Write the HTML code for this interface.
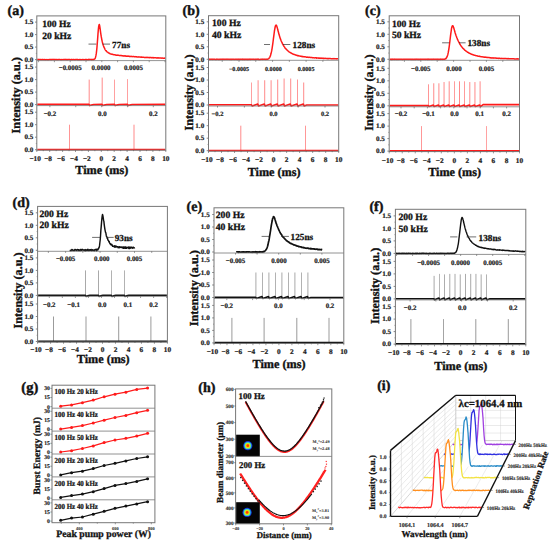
<!DOCTYPE html>
<html><head><meta charset="utf-8"><style>
html,body{margin:0;padding:0;background:#fff;}
svg{display:block;}
text{font-family:"Liberation Serif", serif;text-rendering:geometricPrecision;}
</style></head><body>
<svg width="550" height="546" viewBox="0 0 550 546">
<rect width="550" height="546" fill="#fff"/>
<line x1="35" y1="59.6" x2="36.8" y2="59.6" stroke="#555" stroke-width="0.7" />
<g transform="translate(33.3,61.8) scale(1.03,1)"><text x="0" y="0" font-size="6.9" text-anchor="end" font-weight="bold" fill="#222" stroke="#222" stroke-width="0.21" >0.0</text></g>
<line x1="35.8" y1="53.35" x2="36.8" y2="53.35" stroke="#555" stroke-width="0.5" />
<line x1="35" y1="47.1" x2="36.8" y2="47.1" stroke="#555" stroke-width="0.7" />
<g transform="translate(33.3,49.3) scale(1.03,1)"><text x="0" y="0" font-size="6.9" text-anchor="end" font-weight="bold" fill="#222" stroke="#222" stroke-width="0.21" >0.5</text></g>
<line x1="35.8" y1="40.85" x2="36.8" y2="40.85" stroke="#555" stroke-width="0.5" />
<line x1="35" y1="34.6" x2="36.8" y2="34.6" stroke="#555" stroke-width="0.7" />
<g transform="translate(33.3,36.8) scale(1.03,1)"><text x="0" y="0" font-size="6.9" text-anchor="end" font-weight="bold" fill="#222" stroke="#222" stroke-width="0.21" >1.0</text></g>
<line x1="35.8" y1="28.35" x2="36.8" y2="28.35" stroke="#555" stroke-width="0.5" />
<line x1="35" y1="22.1" x2="36.8" y2="22.1" stroke="#555" stroke-width="0.7" />
<g transform="translate(33.3,24.3) scale(1.03,1)"><text x="0" y="0" font-size="6.9" text-anchor="end" font-weight="bold" fill="#222" stroke="#222" stroke-width="0.21" >1.5</text></g>
<line x1="35" y1="104.6" x2="36.8" y2="104.6" stroke="#555" stroke-width="0.7" />
<g transform="translate(33.3,106.8) scale(1.03,1)"><text x="0" y="0" font-size="6.9" text-anchor="end" font-weight="bold" fill="#222" stroke="#222" stroke-width="0.21" >0.0</text></g>
<line x1="35.8" y1="98.35" x2="36.8" y2="98.35" stroke="#555" stroke-width="0.5" />
<line x1="35" y1="92.1" x2="36.8" y2="92.1" stroke="#555" stroke-width="0.7" />
<g transform="translate(33.3,94.3) scale(1.03,1)"><text x="0" y="0" font-size="6.9" text-anchor="end" font-weight="bold" fill="#222" stroke="#222" stroke-width="0.21" >0.5</text></g>
<line x1="35.8" y1="85.85" x2="36.8" y2="85.85" stroke="#555" stroke-width="0.5" />
<line x1="35" y1="79.6" x2="36.8" y2="79.6" stroke="#555" stroke-width="0.7" />
<g transform="translate(33.3,81.8) scale(1.03,1)"><text x="0" y="0" font-size="6.9" text-anchor="end" font-weight="bold" fill="#222" stroke="#222" stroke-width="0.21" >1.0</text></g>
<line x1="35.8" y1="73.35" x2="36.8" y2="73.35" stroke="#555" stroke-width="0.5" />
<line x1="35" y1="67.1" x2="36.8" y2="67.1" stroke="#555" stroke-width="0.7" />
<g transform="translate(33.3,69.3) scale(1.03,1)"><text x="0" y="0" font-size="6.9" text-anchor="end" font-weight="bold" fill="#222" stroke="#222" stroke-width="0.21" >1.5</text></g>
<line x1="35" y1="149.7" x2="36.8" y2="149.7" stroke="#555" stroke-width="0.7" />
<g transform="translate(33.3,151.9) scale(1.03,1)"><text x="0" y="0" font-size="6.9" text-anchor="end" font-weight="bold" fill="#222" stroke="#222" stroke-width="0.21" >0.0</text></g>
<line x1="35.8" y1="143.45" x2="36.8" y2="143.45" stroke="#555" stroke-width="0.5" />
<line x1="35" y1="137.2" x2="36.8" y2="137.2" stroke="#555" stroke-width="0.7" />
<g transform="translate(33.3,139.4) scale(1.03,1)"><text x="0" y="0" font-size="6.9" text-anchor="end" font-weight="bold" fill="#222" stroke="#222" stroke-width="0.21" >0.5</text></g>
<line x1="35.8" y1="130.95" x2="36.8" y2="130.95" stroke="#555" stroke-width="0.5" />
<line x1="35" y1="124.7" x2="36.8" y2="124.7" stroke="#555" stroke-width="0.7" />
<g transform="translate(33.3,126.9) scale(1.03,1)"><text x="0" y="0" font-size="6.9" text-anchor="end" font-weight="bold" fill="#222" stroke="#222" stroke-width="0.21" >1.0</text></g>
<line x1="35.8" y1="118.45" x2="36.8" y2="118.45" stroke="#555" stroke-width="0.5" />
<line x1="35" y1="112.2" x2="36.8" y2="112.2" stroke="#555" stroke-width="0.7" />
<g transform="translate(33.3,114.4) scale(1.03,1)"><text x="0" y="0" font-size="6.9" text-anchor="end" font-weight="bold" fill="#222" stroke="#222" stroke-width="0.21" >1.5</text></g>
<polyline points="37.3,59.71 37.63,59.5 37.97,59.52 38.3,59.67 38.63,59.6 38.97,59.62 39.3,59.55 39.63,59.51 39.97,59.72 40.3,59.74 40.63,59.5 40.97,59.62 41.3,59.52 41.63,59.75 41.97,59.62 42.3,59.53 42.63,59.68 42.97,59.47 43.3,59.48 43.63,59.74 43.97,59.74 44.3,59.59 44.63,59.47 44.97,59.64 45.3,59.69 45.63,59.62 45.97,59.74 46.3,59.68 46.63,59.62 46.97,59.6 47.3,59.68 47.63,59.68 47.97,59.68 48.3,59.61 48.63,59.66 48.97,59.74 49.3,59.5 49.63,59.58 49.97,59.56 50.3,59.69 50.63,59.45 50.97,59.49 51.3,59.71 51.63,59.65 51.97,59.53 52.3,59.54 52.63,59.47 52.97,59.62 53.3,59.5 53.63,59.55 53.97,59.66 54.3,59.57 54.63,59.49 54.97,59.5 55.3,59.6 55.63,59.57 55.97,59.74 56.3,59.68 56.63,59.51 56.97,59.63 57.3,59.7 57.63,59.59 57.97,59.54 58.3,59.55 58.63,59.64 58.97,59.62 59.3,59.6 59.63,59.52 59.97,59.59 60.3,59.63 60.63,59.6 60.97,59.74 61.3,59.74 61.63,59.54 61.97,59.46 62.3,59.57 62.63,59.63 62.97,59.7 63.3,59.6 63.63,59.46 63.97,59.52 64.3,59.59 64.63,59.49 64.97,59.68 65.3,59.6 65.63,59.46 65.97,59.58 66.3,59.61 66.63,59.67 66.97,59.59 67.3,59.46 67.63,59.75 67.97,59.51 68.3,59.5 68.63,59.48 68.97,59.53 69.3,59.51 69.63,59.59 69.97,59.58 70.3,59.62 70.63,59.73 70.97,59.49 71.3,59.58 71.63,59.69 71.97,59.6 72.3,59.6 72.63,59.64 72.97,59.65 73.3,59.59 73.63,59.56 73.97,59.57 74.3,59.61 74.63,59.74 74.97,59.68 75.3,59.7 75.63,59.57 75.97,59.49 76.3,59.51 76.63,59.51 76.97,59.51 77.3,59.67 77.63,59.5 77.97,59.55 78.3,59.73 78.63,59.74 78.97,59.75 79.3,59.52 79.63,59.68 79.97,59.72 80.3,59.56 80.63,59.65 80.97,59.73 81.3,59.7 81.63,59.59 81.97,59.7 82.3,59.67 82.63,59.54 82.97,59.61 83.3,59.65 83.63,59.61 83.97,59.74 84.3,59.63 84.63,59.62 84.97,59.69 85.3,59.72 85.63,59.48 85.97,59.6 86.3,59.69 86.63,59.57 86.97,59.5 87.3,59.74 87.63,59.74 87.97,59.71 88.3,59.53 88.63,59.7 88.97,59.54 89.3,59.55 89.63,59.59 89.97,59.68 90.3,59.46 90.63,59.51 90.97,59.59 91.3,59.68 91.63,59.56 91.97,59.63 92.3,59.57 92.63,59.65 92.97,59.55 93.3,59.7 93.63,59.59 93.97,59.32 94.3,59.21 94.63,59.14 94.97,58.57 95.3,58.07 95.63,56.86 95.97,55.41 96.3,53.42 96.63,50.7 96.97,47.33 97.3,43.03 97.63,38.85 97.97,34.13 98.3,29.98 98.63,26.86 98.97,25.06 99.3,24.49 99.63,25.51 99.97,27.6 100.3,30.08 100.63,32.56 100.97,34.84 101.3,36.94 101.63,38.63 101.97,40.35 102.3,41.89 102.63,43.23 102.97,44.24 103.3,45.4 103.63,46.28 103.97,47.18 104.3,47.78 104.63,48.45 104.97,49.32 105.3,49.82 105.63,50.28 105.97,50.52 106.3,50.99 106.63,51.48 106.97,51.85 107.3,52 107.63,52.22 107.97,52.44 108.3,52.83 108.63,52.87 108.97,53.12 109.3,53.34 109.63,53.35 109.97,53.71 110.3,53.7 110.63,54.01 110.97,54.09 111.3,53.97 111.63,54.28 111.97,54.2 112.3,54.33 112.63,54.34 112.97,54.55 113.3,54.63 113.63,54.71 113.97,54.6 114.3,54.74 114.63,54.69 114.97,54.76 115.3,55.04 115.63,54.97 115.97,55.15 116.3,55.21 116.63,55.25 116.97,55.05 117.3,55.12 117.63,55.15 117.97,55.33 118.3,55.29 118.63,55.28 118.97,55.43 119.3,55.41 119.63,55.55 119.97,55.63 120.3,55.61 120.63,55.45 120.97,55.59 121.3,55.51 121.63,55.68 121.97,55.77 122.3,55.65 122.63,55.67 122.97,55.94 123.3,55.77 123.63,55.98 123.97,56 124.3,55.8 124.63,56.08 124.97,56.05 125.3,55.85 125.63,56.05 125.97,56.17 126.3,56.18 126.63,56.19 126.97,56.07 127.3,56.28 127.63,56.07 127.97,56.26 128.3,56.1 128.63,56.15 128.97,56.36 129.3,56.4 129.63,56.36 129.97,56.49 130.3,56.35 130.63,56.56 130.97,56.59 131.3,56.33 131.63,56.56 131.97,56.49 132.3,56.56 132.63,56.62 132.97,56.72 133.3,56.49 133.63,56.5 133.97,56.52 134.3,56.8 134.63,56.79 134.97,56.69 135.3,56.61 135.63,56.76 135.97,56.74 136.3,56.77 136.63,56.91 136.97,56.85 137.3,56.94 137.63,56.98 137.97,57.05 138.3,57.01 138.63,56.82 138.97,57 139.3,56.96 139.63,56.98 139.97,56.91 140.3,57.1 140.63,57.14 140.97,57.15 141.3,57.18 141.63,57.04 141.97,57.04 142.3,57.24 142.63,57.25 142.97,57.2 143.3,57.21 143.63,57.22 143.97,57.35 144.3,57.43 144.63,57.38 144.97,57.45 145.3,57.33 145.63,57.49 145.97,57.5 146.3,57.35 146.63,57.47 146.97,57.34 147.3,57.45 147.63,57.35 147.97,57.58 148.3,57.49 148.63,57.42 148.97,57.65 149.3,57.41 149.63,57.66 149.97,57.49 150.3,57.44 150.63,57.51 150.97,57.67 151.3,57.75 151.63,57.65 151.97,57.54 152.3,57.74 152.63,57.58 152.97,57.82 153.3,57.6 153.63,57.88 153.97,57.81 154.3,57.65 154.63,57.69 154.97,57.67 155.3,57.71 155.63,57.75 155.97,57.78 156.3,57.95 156.63,57.89 156.97,57.98 157.3,57.83 157.63,57.85 157.97,57.99 158.3,58.06 158.63,57.8 158.97,57.86 159.3,57.95 159.63,57.97 159.97,57.89 160.3,58.02 160.63,58.05 160.97,58.08 161.3,58.12 161.63,58.2 161.97,58.02 162.3,58.1 162.63,58.07 162.97,58.23 163.3,58.16 163.63,58.23 163.97,58.25 164.3,58.22 164.63,58.06 164.97,58.19 165.3,58.2" fill="none" stroke="#ff1a1a" stroke-width="1.5" stroke-linejoin="round" />
<polyline points="37.3,104.4 89,104.4 89.7,105.6 91.2,105.1 93.7,104.5 102,104.4 102.7,105.6 104.2,105.1 106.7,104.5 114.5,104.4 115.2,105.6 116.7,105.1 119.2,104.5 127.5,104.4 128.2,105.6 129.7,105.1 132.2,104.5 165.3,104.4" fill="none" stroke="#ff1a1a" stroke-width="1.6" stroke-linejoin="round" />
<line x1="89.2" y1="104.6" x2="89.2" y2="79.6" stroke="#ff1a1a" stroke-width="0.6" opacity="0.85"/>
<line x1="102.2" y1="104.6" x2="102.2" y2="77.6" stroke="#ff1a1a" stroke-width="0.6" opacity="0.85"/>
<line x1="114.7" y1="104.6" x2="114.7" y2="79.6" stroke="#ff1a1a" stroke-width="0.6" opacity="0.85"/>
<line x1="127.7" y1="104.6" x2="127.7" y2="79.1" stroke="#ff1a1a" stroke-width="0.6" opacity="0.85"/>
<line x1="37.3" y1="149.5" x2="165.3" y2="149.5" stroke="#ff1a1a" stroke-width="1.7" />
<line x1="69.6" y1="149.7" x2="69.6" y2="124.7" stroke="#ff1a1a" stroke-width="0.6" opacity="0.85"/>
<line x1="134" y1="149.7" x2="134" y2="124.7" stroke="#ff1a1a" stroke-width="0.6" opacity="0.85"/>
<line x1="36.8" y1="60.6" x2="165.8" y2="60.6" stroke="#777" stroke-width="0.8" />
<line x1="36.8" y1="105.6" x2="165.8" y2="105.6" stroke="#777" stroke-width="0.8" />
<rect x="36.8" y="15.9" width="129" height="134.3" fill="none" stroke="#777" stroke-width="1"/>
<text x="70.2" y="70.2" font-size="6.9" text-anchor="middle" font-weight="bold" fill="#222" stroke="#222" stroke-width="0.21" >−0.0005</text>
<text x="101.1" y="70.2" font-size="6.9" text-anchor="middle" font-weight="bold" fill="#222" stroke="#222" stroke-width="0.21" >0.0000</text>
<text x="133.4" y="70.2" font-size="6.9" text-anchor="middle" font-weight="bold" fill="#222" stroke="#222" stroke-width="0.21" >0.0005</text>
<line x1="38.6" y1="60.6" x2="38.6" y2="62.2" stroke="#555" stroke-width="0.6" />
<line x1="54.4" y1="60.6" x2="54.4" y2="62.2" stroke="#555" stroke-width="0.6" />
<line x1="70.2" y1="60.6" x2="70.2" y2="62.2" stroke="#555" stroke-width="0.6" />
<line x1="86" y1="60.6" x2="86" y2="62.2" stroke="#555" stroke-width="0.6" />
<line x1="101.8" y1="60.6" x2="101.8" y2="62.2" stroke="#555" stroke-width="0.6" />
<line x1="117.6" y1="60.6" x2="117.6" y2="62.2" stroke="#555" stroke-width="0.6" />
<line x1="133.4" y1="60.6" x2="133.4" y2="62.2" stroke="#555" stroke-width="0.6" />
<line x1="149.2" y1="60.6" x2="149.2" y2="62.2" stroke="#555" stroke-width="0.6" />
<line x1="165" y1="60.6" x2="165" y2="62.2" stroke="#555" stroke-width="0.6" />
<text x="49.9" y="116.2" font-size="6.9" text-anchor="middle" font-weight="bold" fill="#222" stroke="#222" stroke-width="0.21" >−0.2</text>
<text x="102.4" y="116.2" font-size="6.9" text-anchor="middle" font-weight="bold" fill="#222" stroke="#222" stroke-width="0.21" >0.0</text>
<text x="153.3" y="116.2" font-size="6.9" text-anchor="middle" font-weight="bold" fill="#222" stroke="#222" stroke-width="0.21" >0.2</text>
<line x1="49.9" y1="105.6" x2="49.9" y2="107.2" stroke="#555" stroke-width="0.6" />
<line x1="75.75" y1="105.6" x2="75.75" y2="107.2" stroke="#555" stroke-width="0.6" />
<line x1="101.6" y1="105.6" x2="101.6" y2="107.2" stroke="#555" stroke-width="0.6" />
<line x1="127.45" y1="105.6" x2="127.45" y2="107.2" stroke="#555" stroke-width="0.6" />
<line x1="153.3" y1="105.6" x2="153.3" y2="107.2" stroke="#555" stroke-width="0.6" />
<line x1="36.8" y1="150.2" x2="36.8" y2="152" stroke="#555" stroke-width="0.6" />
<line x1="43.25" y1="150.2" x2="43.25" y2="151.2" stroke="#555" stroke-width="0.6" />
<line x1="49.7" y1="150.2" x2="49.7" y2="152" stroke="#555" stroke-width="0.6" />
<line x1="56.15" y1="150.2" x2="56.15" y2="151.2" stroke="#555" stroke-width="0.6" />
<line x1="62.6" y1="150.2" x2="62.6" y2="152" stroke="#555" stroke-width="0.6" />
<line x1="69.05" y1="150.2" x2="69.05" y2="151.2" stroke="#555" stroke-width="0.6" />
<line x1="75.5" y1="150.2" x2="75.5" y2="152" stroke="#555" stroke-width="0.6" />
<line x1="81.95" y1="150.2" x2="81.95" y2="151.2" stroke="#555" stroke-width="0.6" />
<line x1="88.4" y1="150.2" x2="88.4" y2="152" stroke="#555" stroke-width="0.6" />
<line x1="94.85" y1="150.2" x2="94.85" y2="151.2" stroke="#555" stroke-width="0.6" />
<line x1="101.3" y1="150.2" x2="101.3" y2="152" stroke="#555" stroke-width="0.6" />
<line x1="107.75" y1="150.2" x2="107.75" y2="151.2" stroke="#555" stroke-width="0.6" />
<line x1="114.2" y1="150.2" x2="114.2" y2="152" stroke="#555" stroke-width="0.6" />
<line x1="120.65" y1="150.2" x2="120.65" y2="151.2" stroke="#555" stroke-width="0.6" />
<line x1="127.1" y1="150.2" x2="127.1" y2="152" stroke="#555" stroke-width="0.6" />
<line x1="133.55" y1="150.2" x2="133.55" y2="151.2" stroke="#555" stroke-width="0.6" />
<line x1="140" y1="150.2" x2="140" y2="152" stroke="#555" stroke-width="0.6" />
<line x1="146.45" y1="150.2" x2="146.45" y2="151.2" stroke="#555" stroke-width="0.6" />
<line x1="152.9" y1="150.2" x2="152.9" y2="152" stroke="#555" stroke-width="0.6" />
<line x1="159.35" y1="150.2" x2="159.35" y2="151.2" stroke="#555" stroke-width="0.6" />
<line x1="165.8" y1="150.2" x2="165.8" y2="152" stroke="#555" stroke-width="0.6" />
<text x="35.2" y="161" font-size="7.3" text-anchor="middle" font-weight="bold" fill="#222" stroke="#222" stroke-width="0.22" >−10</text>
<text x="48.1" y="161" font-size="7.3" text-anchor="middle" font-weight="bold" fill="#222" stroke="#222" stroke-width="0.22" >−8</text>
<text x="61" y="161" font-size="7.3" text-anchor="middle" font-weight="bold" fill="#222" stroke="#222" stroke-width="0.22" >−6</text>
<text x="73.9" y="161" font-size="7.3" text-anchor="middle" font-weight="bold" fill="#222" stroke="#222" stroke-width="0.22" >−4</text>
<text x="86.8" y="161" font-size="7.3" text-anchor="middle" font-weight="bold" fill="#222" stroke="#222" stroke-width="0.22" >−2</text>
<text x="101.3" y="161" font-size="7.3" text-anchor="middle" font-weight="bold" fill="#222" stroke="#222" stroke-width="0.22" >0</text>
<text x="114.2" y="161" font-size="7.3" text-anchor="middle" font-weight="bold" fill="#222" stroke="#222" stroke-width="0.22" >2</text>
<text x="127.1" y="161" font-size="7.3" text-anchor="middle" font-weight="bold" fill="#222" stroke="#222" stroke-width="0.22" >4</text>
<text x="140" y="161" font-size="7.3" text-anchor="middle" font-weight="bold" fill="#222" stroke="#222" stroke-width="0.22" >6</text>
<text x="152.9" y="161" font-size="7.3" text-anchor="middle" font-weight="bold" fill="#222" stroke="#222" stroke-width="0.22" >8</text>
<text x="165.8" y="161" font-size="7.3" text-anchor="middle" font-weight="bold" fill="#222" stroke="#222" stroke-width="0.22" >10</text>
<line x1="88.5" y1="44.1" x2="96.3" y2="44.1" stroke="#222" stroke-width="0.65" />
<line x1="102.7" y1="44.1" x2="110" y2="44.1" stroke="#222" stroke-width="0.65" />
<text x="112.1" y="47.7" font-size="9.2" text-anchor="start" font-weight="bold" fill="#111" stroke="#111" stroke-width="0.28" >77ns</text>
<text x="42.2" y="27.4" font-size="9.6" text-anchor="start" font-weight="bold" fill="#111" stroke="#111" stroke-width="0.29" >100 Hz</text>
<text x="42.2" y="39.3" font-size="9.6" text-anchor="start" font-weight="bold" fill="#111" stroke="#111" stroke-width="0.29" >20 kHz</text>
<text x="7.6" y="14.7" font-size="14" text-anchor="start" font-weight="bold" fill="#111" stroke="#111" stroke-width="0.42" >(a)</text>
<text x="101.8" y="174.3" font-size="12.2" text-anchor="middle" font-weight="bold" fill="#111" stroke="#111" stroke-width="0.37" >Time (ms)</text>
<text x="0" y="0" font-size="12.2" text-anchor="middle" font-weight="bold" fill="#111" stroke="#111" stroke-width="0.37" transform="translate(20.3,95.3) rotate(-90)">Intensity (a.u.)</text>
<line x1="206.7" y1="59.3" x2="208.5" y2="59.3" stroke="#555" stroke-width="0.7" />
<g transform="translate(204.2,61.5) scale(1.03,1)"><text x="0" y="0" font-size="6.9" text-anchor="end" font-weight="bold" fill="#222" stroke="#222" stroke-width="0.21" >0.0</text></g>
<line x1="207.5" y1="53.05" x2="208.5" y2="53.05" stroke="#555" stroke-width="0.5" />
<line x1="206.7" y1="46.8" x2="208.5" y2="46.8" stroke="#555" stroke-width="0.7" />
<g transform="translate(204.2,49) scale(1.03,1)"><text x="0" y="0" font-size="6.9" text-anchor="end" font-weight="bold" fill="#222" stroke="#222" stroke-width="0.21" >0.5</text></g>
<line x1="207.5" y1="40.55" x2="208.5" y2="40.55" stroke="#555" stroke-width="0.5" />
<line x1="206.7" y1="34.3" x2="208.5" y2="34.3" stroke="#555" stroke-width="0.7" />
<g transform="translate(204.2,36.5) scale(1.03,1)"><text x="0" y="0" font-size="6.9" text-anchor="end" font-weight="bold" fill="#222" stroke="#222" stroke-width="0.21" >1.0</text></g>
<line x1="207.5" y1="28.05" x2="208.5" y2="28.05" stroke="#555" stroke-width="0.5" />
<line x1="206.7" y1="21.8" x2="208.5" y2="21.8" stroke="#555" stroke-width="0.7" />
<g transform="translate(204.2,24) scale(1.03,1)"><text x="0" y="0" font-size="6.9" text-anchor="end" font-weight="bold" fill="#222" stroke="#222" stroke-width="0.21" >1.5</text></g>
<line x1="206.7" y1="105" x2="208.5" y2="105" stroke="#555" stroke-width="0.7" />
<g transform="translate(204.2,107.2) scale(1.03,1)"><text x="0" y="0" font-size="6.9" text-anchor="end" font-weight="bold" fill="#222" stroke="#222" stroke-width="0.21" >0.0</text></g>
<line x1="207.5" y1="98.75" x2="208.5" y2="98.75" stroke="#555" stroke-width="0.5" />
<line x1="206.7" y1="92.5" x2="208.5" y2="92.5" stroke="#555" stroke-width="0.7" />
<g transform="translate(204.2,94.7) scale(1.03,1)"><text x="0" y="0" font-size="6.9" text-anchor="end" font-weight="bold" fill="#222" stroke="#222" stroke-width="0.21" >0.5</text></g>
<line x1="207.5" y1="86.25" x2="208.5" y2="86.25" stroke="#555" stroke-width="0.5" />
<line x1="206.7" y1="80" x2="208.5" y2="80" stroke="#555" stroke-width="0.7" />
<g transform="translate(204.2,82.2) scale(1.03,1)"><text x="0" y="0" font-size="6.9" text-anchor="end" font-weight="bold" fill="#222" stroke="#222" stroke-width="0.21" >1.0</text></g>
<line x1="207.5" y1="73.75" x2="208.5" y2="73.75" stroke="#555" stroke-width="0.5" />
<line x1="206.7" y1="67.5" x2="208.5" y2="67.5" stroke="#555" stroke-width="0.7" />
<g transform="translate(204.2,69.7) scale(1.03,1)"><text x="0" y="0" font-size="6.9" text-anchor="end" font-weight="bold" fill="#222" stroke="#222" stroke-width="0.21" >1.5</text></g>
<line x1="206.7" y1="150.7" x2="208.5" y2="150.7" stroke="#555" stroke-width="0.7" />
<g transform="translate(204.2,152.9) scale(1.03,1)"><text x="0" y="0" font-size="6.9" text-anchor="end" font-weight="bold" fill="#222" stroke="#222" stroke-width="0.21" >0.0</text></g>
<line x1="207.5" y1="144.45" x2="208.5" y2="144.45" stroke="#555" stroke-width="0.5" />
<line x1="206.7" y1="138.2" x2="208.5" y2="138.2" stroke="#555" stroke-width="0.7" />
<g transform="translate(204.2,140.4) scale(1.03,1)"><text x="0" y="0" font-size="6.9" text-anchor="end" font-weight="bold" fill="#222" stroke="#222" stroke-width="0.21" >0.5</text></g>
<line x1="207.5" y1="131.95" x2="208.5" y2="131.95" stroke="#555" stroke-width="0.5" />
<line x1="206.7" y1="125.7" x2="208.5" y2="125.7" stroke="#555" stroke-width="0.7" />
<g transform="translate(204.2,127.9) scale(1.03,1)"><text x="0" y="0" font-size="6.9" text-anchor="end" font-weight="bold" fill="#222" stroke="#222" stroke-width="0.21" >1.0</text></g>
<line x1="207.5" y1="119.45" x2="208.5" y2="119.45" stroke="#555" stroke-width="0.5" />
<line x1="206.7" y1="113.2" x2="208.5" y2="113.2" stroke="#555" stroke-width="0.7" />
<g transform="translate(204.2,115.4) scale(1.03,1)"><text x="0" y="0" font-size="6.9" text-anchor="end" font-weight="bold" fill="#222" stroke="#222" stroke-width="0.21" >1.5</text></g>
<polyline points="209,59.16 209.33,59.17 209.67,59.43 210,59.42 210.34,59.2 210.67,59.23 211,59.25 211.34,59.36 211.67,59.27 212,59.27 212.34,59.28 212.67,59.4 213.01,59.32 213.34,59.33 213.67,59.23 214.01,59.15 214.34,59.17 214.68,59.29 215.01,59.32 215.34,59.37 215.68,59.44 216.01,59.44 216.34,59.31 216.68,59.35 217.01,59.34 217.35,59.18 217.68,59.29 218.01,59.28 218.35,59.38 218.68,59.44 219.02,59.35 219.35,59.41 219.68,59.3 220.02,59.15 220.35,59.25 220.68,59.4 221.02,59.18 221.35,59.21 221.69,59.23 222.02,59.18 222.35,59.22 222.69,59.21 223.02,59.34 223.36,59.16 223.69,59.16 224.02,59.4 224.36,59.22 224.69,59.24 225.02,59.31 225.36,59.29 225.69,59.3 226.03,59.17 226.36,59.3 226.69,59.2 227.03,59.34 227.36,59.19 227.7,59.18 228.03,59.31 228.36,59.28 228.7,59.17 229.03,59.23 229.36,59.3 229.7,59.38 230.03,59.35 230.37,59.24 230.7,59.4 231.03,59.18 231.37,59.37 231.7,59.18 232.04,59.36 232.37,59.16 232.7,59.24 233.04,59.3 233.37,59.29 233.7,59.25 234.04,59.27 234.37,59.36 234.71,59.39 235.04,59.3 235.37,59.17 235.71,59.26 236.04,59.43 236.38,59.2 236.71,59.23 237.04,59.18 237.38,59.39 237.71,59.23 238.04,59.43 238.38,59.25 238.71,59.37 239.05,59.38 239.38,59.19 239.71,59.42 240.05,59.29 240.38,59.19 240.72,59.38 241.05,59.39 241.38,59.19 241.72,59.32 242.05,59.23 242.39,59.44 242.72,59.34 243.05,59.4 243.39,59.25 243.72,59.43 244.05,59.16 244.39,59.44 244.72,59.23 245.06,59.44 245.39,59.37 245.72,59.21 246.06,59.4 246.39,59.39 246.73,59.24 247.06,59.33 247.39,59.44 247.73,59.15 248.06,59.4 248.39,59.44 248.73,59.35 249.06,59.27 249.4,59.23 249.73,59.42 250.06,59.35 250.4,59.44 250.73,59.32 251.07,59.22 251.4,59.23 251.73,59.18 252.07,59.22 252.4,59.19 252.73,59.24 253.07,59.31 253.4,59.38 253.74,59.25 254.07,59.36 254.4,59.42 254.74,59.32 255.07,59.19 255.41,59.41 255.74,59.27 256.07,59.33 256.41,59.3 256.74,59.41 257.07,59.16 257.41,59.37 257.74,59.27 258.08,59.32 258.41,59.44 258.74,59.28 259.08,59.41 259.41,59.43 259.75,59.44 260.08,59.4 260.41,59.42 260.75,59.26 261.08,59.3 261.41,59.15 261.75,59.17 262.08,59.15 262.42,59.38 262.75,59.32 263.08,59.37 263.42,59.27 263.75,59.26 264.09,59.21 264.42,59.23 264.75,59.37 265.09,59.32 265.42,59.28 265.75,59.43 266.09,59.41 266.42,59.28 266.76,59.34 267.09,59.12 267.42,59.2 267.76,59.16 268.09,59.01 268.43,58.83 268.76,58.6 269.09,58.2 269.43,57.81 269.76,57.32 270.09,56.55 270.43,55.83 270.76,54.58 271.1,53.3 271.43,51.89 271.76,50.25 272.1,48.27 272.43,46.07 272.77,43.87 273.1,41.24 273.43,38.61 273.77,36.1 274.1,33.59 274.43,31 274.77,29.03 275.1,27.25 275.44,25.86 275.77,25.22 276.1,25.11 276.44,25.22 276.77,26.14 277.11,27.28 277.44,28.31 277.77,29.8 278.11,31.06 278.44,32.2 278.77,33.48 279.11,34.86 279.44,35.84 279.78,36.91 280.11,37.89 280.44,38.92 280.78,39.7 281.11,40.71 281.45,41.45 281.78,42.18 282.11,42.73 282.45,43.68 282.78,44.12 283.11,44.9 283.45,45.37 283.78,45.98 284.12,46.48 284.45,46.9 284.78,47.48 285.12,48.01 285.45,48.44 285.79,48.85 286.12,49.01 286.45,49.44 286.79,49.69 287.12,50.1 287.45,50.62 287.79,50.73 288.12,50.98 288.46,51.27 288.79,51.6 289.12,51.89 289.46,52.1 289.79,52.22 290.13,52.6 290.46,52.72 290.79,52.94 291.13,52.98 291.46,53.21 291.79,53.34 292.13,53.54 292.46,53.86 292.8,54.03 293.13,54.1 293.46,54.3 293.8,54.39 294.13,54.44 294.47,54.49 294.8,54.71 295.13,54.75 295.47,55.08 295.8,55.11 296.13,55.02 296.47,55.37 296.8,55.38 297.14,55.58 297.47,55.66 297.8,55.5 298.14,55.56 298.47,55.74 298.81,55.97 299.14,56 299.47,56.09 299.81,56.02 300.14,56.09 300.47,56.23 300.81,56.26 301.14,56.45 301.48,56.38 301.81,56.31 302.14,56.43 302.48,56.68 302.81,56.61 303.15,56.6 303.48,56.79 303.81,56.64 304.15,56.82 304.48,56.79 304.81,56.93 305.15,56.79 305.48,56.9 305.82,57.01 306.15,57.17 306.48,57.12 306.82,57.29 307.15,57.16 307.49,57.11 307.82,57.35 308.15,57.29 308.49,57.33 308.82,57.39 309.16,57.33 309.49,57.29 309.82,57.39 310.16,57.5 310.49,57.38 310.82,57.6 311.16,57.5 311.49,57.56 311.83,57.55 312.16,57.55 312.49,57.77 312.83,57.68 313.16,57.77 313.5,57.71 313.83,57.65 314.16,57.77 314.5,57.98 314.83,57.87 315.16,57.82 315.5,57.79 315.83,57.88 316.17,57.85 316.5,58.12 316.83,57.86 317.17,57.94 317.5,58 317.84,57.93 318.17,57.96 318.5,58.21 318.84,58.02 319.17,58.05 319.5,58.24 319.84,58.09 320.17,58.16 320.51,58.29 320.84,58.13 321.17,58.34 321.51,58.22 321.84,58.29 322.18,58.36 322.51,58.28 322.84,58.32 323.18,58.42 323.51,58.2 323.84,58.49 324.18,58.52 324.51,58.39 324.85,58.3 325.18,58.37 325.51,58.35 325.85,58.45 326.18,58.4 326.52,58.52 326.85,58.55 327.18,58.49 327.52,58.65 327.85,58.64 328.18,58.45 328.52,58.64 328.85,58.48 329.19,58.48 329.52,58.6 329.85,58.53 330.19,58.51 330.52,58.5 330.86,58.73 331.19,58.73 331.52,58.67 331.86,58.66 332.19,58.72 332.52,58.81 332.86,58.66 333.19,58.55 333.53,58.74 333.86,58.69 334.19,58.75 334.53,58.74 334.86,58.62 335.2,58.8 335.53,58.7 335.86,58.76 336.2,58.75 336.53,58.65 336.86,58.91 337.2,58.69 337.53,58.85 337.87,58.75 338.2,58.71" fill="none" stroke="#ff1a1a" stroke-width="1.5" stroke-linejoin="round" />
<polyline points="209,104.8 251.4,104.8 252.1,105.9 257.7,104.1 258.5,105.9 264.3,104.1 265.1,105.9 270.7,104.1 271.5,105.9 277.3,104.1 278.1,105.9 283.7,104.1 284.5,105.9 290.3,104.1 291.1,105.9 297,104.1 297.8,105.9 303.3,104.1 304.1,105.9 306.7,105 338.2,105" fill="none" stroke="#ff1a1a" stroke-width="1.6" stroke-linejoin="round" />
<line x1="251.7" y1="105" x2="251.7" y2="82.5" stroke="#ff1a1a" stroke-width="0.6" opacity="0.85"/>
<line x1="258.1" y1="105" x2="258.1" y2="80.25" stroke="#ff1a1a" stroke-width="0.6" opacity="0.85"/>
<line x1="264.7" y1="105" x2="264.7" y2="80.25" stroke="#ff1a1a" stroke-width="0.6" opacity="0.85"/>
<line x1="271.1" y1="105" x2="271.1" y2="80.25" stroke="#ff1a1a" stroke-width="0.6" opacity="0.85"/>
<line x1="277.7" y1="105" x2="277.7" y2="79.5" stroke="#ff1a1a" stroke-width="0.6" opacity="0.85"/>
<line x1="284.1" y1="105" x2="284.1" y2="78.5" stroke="#ff1a1a" stroke-width="0.6" opacity="0.85"/>
<line x1="290.7" y1="105" x2="290.7" y2="78.5" stroke="#ff1a1a" stroke-width="0.6" opacity="0.85"/>
<line x1="297.4" y1="105" x2="297.4" y2="79.5" stroke="#ff1a1a" stroke-width="0.6" opacity="0.85"/>
<line x1="303.7" y1="105" x2="303.7" y2="82.5" stroke="#ff1a1a" stroke-width="0.6" opacity="0.85"/>
<line x1="209" y1="150.5" x2="338.2" y2="150.5" stroke="#ff1a1a" stroke-width="1.7" />
<line x1="240.8" y1="150.7" x2="240.8" y2="125.7" stroke="#ff1a1a" stroke-width="0.6" opacity="0.85"/>
<line x1="305.4" y1="150.7" x2="305.4" y2="125.7" stroke="#ff1a1a" stroke-width="0.6" opacity="0.85"/>
<line x1="208.5" y1="60.3" x2="338.7" y2="60.3" stroke="#777" stroke-width="0.8" />
<line x1="208.5" y1="106" x2="338.7" y2="106" stroke="#777" stroke-width="0.8" />
<rect x="208.5" y="15.7" width="130.2" height="135.5" fill="none" stroke="#777" stroke-width="1"/>
<text x="239" y="70.5" font-size="6.1" text-anchor="middle" font-weight="bold" fill="#222" stroke="#222" stroke-width="0.18" >−0.0005</text>
<text x="273.4" y="70.5" font-size="6.1" text-anchor="middle" font-weight="bold" fill="#222" stroke="#222" stroke-width="0.18" >0.0000</text>
<text x="306.1" y="70.5" font-size="6.1" text-anchor="middle" font-weight="bold" fill="#222" stroke="#222" stroke-width="0.18" >0.0005</text>
<line x1="222.22" y1="60.3" x2="222.22" y2="61.9" stroke="#555" stroke-width="0.6" />
<line x1="239" y1="60.3" x2="239" y2="61.9" stroke="#555" stroke-width="0.6" />
<line x1="255.78" y1="60.3" x2="255.78" y2="61.9" stroke="#555" stroke-width="0.6" />
<line x1="272.55" y1="60.3" x2="272.55" y2="61.9" stroke="#555" stroke-width="0.6" />
<line x1="289.33" y1="60.3" x2="289.33" y2="61.9" stroke="#555" stroke-width="0.6" />
<line x1="306.1" y1="60.3" x2="306.1" y2="61.9" stroke="#555" stroke-width="0.6" />
<line x1="322.88" y1="60.3" x2="322.88" y2="61.9" stroke="#555" stroke-width="0.6" />
<text x="217.5" y="115.7" font-size="6.5" text-anchor="middle" font-weight="bold" fill="#222" stroke="#222" stroke-width="0.20" >−0.2</text>
<text x="273.5" y="115.7" font-size="6.5" text-anchor="middle" font-weight="bold" fill="#222" stroke="#222" stroke-width="0.20" >0.0</text>
<text x="325" y="115.7" font-size="6.5" text-anchor="middle" font-weight="bold" fill="#222" stroke="#222" stroke-width="0.20" >0.2</text>
<line x1="217.5" y1="106" x2="217.5" y2="107.6" stroke="#555" stroke-width="0.6" />
<line x1="244.38" y1="106" x2="244.38" y2="107.6" stroke="#555" stroke-width="0.6" />
<line x1="271.25" y1="106" x2="271.25" y2="107.6" stroke="#555" stroke-width="0.6" />
<line x1="298.12" y1="106" x2="298.12" y2="107.6" stroke="#555" stroke-width="0.6" />
<line x1="325" y1="106" x2="325" y2="107.6" stroke="#555" stroke-width="0.6" />
<line x1="208.5" y1="151.2" x2="208.5" y2="153" stroke="#555" stroke-width="0.6" />
<line x1="215.01" y1="151.2" x2="215.01" y2="152.2" stroke="#555" stroke-width="0.6" />
<line x1="221.52" y1="151.2" x2="221.52" y2="153" stroke="#555" stroke-width="0.6" />
<line x1="228.03" y1="151.2" x2="228.03" y2="152.2" stroke="#555" stroke-width="0.6" />
<line x1="234.54" y1="151.2" x2="234.54" y2="153" stroke="#555" stroke-width="0.6" />
<line x1="241.05" y1="151.2" x2="241.05" y2="152.2" stroke="#555" stroke-width="0.6" />
<line x1="247.56" y1="151.2" x2="247.56" y2="153" stroke="#555" stroke-width="0.6" />
<line x1="254.07" y1="151.2" x2="254.07" y2="152.2" stroke="#555" stroke-width="0.6" />
<line x1="260.58" y1="151.2" x2="260.58" y2="153" stroke="#555" stroke-width="0.6" />
<line x1="267.09" y1="151.2" x2="267.09" y2="152.2" stroke="#555" stroke-width="0.6" />
<line x1="273.6" y1="151.2" x2="273.6" y2="153" stroke="#555" stroke-width="0.6" />
<line x1="280.11" y1="151.2" x2="280.11" y2="152.2" stroke="#555" stroke-width="0.6" />
<line x1="286.62" y1="151.2" x2="286.62" y2="153" stroke="#555" stroke-width="0.6" />
<line x1="293.13" y1="151.2" x2="293.13" y2="152.2" stroke="#555" stroke-width="0.6" />
<line x1="299.64" y1="151.2" x2="299.64" y2="153" stroke="#555" stroke-width="0.6" />
<line x1="306.15" y1="151.2" x2="306.15" y2="152.2" stroke="#555" stroke-width="0.6" />
<line x1="312.66" y1="151.2" x2="312.66" y2="153" stroke="#555" stroke-width="0.6" />
<line x1="319.17" y1="151.2" x2="319.17" y2="152.2" stroke="#555" stroke-width="0.6" />
<line x1="325.68" y1="151.2" x2="325.68" y2="153" stroke="#555" stroke-width="0.6" />
<line x1="332.19" y1="151.2" x2="332.19" y2="152.2" stroke="#555" stroke-width="0.6" />
<line x1="338.7" y1="151.2" x2="338.7" y2="153" stroke="#555" stroke-width="0.6" />
<text x="206.9" y="161.8" font-size="7.3" text-anchor="middle" font-weight="bold" fill="#222" stroke="#222" stroke-width="0.22" >−10</text>
<text x="219.92" y="161.8" font-size="7.3" text-anchor="middle" font-weight="bold" fill="#222" stroke="#222" stroke-width="0.22" >−8</text>
<text x="232.94" y="161.8" font-size="7.3" text-anchor="middle" font-weight="bold" fill="#222" stroke="#222" stroke-width="0.22" >−6</text>
<text x="245.96" y="161.8" font-size="7.3" text-anchor="middle" font-weight="bold" fill="#222" stroke="#222" stroke-width="0.22" >−4</text>
<text x="258.98" y="161.8" font-size="7.3" text-anchor="middle" font-weight="bold" fill="#222" stroke="#222" stroke-width="0.22" >−2</text>
<text x="273.6" y="161.8" font-size="7.3" text-anchor="middle" font-weight="bold" fill="#222" stroke="#222" stroke-width="0.22" >0</text>
<text x="286.62" y="161.8" font-size="7.3" text-anchor="middle" font-weight="bold" fill="#222" stroke="#222" stroke-width="0.22" >2</text>
<text x="299.64" y="161.8" font-size="7.3" text-anchor="middle" font-weight="bold" fill="#222" stroke="#222" stroke-width="0.22" >4</text>
<text x="312.66" y="161.8" font-size="7.3" text-anchor="middle" font-weight="bold" fill="#222" stroke="#222" stroke-width="0.22" >6</text>
<text x="325.68" y="161.8" font-size="7.3" text-anchor="middle" font-weight="bold" fill="#222" stroke="#222" stroke-width="0.22" >8</text>
<text x="338.7" y="161.8" font-size="7.3" text-anchor="middle" font-weight="bold" fill="#222" stroke="#222" stroke-width="0.22" >10</text>
<line x1="264" y1="44.5" x2="270" y2="44.5" stroke="#222" stroke-width="0.65" />
<line x1="283" y1="44.5" x2="290.3" y2="44.5" stroke="#222" stroke-width="0.65" />
<text x="292.6" y="48.1" font-size="9.2" text-anchor="start" font-weight="bold" fill="#111" stroke="#111" stroke-width="0.28" >128ns</text>
<text x="212" y="26" font-size="9.7" text-anchor="start" font-weight="bold" fill="#111" stroke="#111" stroke-width="0.29" >100 Hz</text>
<text x="212" y="37.5" font-size="9.7" text-anchor="start" font-weight="bold" fill="#111" stroke="#111" stroke-width="0.29" >40 kHz</text>
<text x="182.6" y="14.9" font-size="14" text-anchor="start" font-weight="bold" fill="#111" stroke="#111" stroke-width="0.42" >(b)</text>
<text x="274.1" y="175.5" font-size="12.2" text-anchor="middle" font-weight="bold" fill="#111" stroke="#111" stroke-width="0.37" >Time (ms)</text>
<text x="0" y="0" font-size="12.2" text-anchor="middle" font-weight="bold" fill="#111" stroke="#111" stroke-width="0.37" transform="translate(193.4,92.5) rotate(-90)">Intensity (a.u.)</text>
<line x1="387.4" y1="59.3" x2="389.2" y2="59.3" stroke="#555" stroke-width="0.7" />
<g transform="translate(384.9,61.5) scale(1.03,1)"><text x="0" y="0" font-size="6.9" text-anchor="end" font-weight="bold" fill="#222" stroke="#222" stroke-width="0.21" >0.0</text></g>
<line x1="388.2" y1="53.05" x2="389.2" y2="53.05" stroke="#555" stroke-width="0.5" />
<line x1="387.4" y1="46.8" x2="389.2" y2="46.8" stroke="#555" stroke-width="0.7" />
<g transform="translate(384.9,49) scale(1.03,1)"><text x="0" y="0" font-size="6.9" text-anchor="end" font-weight="bold" fill="#222" stroke="#222" stroke-width="0.21" >0.5</text></g>
<line x1="388.2" y1="40.55" x2="389.2" y2="40.55" stroke="#555" stroke-width="0.5" />
<line x1="387.4" y1="34.3" x2="389.2" y2="34.3" stroke="#555" stroke-width="0.7" />
<g transform="translate(384.9,36.5) scale(1.03,1)"><text x="0" y="0" font-size="6.9" text-anchor="end" font-weight="bold" fill="#222" stroke="#222" stroke-width="0.21" >1.0</text></g>
<line x1="388.2" y1="28.05" x2="389.2" y2="28.05" stroke="#555" stroke-width="0.5" />
<line x1="387.4" y1="21.8" x2="389.2" y2="21.8" stroke="#555" stroke-width="0.7" />
<g transform="translate(384.9,24) scale(1.03,1)"><text x="0" y="0" font-size="6.9" text-anchor="end" font-weight="bold" fill="#222" stroke="#222" stroke-width="0.21" >1.5</text></g>
<line x1="387.4" y1="105.8" x2="389.2" y2="105.8" stroke="#555" stroke-width="0.7" />
<g transform="translate(384.9,108) scale(1.03,1)"><text x="0" y="0" font-size="6.9" text-anchor="end" font-weight="bold" fill="#222" stroke="#222" stroke-width="0.21" >0.0</text></g>
<line x1="388.2" y1="99.55" x2="389.2" y2="99.55" stroke="#555" stroke-width="0.5" />
<line x1="387.4" y1="93.3" x2="389.2" y2="93.3" stroke="#555" stroke-width="0.7" />
<g transform="translate(384.9,95.5) scale(1.03,1)"><text x="0" y="0" font-size="6.9" text-anchor="end" font-weight="bold" fill="#222" stroke="#222" stroke-width="0.21" >0.5</text></g>
<line x1="388.2" y1="87.05" x2="389.2" y2="87.05" stroke="#555" stroke-width="0.5" />
<line x1="387.4" y1="80.8" x2="389.2" y2="80.8" stroke="#555" stroke-width="0.7" />
<g transform="translate(384.9,83) scale(1.03,1)"><text x="0" y="0" font-size="6.9" text-anchor="end" font-weight="bold" fill="#222" stroke="#222" stroke-width="0.21" >1.0</text></g>
<line x1="388.2" y1="74.55" x2="389.2" y2="74.55" stroke="#555" stroke-width="0.5" />
<line x1="387.4" y1="68.3" x2="389.2" y2="68.3" stroke="#555" stroke-width="0.7" />
<g transform="translate(384.9,70.5) scale(1.03,1)"><text x="0" y="0" font-size="6.9" text-anchor="end" font-weight="bold" fill="#222" stroke="#222" stroke-width="0.21" >1.5</text></g>
<line x1="387.4" y1="151.1" x2="389.2" y2="151.1" stroke="#555" stroke-width="0.7" />
<g transform="translate(384.9,153.3) scale(1.03,1)"><text x="0" y="0" font-size="6.9" text-anchor="end" font-weight="bold" fill="#222" stroke="#222" stroke-width="0.21" >0.0</text></g>
<line x1="388.2" y1="144.85" x2="389.2" y2="144.85" stroke="#555" stroke-width="0.5" />
<line x1="387.4" y1="138.6" x2="389.2" y2="138.6" stroke="#555" stroke-width="0.7" />
<g transform="translate(384.9,140.8) scale(1.03,1)"><text x="0" y="0" font-size="6.9" text-anchor="end" font-weight="bold" fill="#222" stroke="#222" stroke-width="0.21" >0.5</text></g>
<line x1="388.2" y1="132.35" x2="389.2" y2="132.35" stroke="#555" stroke-width="0.5" />
<line x1="387.4" y1="126.1" x2="389.2" y2="126.1" stroke="#555" stroke-width="0.7" />
<g transform="translate(384.9,128.3) scale(1.03,1)"><text x="0" y="0" font-size="6.9" text-anchor="end" font-weight="bold" fill="#222" stroke="#222" stroke-width="0.21" >1.0</text></g>
<line x1="388.2" y1="119.85" x2="389.2" y2="119.85" stroke="#555" stroke-width="0.5" />
<line x1="387.4" y1="113.6" x2="389.2" y2="113.6" stroke="#555" stroke-width="0.7" />
<g transform="translate(384.9,115.8) scale(1.03,1)"><text x="0" y="0" font-size="6.9" text-anchor="end" font-weight="bold" fill="#222" stroke="#222" stroke-width="0.21" >1.5</text></g>
<polyline points="389.7,59.38 390.03,59.29 390.37,59.34 390.7,59.27 391.04,59.26 391.37,59.43 391.7,59.45 392.04,59.2 392.37,59.37 392.71,59.38 393.04,59.15 393.38,59.31 393.71,59.2 394.04,59.31 394.38,59.26 394.71,59.4 395.05,59.26 395.38,59.19 395.71,59.29 396.05,59.23 396.38,59.25 396.72,59.43 397.05,59.22 397.38,59.27 397.72,59.36 398.05,59.44 398.39,59.19 398.72,59.31 399.06,59.23 399.39,59.19 399.72,59.24 400.06,59.17 400.39,59.33 400.73,59.21 401.06,59.32 401.39,59.17 401.73,59.19 402.06,59.42 402.4,59.41 402.73,59.38 403.06,59.16 403.4,59.32 403.73,59.26 404.07,59.36 404.4,59.3 404.73,59.33 405.07,59.34 405.4,59.27 405.74,59.27 406.07,59.18 406.41,59.25 406.74,59.17 407.07,59.19 407.41,59.15 407.74,59.25 408.08,59.4 408.41,59.19 408.74,59.16 409.08,59.18 409.41,59.28 409.75,59.24 410.08,59.39 410.41,59.2 410.75,59.28 411.08,59.36 411.42,59.43 411.75,59.19 412.09,59.15 412.42,59.42 412.75,59.21 413.09,59.33 413.42,59.4 413.76,59.36 414.09,59.22 414.42,59.19 414.76,59.44 415.09,59.27 415.43,59.44 415.76,59.23 416.09,59.35 416.43,59.19 416.76,59.16 417.1,59.3 417.43,59.15 417.77,59.36 418.1,59.43 418.43,59.27 418.77,59.44 419.1,59.39 419.44,59.33 419.77,59.27 420.1,59.4 420.44,59.44 420.77,59.19 421.11,59.36 421.44,59.16 421.77,59.18 422.11,59.34 422.44,59.31 422.78,59.29 423.11,59.26 423.44,59.27 423.78,59.28 424.11,59.26 424.45,59.17 424.78,59.3 425.12,59.32 425.45,59.23 425.78,59.38 426.12,59.36 426.45,59.16 426.79,59.29 427.12,59.29 427.45,59.45 427.79,59.33 428.12,59.28 428.46,59.44 428.79,59.27 429.12,59.26 429.46,59.43 429.79,59.26 430.13,59.31 430.46,59.25 430.8,59.34 431.13,59.24 431.46,59.23 431.8,59.44 432.13,59.43 432.47,59.25 432.8,59.16 433.13,59.37 433.47,59.31 433.8,59.27 434.14,59.35 434.47,59.34 434.8,59.36 435.14,59.34 435.47,59.27 435.81,59.36 436.14,59.34 436.48,59.22 436.81,59.44 437.14,59.28 437.48,59.23 437.81,59.36 438.15,59.38 438.48,59.21 438.81,59.38 439.15,59.39 439.48,59.32 439.82,59.24 440.15,59.42 440.48,59.35 440.82,59.35 441.15,59.2 441.49,59.32 441.82,59.19 442.16,59.4 442.49,59.34 442.82,59.24 443.16,59.17 443.49,59.28 443.83,59.33 444.16,59.33 444.49,59.16 444.83,59.19 445.16,58.89 445.5,58.72 445.83,58.69 446.16,58.34 446.5,57.74 446.83,57.21 447.17,56.4 447.5,55.57 447.83,54.43 448.17,52.91 448.5,51 448.84,49.12 449.17,46.8 449.51,44.25 449.84,41.54 450.17,38.75 450.51,35.81 450.84,33.38 451.18,31.01 451.51,28.68 451.84,27.14 452.18,26.1 452.51,25.82 452.85,25.75 453.18,26.29 453.51,27.35 453.85,28.24 454.18,29.35 454.52,30.56 454.85,31.75 455.19,32.93 455.52,33.97 455.85,35.02 456.19,36.03 456.52,36.8 456.86,37.77 457.19,38.44 457.52,39.47 457.86,39.98 458.19,40.77 458.53,41.39 458.86,42.06 459.19,42.69 459.53,43.39 459.86,44.14 460.2,44.47 460.53,45.17 460.87,45.63 461.2,46 461.53,46.51 461.87,46.98 462.2,47.24 462.54,47.74 462.87,48.21 463.2,48.6 463.54,48.77 463.87,49.23 464.21,49.46 464.54,49.9 464.87,50.25 465.21,50.43 465.54,50.62 465.88,51.08 466.21,51.14 466.54,51.35 466.88,51.61 467.21,51.83 467.55,52.29 467.88,52.31 468.22,52.44 468.55,52.87 468.88,52.99 469.22,53.17 469.55,53.26 469.89,53.46 470.22,53.6 470.55,53.66 470.89,54.04 471.22,54.16 471.56,54.28 471.89,54.41 472.22,54.55 472.56,54.4 472.89,54.56 473.23,54.9 473.56,54.89 473.9,55.05 474.23,55.16 474.56,55.24 474.9,55.25 475.23,55.36 475.57,55.52 475.9,55.66 476.23,55.71 476.57,55.85 476.9,55.8 477.24,55.83 477.57,56.01 477.9,56.17 478.24,56.21 478.57,56.22 478.91,56.22 479.24,56.23 479.58,56.41 479.91,56.35 480.24,56.46 480.58,56.58 480.91,56.65 481.25,56.67 481.58,56.66 481.91,56.8 482.25,56.77 482.58,56.89 482.92,57 483.25,56.96 483.58,56.96 483.92,57.19 484.25,57.13 484.59,57.17 484.92,57.07 485.26,57.1 485.59,57.31 485.92,57.19 486.26,57.26 486.59,57.45 486.93,57.43 487.26,57.57 487.59,57.39 487.93,57.47 488.26,57.44 488.6,57.5 488.93,57.57 489.26,57.58 489.6,57.66 489.93,57.83 490.27,57.71 490.6,57.91 490.93,57.9 491.27,57.74 491.6,57.98 491.94,57.99 492.27,58.02 492.61,57.81 492.94,58.04 493.27,58.11 493.61,57.89 493.94,58.13 494.28,57.94 494.61,58.01 494.94,57.98 495.28,57.97 495.61,58.1 495.95,58.06 496.28,58.31 496.61,58.11 496.95,58.2 497.28,58.16 497.62,58.36 497.95,58.19 498.29,58.15 498.62,58.43 498.95,58.37 499.29,58.31 499.62,58.25 499.96,58.44 500.29,58.48 500.62,58.47 500.96,58.38 501.29,58.35 501.63,58.47 501.96,58.5 502.29,58.5 502.63,58.53 502.96,58.52 503.3,58.64 503.63,58.53 503.97,58.4 504.3,58.58 504.63,58.49 504.97,58.68 505.3,58.53 505.64,58.52 505.97,58.56 506.3,58.62 506.64,58.64 506.97,58.6 507.31,58.54 507.64,58.77 507.97,58.8 508.31,58.62 508.64,58.57 508.98,58.7 509.31,58.74 509.64,58.66 509.98,58.83 510.31,58.82 510.65,58.85 510.98,58.74 511.32,58.83 511.65,58.86 511.98,58.74 512.32,58.67 512.65,58.87 512.99,58.76 513.32,58.85 513.65,58.73 513.99,58.82 514.32,58.92 514.66,58.94 514.99,59.01 515.32,58.88 515.66,58.91 515.99,58.98 516.33,58.93 516.66,58.95 517,58.82 517.33,59.02 517.66,58.77 518,58.93 518.33,58.9 518.67,58.94 519,58.83" fill="none" stroke="#ff1a1a" stroke-width="1.5" stroke-linejoin="round" />
<polyline points="389.7,105.6 428.3,105.6 429,106.52 433.35,105.08 434.15,106.52 438.5,105.08 439.3,106.52 443.65,105.08 444.45,106.52 448.8,105.08 449.6,106.52 453.95,105.08 454.75,106.52 459.1,105.08 459.9,106.52 464.25,105.08 465.05,106.52 469.4,105.08 470.2,106.52 474.55,105.08 475.35,106.52 479.7,105.08 480.5,106.52 483.1,104.6 519,104.6" fill="none" stroke="#ff1a1a" stroke-width="1.6" stroke-linejoin="round" />
<line x1="428.6" y1="105.8" x2="428.6" y2="84.3" stroke="#ff1a1a" stroke-width="0.6" opacity="0.85"/>
<line x1="433.75" y1="105.8" x2="433.75" y2="83.3" stroke="#ff1a1a" stroke-width="0.6" opacity="0.85"/>
<line x1="438.9" y1="105.8" x2="438.9" y2="83.3" stroke="#ff1a1a" stroke-width="0.6" opacity="0.85"/>
<line x1="444.05" y1="105.8" x2="444.05" y2="82.05" stroke="#ff1a1a" stroke-width="0.6" opacity="0.85"/>
<line x1="449.2" y1="105.8" x2="449.2" y2="81.3" stroke="#ff1a1a" stroke-width="0.6" opacity="0.85"/>
<line x1="454.35" y1="105.8" x2="454.35" y2="81.3" stroke="#ff1a1a" stroke-width="0.6" opacity="0.85"/>
<line x1="459.5" y1="105.8" x2="459.5" y2="81.3" stroke="#ff1a1a" stroke-width="0.6" opacity="0.85"/>
<line x1="464.65" y1="105.8" x2="464.65" y2="81.3" stroke="#ff1a1a" stroke-width="0.6" opacity="0.85"/>
<line x1="469.8" y1="105.8" x2="469.8" y2="82.05" stroke="#ff1a1a" stroke-width="0.6" opacity="0.85"/>
<line x1="474.95" y1="105.8" x2="474.95" y2="82.05" stroke="#ff1a1a" stroke-width="0.6" opacity="0.85"/>
<line x1="480.1" y1="105.8" x2="480.1" y2="81.3" stroke="#ff1a1a" stroke-width="0.6" opacity="0.85"/>
<line x1="389.7" y1="150.9" x2="519" y2="150.9" stroke="#ff1a1a" stroke-width="1.7" />
<line x1="421.4" y1="151.1" x2="421.4" y2="126.1" stroke="#ff1a1a" stroke-width="0.6" opacity="0.85"/>
<line x1="486.3" y1="151.1" x2="486.3" y2="126.1" stroke="#ff1a1a" stroke-width="0.6" opacity="0.85"/>
<line x1="389.2" y1="60.3" x2="519.5" y2="60.3" stroke="#777" stroke-width="0.8" />
<line x1="389.2" y1="106.8" x2="519.5" y2="106.8" stroke="#777" stroke-width="0.8" />
<rect x="389.2" y="15.8" width="130.3" height="135.8" fill="none" stroke="#777" stroke-width="1"/>
<text x="420.8" y="70.7" font-size="6.9" text-anchor="middle" font-weight="bold" fill="#222" stroke="#222" stroke-width="0.21" >−0.005</text>
<text x="454" y="70.7" font-size="6.9" text-anchor="middle" font-weight="bold" fill="#222" stroke="#222" stroke-width="0.21" >0.000</text>
<text x="486.4" y="70.7" font-size="6.9" text-anchor="middle" font-weight="bold" fill="#222" stroke="#222" stroke-width="0.21" >0.005</text>
<line x1="404.4" y1="60.3" x2="404.4" y2="61.9" stroke="#555" stroke-width="0.6" />
<line x1="420.8" y1="60.3" x2="420.8" y2="61.9" stroke="#555" stroke-width="0.6" />
<line x1="437.2" y1="60.3" x2="437.2" y2="61.9" stroke="#555" stroke-width="0.6" />
<line x1="453.6" y1="60.3" x2="453.6" y2="61.9" stroke="#555" stroke-width="0.6" />
<line x1="470" y1="60.3" x2="470" y2="61.9" stroke="#555" stroke-width="0.6" />
<line x1="486.4" y1="60.3" x2="486.4" y2="61.9" stroke="#555" stroke-width="0.6" />
<line x1="502.8" y1="60.3" x2="502.8" y2="61.9" stroke="#555" stroke-width="0.6" />
<text x="401" y="115.7" font-size="6.9" text-anchor="middle" font-weight="bold" fill="#222" stroke="#222" stroke-width="0.21" >−0.2</text>
<text x="428.4" y="115.7" font-size="6.9" text-anchor="middle" font-weight="bold" fill="#222" stroke="#222" stroke-width="0.21" >−0.1</text>
<text x="454.5" y="115.7" font-size="6.9" text-anchor="middle" font-weight="bold" fill="#222" stroke="#222" stroke-width="0.21" >0.0</text>
<text x="479.6" y="115.7" font-size="6.9" text-anchor="middle" font-weight="bold" fill="#222" stroke="#222" stroke-width="0.21" >0.1</text>
<text x="506.6" y="115.7" font-size="6.9" text-anchor="middle" font-weight="bold" fill="#222" stroke="#222" stroke-width="0.21" >0.2</text>
<line x1="401" y1="106.8" x2="401" y2="108.4" stroke="#555" stroke-width="0.6" />
<line x1="414.2" y1="106.8" x2="414.2" y2="108.4" stroke="#555" stroke-width="0.6" />
<line x1="427.4" y1="106.8" x2="427.4" y2="108.4" stroke="#555" stroke-width="0.6" />
<line x1="440.6" y1="106.8" x2="440.6" y2="108.4" stroke="#555" stroke-width="0.6" />
<line x1="453.8" y1="106.8" x2="453.8" y2="108.4" stroke="#555" stroke-width="0.6" />
<line x1="467" y1="106.8" x2="467" y2="108.4" stroke="#555" stroke-width="0.6" />
<line x1="480.2" y1="106.8" x2="480.2" y2="108.4" stroke="#555" stroke-width="0.6" />
<line x1="493.4" y1="106.8" x2="493.4" y2="108.4" stroke="#555" stroke-width="0.6" />
<line x1="506.6" y1="106.8" x2="506.6" y2="108.4" stroke="#555" stroke-width="0.6" />
<line x1="389.2" y1="151.6" x2="389.2" y2="153.4" stroke="#555" stroke-width="0.6" />
<line x1="395.71" y1="151.6" x2="395.71" y2="152.6" stroke="#555" stroke-width="0.6" />
<line x1="402.23" y1="151.6" x2="402.23" y2="153.4" stroke="#555" stroke-width="0.6" />
<line x1="408.75" y1="151.6" x2="408.75" y2="152.6" stroke="#555" stroke-width="0.6" />
<line x1="415.26" y1="151.6" x2="415.26" y2="153.4" stroke="#555" stroke-width="0.6" />
<line x1="421.77" y1="151.6" x2="421.77" y2="152.6" stroke="#555" stroke-width="0.6" />
<line x1="428.29" y1="151.6" x2="428.29" y2="153.4" stroke="#555" stroke-width="0.6" />
<line x1="434.81" y1="151.6" x2="434.81" y2="152.6" stroke="#555" stroke-width="0.6" />
<line x1="441.32" y1="151.6" x2="441.32" y2="153.4" stroke="#555" stroke-width="0.6" />
<line x1="447.83" y1="151.6" x2="447.83" y2="152.6" stroke="#555" stroke-width="0.6" />
<line x1="454.35" y1="151.6" x2="454.35" y2="153.4" stroke="#555" stroke-width="0.6" />
<line x1="460.87" y1="151.6" x2="460.87" y2="152.6" stroke="#555" stroke-width="0.6" />
<line x1="467.38" y1="151.6" x2="467.38" y2="153.4" stroke="#555" stroke-width="0.6" />
<line x1="473.89" y1="151.6" x2="473.89" y2="152.6" stroke="#555" stroke-width="0.6" />
<line x1="480.41" y1="151.6" x2="480.41" y2="153.4" stroke="#555" stroke-width="0.6" />
<line x1="486.93" y1="151.6" x2="486.93" y2="152.6" stroke="#555" stroke-width="0.6" />
<line x1="493.44" y1="151.6" x2="493.44" y2="153.4" stroke="#555" stroke-width="0.6" />
<line x1="499.96" y1="151.6" x2="499.96" y2="152.6" stroke="#555" stroke-width="0.6" />
<line x1="506.47" y1="151.6" x2="506.47" y2="153.4" stroke="#555" stroke-width="0.6" />
<line x1="512.99" y1="151.6" x2="512.99" y2="152.6" stroke="#555" stroke-width="0.6" />
<line x1="519.5" y1="151.6" x2="519.5" y2="153.4" stroke="#555" stroke-width="0.6" />
<text x="387.6" y="162.7" font-size="7.3" text-anchor="middle" font-weight="bold" fill="#222" stroke="#222" stroke-width="0.22" >−10</text>
<text x="400.63" y="162.7" font-size="7.3" text-anchor="middle" font-weight="bold" fill="#222" stroke="#222" stroke-width="0.22" >−8</text>
<text x="413.66" y="162.7" font-size="7.3" text-anchor="middle" font-weight="bold" fill="#222" stroke="#222" stroke-width="0.22" >−6</text>
<text x="426.69" y="162.7" font-size="7.3" text-anchor="middle" font-weight="bold" fill="#222" stroke="#222" stroke-width="0.22" >−4</text>
<text x="439.72" y="162.7" font-size="7.3" text-anchor="middle" font-weight="bold" fill="#222" stroke="#222" stroke-width="0.22" >−2</text>
<text x="454.35" y="162.7" font-size="7.3" text-anchor="middle" font-weight="bold" fill="#222" stroke="#222" stroke-width="0.22" >0</text>
<text x="467.38" y="162.7" font-size="7.3" text-anchor="middle" font-weight="bold" fill="#222" stroke="#222" stroke-width="0.22" >2</text>
<text x="480.41" y="162.7" font-size="7.3" text-anchor="middle" font-weight="bold" fill="#222" stroke="#222" stroke-width="0.22" >4</text>
<text x="493.44" y="162.7" font-size="7.3" text-anchor="middle" font-weight="bold" fill="#222" stroke="#222" stroke-width="0.22" >6</text>
<text x="506.47" y="162.7" font-size="7.3" text-anchor="middle" font-weight="bold" fill="#222" stroke="#222" stroke-width="0.22" >8</text>
<text x="519.5" y="162.7" font-size="7.3" text-anchor="middle" font-weight="bold" fill="#222" stroke="#222" stroke-width="0.22" >10</text>
<line x1="442.1" y1="42.8" x2="449.4" y2="42.8" stroke="#222" stroke-width="0.65" />
<line x1="459" y1="42.8" x2="465.6" y2="42.8" stroke="#222" stroke-width="0.65" />
<text x="467.5" y="46.4" font-size="9.2" text-anchor="start" font-weight="bold" fill="#111" stroke="#111" stroke-width="0.28" >138ns</text>
<text x="392" y="26.7" font-size="9.6" text-anchor="start" font-weight="bold" fill="#111" stroke="#111" stroke-width="0.29" >100 Hz</text>
<text x="392" y="38.3" font-size="9.6" text-anchor="start" font-weight="bold" fill="#111" stroke="#111" stroke-width="0.29" >50 kHz</text>
<text x="365" y="14.8" font-size="14" text-anchor="start" font-weight="bold" fill="#111" stroke="#111" stroke-width="0.42" >(c)</text>
<text x="454.6" y="176" font-size="12.2" text-anchor="middle" font-weight="bold" fill="#111" stroke="#111" stroke-width="0.37" >Time (ms)</text>
<text x="0" y="0" font-size="12.2" text-anchor="middle" font-weight="bold" fill="#111" stroke="#111" stroke-width="0.37" transform="translate(372.5,92.6) rotate(-90)">Intensity (a.u.)</text>
<line x1="35.8" y1="250.3" x2="37.6" y2="250.3" stroke="#555" stroke-width="0.7" />
<g transform="translate(33.3,252.5) scale(1.03,1)"><text x="0" y="0" font-size="6.9" text-anchor="end" font-weight="bold" fill="#222" stroke="#222" stroke-width="0.21" >0.0</text></g>
<line x1="36.6" y1="244.05" x2="37.6" y2="244.05" stroke="#555" stroke-width="0.5" />
<line x1="35.8" y1="237.8" x2="37.6" y2="237.8" stroke="#555" stroke-width="0.7" />
<g transform="translate(33.3,240) scale(1.03,1)"><text x="0" y="0" font-size="6.9" text-anchor="end" font-weight="bold" fill="#222" stroke="#222" stroke-width="0.21" >0.5</text></g>
<line x1="36.6" y1="231.55" x2="37.6" y2="231.55" stroke="#555" stroke-width="0.5" />
<line x1="35.8" y1="225.3" x2="37.6" y2="225.3" stroke="#555" stroke-width="0.7" />
<g transform="translate(33.3,227.5) scale(1.03,1)"><text x="0" y="0" font-size="6.9" text-anchor="end" font-weight="bold" fill="#222" stroke="#222" stroke-width="0.21" >1.0</text></g>
<line x1="36.6" y1="219.05" x2="37.6" y2="219.05" stroke="#555" stroke-width="0.5" />
<line x1="35.8" y1="212.8" x2="37.6" y2="212.8" stroke="#555" stroke-width="0.7" />
<g transform="translate(33.3,215) scale(1.03,1)"><text x="0" y="0" font-size="6.9" text-anchor="end" font-weight="bold" fill="#222" stroke="#222" stroke-width="0.21" >1.5</text></g>
<line x1="35.8" y1="295.4" x2="37.6" y2="295.4" stroke="#555" stroke-width="0.7" />
<g transform="translate(33.3,297.6) scale(1.03,1)"><text x="0" y="0" font-size="6.9" text-anchor="end" font-weight="bold" fill="#222" stroke="#222" stroke-width="0.21" >0.0</text></g>
<line x1="36.6" y1="289.15" x2="37.6" y2="289.15" stroke="#555" stroke-width="0.5" />
<line x1="35.8" y1="282.9" x2="37.6" y2="282.9" stroke="#555" stroke-width="0.7" />
<g transform="translate(33.3,285.1) scale(1.03,1)"><text x="0" y="0" font-size="6.9" text-anchor="end" font-weight="bold" fill="#222" stroke="#222" stroke-width="0.21" >0.5</text></g>
<line x1="36.6" y1="276.65" x2="37.6" y2="276.65" stroke="#555" stroke-width="0.5" />
<line x1="35.8" y1="270.4" x2="37.6" y2="270.4" stroke="#555" stroke-width="0.7" />
<g transform="translate(33.3,272.6) scale(1.03,1)"><text x="0" y="0" font-size="6.9" text-anchor="end" font-weight="bold" fill="#222" stroke="#222" stroke-width="0.21" >1.0</text></g>
<line x1="36.6" y1="264.15" x2="37.6" y2="264.15" stroke="#555" stroke-width="0.5" />
<line x1="35.8" y1="257.9" x2="37.6" y2="257.9" stroke="#555" stroke-width="0.7" />
<g transform="translate(33.3,260.1) scale(1.03,1)"><text x="0" y="0" font-size="6.9" text-anchor="end" font-weight="bold" fill="#222" stroke="#222" stroke-width="0.21" >1.5</text></g>
<line x1="35.8" y1="341.5" x2="37.6" y2="341.5" stroke="#555" stroke-width="0.7" />
<g transform="translate(33.3,343.7) scale(1.03,1)"><text x="0" y="0" font-size="6.9" text-anchor="end" font-weight="bold" fill="#222" stroke="#222" stroke-width="0.21" >0.0</text></g>
<line x1="36.6" y1="335.25" x2="37.6" y2="335.25" stroke="#555" stroke-width="0.5" />
<line x1="35.8" y1="329" x2="37.6" y2="329" stroke="#555" stroke-width="0.7" />
<g transform="translate(33.3,331.2) scale(1.03,1)"><text x="0" y="0" font-size="6.9" text-anchor="end" font-weight="bold" fill="#222" stroke="#222" stroke-width="0.21" >0.5</text></g>
<line x1="36.6" y1="322.75" x2="37.6" y2="322.75" stroke="#555" stroke-width="0.5" />
<line x1="35.8" y1="316.5" x2="37.6" y2="316.5" stroke="#555" stroke-width="0.7" />
<g transform="translate(33.3,318.7) scale(1.03,1)"><text x="0" y="0" font-size="6.9" text-anchor="end" font-weight="bold" fill="#222" stroke="#222" stroke-width="0.21" >1.0</text></g>
<line x1="36.6" y1="310.25" x2="37.6" y2="310.25" stroke="#555" stroke-width="0.5" />
<line x1="35.8" y1="304" x2="37.6" y2="304" stroke="#555" stroke-width="0.7" />
<g transform="translate(33.3,306.2) scale(1.03,1)"><text x="0" y="0" font-size="6.9" text-anchor="end" font-weight="bold" fill="#222" stroke="#222" stroke-width="0.21" >1.5</text></g>
<polyline points="69.8,250.45 70.13,250.65 70.47,250.21 70.8,250.57 71.14,250.7 71.47,250.2 71.8,249.42 72.14,249.6 72.47,249.65 72.81,250.47 73.14,249.99 73.47,250.38 73.81,250.54 74.14,250.64 74.48,250.48 74.81,249.41 75.14,249.56 75.48,249.59 75.81,249.6 76.15,250.51 76.48,250.34 76.81,249.86 77.15,249.7 77.48,249.52 77.82,249.48 78.15,250.67 78.48,249.89 78.82,249.79 79.15,250.04 79.49,250.53 79.82,250.09 80.15,250.67 80.49,249.4 80.82,249.5 81.16,249.98 81.49,250.35 81.82,249.44 82.16,249.94 82.49,249.48 82.83,249.53 83.16,250.04 83.49,250.18 83.83,249.9 84.16,250.15 84.5,250.56 84.83,250.34 85.16,249.58 85.5,250.74 85.83,250.73 86.17,249.86 86.5,250.38 86.84,250 87.17,250.09 87.5,250.29 87.84,249.3 88.17,250.51 88.51,250.18 88.84,250.5 89.17,249.85 89.51,250.39 89.84,250.27 90.18,249.68 90.51,250.32 90.84,249.96 91.18,249.44 91.51,250.65 91.85,250.71 92.18,250.46 92.51,249.65 92.85,249.88 93.18,250.44 93.52,250.3 93.85,250.53 94.18,250.11 94.52,250.74 94.85,249.75 95.19,249.46 95.52,249.37 95.85,249.7 96.19,249.35 96.52,250.76 96.86,250.33 97.19,249.28 97.52,249.48 97.86,249.88 98.19,248.8 98.53,248.8 98.86,247.72 99.19,247.28 99.53,245.64 99.86,242.78 100.2,240.02 100.53,235.71 100.86,230.36 101.2,226.59 101.53,222.58 101.87,218.8 102.2,216.16 102.53,214.37 102.87,215.66 103.2,217.53 103.54,220.14 103.87,221.26 104.2,224.43 104.54,226.91 104.87,229.09 105.21,230.87 105.54,232.32 105.87,233.01 106.21,235.13 106.54,236.49 106.88,236.91 107.21,238.26 107.54,238.03 107.88,240.16 108.21,240.28 108.55,240.59 108.88,241.74 109.21,241.42 109.55,242.69 109.88,243.5 110.22,243.65 110.55,244.59 110.88,244.35 111.22,244.92 111.55,244.24 111.89,244.58 112.22,245.31 112.55,246.22 112.89,246.07 113.22,246.26 113.56,246.47 113.89,246.58 114.22,245.75 114.56,246.97 114.89,247.21 115.23,245.99 115.56,246.63 115.89,246.07 116.23,247.03 116.56,246.35 116.9,246.78 117.23,246.63 117.56,246.75 117.9,247.18 118.23,247.82 118.57,247.69 118.9,246.73 119.24,246.72 119.57,246.72 119.9,247.63 120.24,247.18 120.57,246.99 120.91,247.25 121.24,247.01 121.57,247.46 121.91,247.29 122.24,247.26 122.58,247.9 122.91,246.93 123.24,246.9 123.58,248.23 123.91,246.9 124.25,246.93 124.58,247.38 124.91,248.32 125.25,247.05 125.58,248.22 125.92,246.97 126.25,247.43 126.58,248.35 126.92,248.19 127.25,247.5 127.59,247.61 127.92,247.35 128.25,247.08 128.59,248.15 128.92,248.48 129.26,247.11 129.59,248.48 129.92,247.19 130.26,248.34 130.59,247.31 130.93,247.35 131.26,247.21 131.59,247.71 131.93,247.23 132.26,248.25 132.6,247.55 132.93,248.06 133.26,247.23 133.6,247.41 133.93,247.87 134.27,247.79 134.6,248.54" fill="none" stroke="#111" stroke-width="1.45" stroke-linejoin="round" />
<polyline points="38.1,295.2 85.3,295.2 86,296.4 87.5,295.9 90,295.3 98.3,295.2 99,296.4 100.5,295.9 103,295.3 111.2,295.2 111.9,296.4 113.4,295.9 115.9,295.3 124.2,295.2 124.9,296.4 126.4,295.9 128.9,295.3 166.9,295.2" fill="none" stroke="#111" stroke-width="1.6" stroke-linejoin="round" />
<line x1="85.5" y1="295.4" x2="85.5" y2="270.4" stroke="#111" stroke-width="0.6" opacity="0.6"/>
<line x1="98.5" y1="295.4" x2="98.5" y2="270.4" stroke="#111" stroke-width="0.6" opacity="0.6"/>
<line x1="111.4" y1="295.4" x2="111.4" y2="270.4" stroke="#111" stroke-width="0.6" opacity="0.6"/>
<line x1="124.4" y1="295.4" x2="124.4" y2="270.4" stroke="#111" stroke-width="0.6" opacity="0.6"/>
<line x1="38.1" y1="341.3" x2="166.9" y2="341.3" stroke="#111" stroke-width="1.7" />
<line x1="53.5" y1="341.5" x2="53.5" y2="316.5" stroke="#111" stroke-width="0.7" opacity="0.6"/>
<line x1="86" y1="341.5" x2="86" y2="316.5" stroke="#111" stroke-width="0.7" opacity="0.6"/>
<line x1="118.7" y1="341.5" x2="118.7" y2="316.5" stroke="#111" stroke-width="0.7" opacity="0.6"/>
<line x1="150.9" y1="341.5" x2="150.9" y2="316.5" stroke="#111" stroke-width="0.7" opacity="0.6"/>
<line x1="37.6" y1="251.3" x2="167.4" y2="251.3" stroke="#777" stroke-width="0.8" />
<line x1="37.6" y1="296.4" x2="167.4" y2="296.4" stroke="#777" stroke-width="0.8" />
<rect x="37.6" y="206.4" width="129.8" height="135.6" fill="none" stroke="#777" stroke-width="1"/>
<text x="65.6" y="260.7" font-size="6.9" text-anchor="middle" font-weight="bold" fill="#222" stroke="#222" stroke-width="0.21" >−0.005</text>
<text x="101.8" y="260.7" font-size="6.9" text-anchor="middle" font-weight="bold" fill="#222" stroke="#222" stroke-width="0.21" >0.000</text>
<text x="134.5" y="260.7" font-size="6.9" text-anchor="middle" font-weight="bold" fill="#222" stroke="#222" stroke-width="0.21" >0.005</text>
<line x1="48.37" y1="251.3" x2="48.37" y2="252.9" stroke="#555" stroke-width="0.6" />
<line x1="65.6" y1="251.3" x2="65.6" y2="252.9" stroke="#555" stroke-width="0.6" />
<line x1="82.82" y1="251.3" x2="82.82" y2="252.9" stroke="#555" stroke-width="0.6" />
<line x1="100.05" y1="251.3" x2="100.05" y2="252.9" stroke="#555" stroke-width="0.6" />
<line x1="117.27" y1="251.3" x2="117.27" y2="252.9" stroke="#555" stroke-width="0.6" />
<line x1="134.5" y1="251.3" x2="134.5" y2="252.9" stroke="#555" stroke-width="0.6" />
<line x1="151.72" y1="251.3" x2="151.72" y2="252.9" stroke="#555" stroke-width="0.6" />
<text x="49.3" y="307" font-size="6.9" text-anchor="middle" font-weight="bold" fill="#222" stroke="#222" stroke-width="0.21" >−0.2</text>
<text x="73.6" y="307" font-size="6.9" text-anchor="middle" font-weight="bold" fill="#222" stroke="#222" stroke-width="0.21" >−0.1</text>
<text x="102.2" y="307" font-size="6.9" text-anchor="middle" font-weight="bold" fill="#222" stroke="#222" stroke-width="0.21" >0.0</text>
<text x="127.8" y="307" font-size="6.9" text-anchor="middle" font-weight="bold" fill="#222" stroke="#222" stroke-width="0.21" >0.1</text>
<text x="153.6" y="307" font-size="6.9" text-anchor="middle" font-weight="bold" fill="#222" stroke="#222" stroke-width="0.21" >0.2</text>
<line x1="49.3" y1="296.4" x2="49.3" y2="298" stroke="#555" stroke-width="0.6" />
<line x1="62.34" y1="296.4" x2="62.34" y2="298" stroke="#555" stroke-width="0.6" />
<line x1="75.38" y1="296.4" x2="75.38" y2="298" stroke="#555" stroke-width="0.6" />
<line x1="88.41" y1="296.4" x2="88.41" y2="298" stroke="#555" stroke-width="0.6" />
<line x1="101.45" y1="296.4" x2="101.45" y2="298" stroke="#555" stroke-width="0.6" />
<line x1="114.49" y1="296.4" x2="114.49" y2="298" stroke="#555" stroke-width="0.6" />
<line x1="127.52" y1="296.4" x2="127.52" y2="298" stroke="#555" stroke-width="0.6" />
<line x1="140.56" y1="296.4" x2="140.56" y2="298" stroke="#555" stroke-width="0.6" />
<line x1="153.6" y1="296.4" x2="153.6" y2="298" stroke="#555" stroke-width="0.6" />
<line x1="166.64" y1="296.4" x2="166.64" y2="298" stroke="#555" stroke-width="0.6" />
<line x1="37.6" y1="342" x2="37.6" y2="343.8" stroke="#555" stroke-width="0.6" />
<line x1="44.09" y1="342" x2="44.09" y2="343" stroke="#555" stroke-width="0.6" />
<line x1="50.58" y1="342" x2="50.58" y2="343.8" stroke="#555" stroke-width="0.6" />
<line x1="57.07" y1="342" x2="57.07" y2="343" stroke="#555" stroke-width="0.6" />
<line x1="63.56" y1="342" x2="63.56" y2="343.8" stroke="#555" stroke-width="0.6" />
<line x1="70.05" y1="342" x2="70.05" y2="343" stroke="#555" stroke-width="0.6" />
<line x1="76.54" y1="342" x2="76.54" y2="343.8" stroke="#555" stroke-width="0.6" />
<line x1="83.03" y1="342" x2="83.03" y2="343" stroke="#555" stroke-width="0.6" />
<line x1="89.52" y1="342" x2="89.52" y2="343.8" stroke="#555" stroke-width="0.6" />
<line x1="96.01" y1="342" x2="96.01" y2="343" stroke="#555" stroke-width="0.6" />
<line x1="102.5" y1="342" x2="102.5" y2="343.8" stroke="#555" stroke-width="0.6" />
<line x1="108.99" y1="342" x2="108.99" y2="343" stroke="#555" stroke-width="0.6" />
<line x1="115.48" y1="342" x2="115.48" y2="343.8" stroke="#555" stroke-width="0.6" />
<line x1="121.97" y1="342" x2="121.97" y2="343" stroke="#555" stroke-width="0.6" />
<line x1="128.46" y1="342" x2="128.46" y2="343.8" stroke="#555" stroke-width="0.6" />
<line x1="134.95" y1="342" x2="134.95" y2="343" stroke="#555" stroke-width="0.6" />
<line x1="141.44" y1="342" x2="141.44" y2="343.8" stroke="#555" stroke-width="0.6" />
<line x1="147.93" y1="342" x2="147.93" y2="343" stroke="#555" stroke-width="0.6" />
<line x1="154.42" y1="342" x2="154.42" y2="343.8" stroke="#555" stroke-width="0.6" />
<line x1="160.91" y1="342" x2="160.91" y2="343" stroke="#555" stroke-width="0.6" />
<line x1="167.4" y1="342" x2="167.4" y2="343.8" stroke="#555" stroke-width="0.6" />
<text x="36" y="352.2" font-size="7.3" text-anchor="middle" font-weight="bold" fill="#222" stroke="#222" stroke-width="0.22" >−10</text>
<text x="48.98" y="352.2" font-size="7.3" text-anchor="middle" font-weight="bold" fill="#222" stroke="#222" stroke-width="0.22" >−8</text>
<text x="61.96" y="352.2" font-size="7.3" text-anchor="middle" font-weight="bold" fill="#222" stroke="#222" stroke-width="0.22" >−6</text>
<text x="74.94" y="352.2" font-size="7.3" text-anchor="middle" font-weight="bold" fill="#222" stroke="#222" stroke-width="0.22" >−4</text>
<text x="87.92" y="352.2" font-size="7.3" text-anchor="middle" font-weight="bold" fill="#222" stroke="#222" stroke-width="0.22" >−2</text>
<text x="102.5" y="352.2" font-size="7.3" text-anchor="middle" font-weight="bold" fill="#222" stroke="#222" stroke-width="0.22" >0</text>
<text x="115.48" y="352.2" font-size="7.3" text-anchor="middle" font-weight="bold" fill="#222" stroke="#222" stroke-width="0.22" >2</text>
<text x="128.46" y="352.2" font-size="7.3" text-anchor="middle" font-weight="bold" fill="#222" stroke="#222" stroke-width="0.22" >4</text>
<text x="141.44" y="352.2" font-size="7.3" text-anchor="middle" font-weight="bold" fill="#222" stroke="#222" stroke-width="0.22" >6</text>
<text x="154.42" y="352.2" font-size="7.3" text-anchor="middle" font-weight="bold" fill="#222" stroke="#222" stroke-width="0.22" >8</text>
<text x="167.4" y="352.2" font-size="7.3" text-anchor="middle" font-weight="bold" fill="#222" stroke="#222" stroke-width="0.22" >10</text>
<line x1="92.1" y1="237.4" x2="100.3" y2="237.4" stroke="#222" stroke-width="0.65" />
<line x1="107" y1="237.4" x2="113.7" y2="237.4" stroke="#222" stroke-width="0.65" />
<text x="114.7" y="241" font-size="9.2" text-anchor="start" font-weight="bold" fill="#111" stroke="#111" stroke-width="0.28" >93ns</text>
<text x="39.4" y="216.8" font-size="9.7" text-anchor="start" font-weight="bold" fill="#111" stroke="#111" stroke-width="0.29" >200 Hz</text>
<text x="39.4" y="228.4" font-size="9.7" text-anchor="start" font-weight="bold" fill="#111" stroke="#111" stroke-width="0.29" >20 kHz</text>
<text x="12.6" y="206.6" font-size="14" text-anchor="start" font-weight="bold" fill="#111" stroke="#111" stroke-width="0.42" >(d)</text>
<text x="103.2" y="362.5" font-size="12.2" text-anchor="middle" font-weight="bold" fill="#111" stroke="#111" stroke-width="0.37" >Time (ms)</text>
<text x="0" y="0" font-size="12.2" text-anchor="middle" font-weight="bold" fill="#111" stroke="#111" stroke-width="0.37" transform="translate(21.8,290.5) rotate(-90)">Intensity (a.u.)</text>
<line x1="212.2" y1="252" x2="214" y2="252" stroke="#555" stroke-width="0.7" />
<g transform="translate(209.7,254.2) scale(1.03,1)"><text x="0" y="0" font-size="6.9" text-anchor="end" font-weight="bold" fill="#222" stroke="#222" stroke-width="0.21" >0.0</text></g>
<line x1="213" y1="245.75" x2="214" y2="245.75" stroke="#555" stroke-width="0.5" />
<line x1="212.2" y1="239.5" x2="214" y2="239.5" stroke="#555" stroke-width="0.7" />
<g transform="translate(209.7,241.7) scale(1.03,1)"><text x="0" y="0" font-size="6.9" text-anchor="end" font-weight="bold" fill="#222" stroke="#222" stroke-width="0.21" >0.5</text></g>
<line x1="213" y1="233.25" x2="214" y2="233.25" stroke="#555" stroke-width="0.5" />
<line x1="212.2" y1="227" x2="214" y2="227" stroke="#555" stroke-width="0.7" />
<g transform="translate(209.7,229.2) scale(1.03,1)"><text x="0" y="0" font-size="6.9" text-anchor="end" font-weight="bold" fill="#222" stroke="#222" stroke-width="0.21" >1.0</text></g>
<line x1="213" y1="220.75" x2="214" y2="220.75" stroke="#555" stroke-width="0.5" />
<line x1="212.2" y1="214.5" x2="214" y2="214.5" stroke="#555" stroke-width="0.7" />
<g transform="translate(209.7,216.7) scale(1.03,1)"><text x="0" y="0" font-size="6.9" text-anchor="end" font-weight="bold" fill="#222" stroke="#222" stroke-width="0.21" >1.5</text></g>
<line x1="212.2" y1="297.5" x2="214" y2="297.5" stroke="#555" stroke-width="0.7" />
<g transform="translate(209.7,299.7) scale(1.03,1)"><text x="0" y="0" font-size="6.9" text-anchor="end" font-weight="bold" fill="#222" stroke="#222" stroke-width="0.21" >0.0</text></g>
<line x1="213" y1="291.25" x2="214" y2="291.25" stroke="#555" stroke-width="0.5" />
<line x1="212.2" y1="285" x2="214" y2="285" stroke="#555" stroke-width="0.7" />
<g transform="translate(209.7,287.2) scale(1.03,1)"><text x="0" y="0" font-size="6.9" text-anchor="end" font-weight="bold" fill="#222" stroke="#222" stroke-width="0.21" >0.5</text></g>
<line x1="213" y1="278.75" x2="214" y2="278.75" stroke="#555" stroke-width="0.5" />
<line x1="212.2" y1="272.5" x2="214" y2="272.5" stroke="#555" stroke-width="0.7" />
<g transform="translate(209.7,274.7) scale(1.03,1)"><text x="0" y="0" font-size="6.9" text-anchor="end" font-weight="bold" fill="#222" stroke="#222" stroke-width="0.21" >1.0</text></g>
<line x1="213" y1="266.25" x2="214" y2="266.25" stroke="#555" stroke-width="0.5" />
<line x1="212.2" y1="260" x2="214" y2="260" stroke="#555" stroke-width="0.7" />
<g transform="translate(209.7,262.2) scale(1.03,1)"><text x="0" y="0" font-size="6.9" text-anchor="end" font-weight="bold" fill="#222" stroke="#222" stroke-width="0.21" >1.5</text></g>
<line x1="212.2" y1="342.9" x2="214" y2="342.9" stroke="#555" stroke-width="0.7" />
<g transform="translate(209.7,345.1) scale(1.03,1)"><text x="0" y="0" font-size="6.9" text-anchor="end" font-weight="bold" fill="#222" stroke="#222" stroke-width="0.21" >0.0</text></g>
<line x1="213" y1="336.65" x2="214" y2="336.65" stroke="#555" stroke-width="0.5" />
<line x1="212.2" y1="330.4" x2="214" y2="330.4" stroke="#555" stroke-width="0.7" />
<g transform="translate(209.7,332.6) scale(1.03,1)"><text x="0" y="0" font-size="6.9" text-anchor="end" font-weight="bold" fill="#222" stroke="#222" stroke-width="0.21" >0.5</text></g>
<line x1="213" y1="324.15" x2="214" y2="324.15" stroke="#555" stroke-width="0.5" />
<line x1="212.2" y1="317.9" x2="214" y2="317.9" stroke="#555" stroke-width="0.7" />
<g transform="translate(209.7,320.1) scale(1.03,1)"><text x="0" y="0" font-size="6.9" text-anchor="end" font-weight="bold" fill="#222" stroke="#222" stroke-width="0.21" >1.0</text></g>
<line x1="213" y1="311.65" x2="214" y2="311.65" stroke="#555" stroke-width="0.5" />
<line x1="212.2" y1="305.4" x2="214" y2="305.4" stroke="#555" stroke-width="0.7" />
<g transform="translate(209.7,307.6) scale(1.03,1)"><text x="0" y="0" font-size="6.9" text-anchor="end" font-weight="bold" fill="#222" stroke="#222" stroke-width="0.21" >1.5</text></g>
<polyline points="236.2,251.94 236.53,251.88 236.87,251.85 237.2,251.78 237.54,251.88 237.87,251.79 238.2,252.24 238.54,252.02 238.87,251.78 239.2,251.93 239.54,251.8 239.87,252.19 240.21,252.02 240.54,252.13 240.87,251.98 241.21,251.96 241.54,252.24 241.88,252.14 242.21,252.11 242.54,251.79 242.88,251.87 243.21,252.17 243.54,251.85 243.88,252.18 244.21,251.94 244.55,252.19 244.88,252.25 245.21,251.81 245.55,252.15 245.88,252.14 246.22,251.76 246.55,251.81 246.88,252.11 247.22,251.77 247.55,251.98 247.88,251.91 248.22,252.15 248.55,251.78 248.89,251.9 249.22,251.77 249.55,251.8 249.89,252.1 250.22,252.07 250.56,252.17 250.89,252.18 251.22,252.22 251.56,252.1 251.89,251.95 252.22,252.25 252.56,251.91 252.89,252.08 253.23,252.1 253.56,251.84 253.89,252.01 254.23,252.09 254.56,252.01 254.9,251.9 255.23,252.22 255.56,251.76 255.9,252.24 256.23,251.88 256.56,251.83 256.9,252.24 257.23,251.86 257.57,252.07 257.9,251.96 258.23,252.24 258.57,252.23 258.9,252.16 259.24,251.77 259.57,252.15 259.9,251.87 260.24,251.78 260.57,251.77 260.91,252.06 261.24,252.05 261.57,251.95 261.91,251.81 262.24,252.12 262.57,251.77 262.91,251.7 263.24,251.61 263.58,251.94 263.91,251.38 264.24,251.67 264.58,251.37 264.91,251.01 265.25,250.58 265.58,250.51 265.91,249.78 266.25,249.44 266.58,248.91 266.91,248.14 267.25,247.31 267.58,246.31 267.92,245.08 268.25,243.44 268.58,241.77 268.92,240.51 269.25,238.74 269.59,236.32 269.92,234.49 270.25,232.42 270.59,230.34 270.92,227.99 271.25,225.75 271.59,223.91 271.92,222.05 272.26,220.56 272.59,218.7 272.92,218.03 273.26,217.06 273.59,216.58 273.93,217.07 274.26,217.3 274.59,218.03 274.93,219.19 275.26,220.19 275.59,221.61 275.93,222.5 276.26,223.65 276.6,224.27 276.93,225.47 277.26,226.28 277.6,226.86 277.93,227.75 278.27,228.46 278.6,229.47 278.93,230.17 279.27,230.74 279.6,231.52 279.93,232.25 280.27,232.8 280.6,233.51 280.94,233.95 281.27,234.18 281.6,234.71 281.94,235.37 282.27,235.9 282.61,236.44 282.94,237 283.27,237.33 283.61,237.48 283.94,237.82 284.27,238.45 284.61,238.59 284.94,238.94 285.28,239.32 285.61,239.65 285.94,239.91 286.28,240.4 286.61,240.52 286.95,241.01 287.28,241.17 287.61,241.28 287.95,241.57 288.28,242 288.61,241.91 288.95,242.27 289.28,242.52 289.62,243.01 289.95,242.94 290.28,243.28 290.62,243.26 290.95,243.54 291.29,243.54 291.62,243.79 291.95,243.88 292.29,244.26 292.62,244.27 292.95,244.37 293.29,244.47 293.62,244.85 293.96,244.73 294.29,244.85 294.62,245.07 294.96,245.05 295.29,245.18 295.63,245.51 295.96,245.62 296.29,245.91 296.63,245.68 296.96,245.73 297.29,246.07 297.63,246.06 297.96,246.14 298.3,246.23 298.63,246.6 298.96,246.38 299.3,246.57 299.63,246.61 299.97,246.81 300.3,246.79 300.63,246.79 300.97,246.94 301.3,246.97 301.64,247.39 301.97,247.39 302.3,247.32 302.64,247.29 302.97,247.57 303.3,247.4 303.64,247.49 303.97,247.85 304.31,247.69 304.64,247.88 304.97,248.02 305.31,248.04 305.64,248 305.98,248.13 306.31,248.17 306.64,248.31 306.98,248.14 307.31,248.24 307.64,248.17 307.98,248.23 308.31,248.45 308.65,248.17 308.98,248.67 309.31,248.51 309.65,248.62 309.98,248.6 310.32,248.79 310.65,248.47 310.98,248.74 311.32,248.95 311.65,248.71 311.98,249 312.32,248.82 312.65,248.96 312.99,248.88 313.32,248.73 313.65,248.83 313.99,249.07 314.32,248.91 314.66,249.03 314.99,249.2 315.32,249.35 315.66,249.16 315.99,249.2 316.32,249.04 316.66,249.07 316.99,249.28 317.33,249.44 317.66,249.2 317.99,249.68 318.33,249.65 318.66,249.45 319,249.46 319.33,249.72 319.66,249.51 320,249.41 320.33,249.69 320.66,249.69 321,249.82 321.33,249.8 321.67,249.48 322,249.79" fill="none" stroke="#111" stroke-width="1.7" stroke-linejoin="round" />
<polyline points="214.5,297.3 255.6,297.3 256.3,298.4 262,296.6 262.8,298.4 268.5,296.6 269.3,298.4 275,296.6 275.8,298.4 281.5,296.6 282.3,298.4 288,296.6 288.8,298.4 294.5,296.6 295.3,298.4 301,296.6 301.8,298.4 307.5,296.6 308.3,298.4 310.9,297.5 343.3,297.5" fill="none" stroke="#111" stroke-width="1.6" stroke-linejoin="round" />
<line x1="255.9" y1="297.5" x2="255.9" y2="272.5" stroke="#111" stroke-width="0.6" opacity="0.6"/>
<line x1="262.4" y1="297.5" x2="262.4" y2="272.5" stroke="#111" stroke-width="0.6" opacity="0.6"/>
<line x1="268.9" y1="297.5" x2="268.9" y2="272.5" stroke="#111" stroke-width="0.6" opacity="0.6"/>
<line x1="275.4" y1="297.5" x2="275.4" y2="272.5" stroke="#111" stroke-width="0.6" opacity="0.6"/>
<line x1="281.9" y1="297.5" x2="281.9" y2="272.5" stroke="#111" stroke-width="0.6" opacity="0.6"/>
<line x1="288.4" y1="297.5" x2="288.4" y2="272.5" stroke="#111" stroke-width="0.6" opacity="0.6"/>
<line x1="294.9" y1="297.5" x2="294.9" y2="272.5" stroke="#111" stroke-width="0.6" opacity="0.6"/>
<line x1="301.4" y1="297.5" x2="301.4" y2="272.5" stroke="#111" stroke-width="0.6" opacity="0.6"/>
<line x1="307.9" y1="297.5" x2="307.9" y2="272.5" stroke="#111" stroke-width="0.6" opacity="0.6"/>
<line x1="214.5" y1="342.7" x2="343.3" y2="342.7" stroke="#111" stroke-width="1.7" />
<line x1="231.9" y1="342.9" x2="231.9" y2="317.9" stroke="#111" stroke-width="0.7" opacity="0.6"/>
<line x1="264.1" y1="342.9" x2="264.1" y2="317.9" stroke="#111" stroke-width="0.7" opacity="0.6"/>
<line x1="296.8" y1="342.9" x2="296.8" y2="317.9" stroke="#111" stroke-width="0.7" opacity="0.6"/>
<line x1="329" y1="342.9" x2="329" y2="317.9" stroke="#111" stroke-width="0.7" opacity="0.6"/>
<line x1="214" y1="253" x2="343.8" y2="253" stroke="#777" stroke-width="0.8" />
<line x1="214" y1="298.5" x2="343.8" y2="298.5" stroke="#777" stroke-width="0.8" />
<rect x="214" y="207.8" width="129.8" height="135.6" fill="none" stroke="#777" stroke-width="1"/>
<text x="235.5" y="263.1" font-size="6.9" text-anchor="middle" font-weight="bold" fill="#222" stroke="#222" stroke-width="0.21" >−0.005</text>
<text x="278.9" y="263.1" font-size="6.9" text-anchor="middle" font-weight="bold" fill="#222" stroke="#222" stroke-width="0.21" >0.000</text>
<text x="321.9" y="263.1" font-size="6.9" text-anchor="middle" font-weight="bold" fill="#222" stroke="#222" stroke-width="0.21" >0.005</text>
<line x1="235.5" y1="253" x2="235.5" y2="254.6" stroke="#555" stroke-width="0.6" />
<line x1="257.1" y1="253" x2="257.1" y2="254.6" stroke="#555" stroke-width="0.6" />
<line x1="278.7" y1="253" x2="278.7" y2="254.6" stroke="#555" stroke-width="0.6" />
<line x1="300.3" y1="253" x2="300.3" y2="254.6" stroke="#555" stroke-width="0.6" />
<line x1="321.9" y1="253" x2="321.9" y2="254.6" stroke="#555" stroke-width="0.6" />
<text x="226.8" y="307.8" font-size="6.9" text-anchor="middle" font-weight="bold" fill="#222" stroke="#222" stroke-width="0.21" >−0.2</text>
<text x="278.4" y="307.8" font-size="6.9" text-anchor="middle" font-weight="bold" fill="#222" stroke="#222" stroke-width="0.21" >0.0</text>
<text x="330" y="307.8" font-size="6.9" text-anchor="middle" font-weight="bold" fill="#222" stroke="#222" stroke-width="0.21" >0.2</text>
<line x1="226.8" y1="298.5" x2="226.8" y2="300.1" stroke="#555" stroke-width="0.6" />
<line x1="252.6" y1="298.5" x2="252.6" y2="300.1" stroke="#555" stroke-width="0.6" />
<line x1="278.4" y1="298.5" x2="278.4" y2="300.1" stroke="#555" stroke-width="0.6" />
<line x1="304.2" y1="298.5" x2="304.2" y2="300.1" stroke="#555" stroke-width="0.6" />
<line x1="330" y1="298.5" x2="330" y2="300.1" stroke="#555" stroke-width="0.6" />
<line x1="214" y1="343.4" x2="214" y2="345.2" stroke="#555" stroke-width="0.6" />
<line x1="220.49" y1="343.4" x2="220.49" y2="344.4" stroke="#555" stroke-width="0.6" />
<line x1="226.98" y1="343.4" x2="226.98" y2="345.2" stroke="#555" stroke-width="0.6" />
<line x1="233.47" y1="343.4" x2="233.47" y2="344.4" stroke="#555" stroke-width="0.6" />
<line x1="239.96" y1="343.4" x2="239.96" y2="345.2" stroke="#555" stroke-width="0.6" />
<line x1="246.45" y1="343.4" x2="246.45" y2="344.4" stroke="#555" stroke-width="0.6" />
<line x1="252.94" y1="343.4" x2="252.94" y2="345.2" stroke="#555" stroke-width="0.6" />
<line x1="259.43" y1="343.4" x2="259.43" y2="344.4" stroke="#555" stroke-width="0.6" />
<line x1="265.92" y1="343.4" x2="265.92" y2="345.2" stroke="#555" stroke-width="0.6" />
<line x1="272.41" y1="343.4" x2="272.41" y2="344.4" stroke="#555" stroke-width="0.6" />
<line x1="278.9" y1="343.4" x2="278.9" y2="345.2" stroke="#555" stroke-width="0.6" />
<line x1="285.39" y1="343.4" x2="285.39" y2="344.4" stroke="#555" stroke-width="0.6" />
<line x1="291.88" y1="343.4" x2="291.88" y2="345.2" stroke="#555" stroke-width="0.6" />
<line x1="298.37" y1="343.4" x2="298.37" y2="344.4" stroke="#555" stroke-width="0.6" />
<line x1="304.86" y1="343.4" x2="304.86" y2="345.2" stroke="#555" stroke-width="0.6" />
<line x1="311.35" y1="343.4" x2="311.35" y2="344.4" stroke="#555" stroke-width="0.6" />
<line x1="317.84" y1="343.4" x2="317.84" y2="345.2" stroke="#555" stroke-width="0.6" />
<line x1="324.33" y1="343.4" x2="324.33" y2="344.4" stroke="#555" stroke-width="0.6" />
<line x1="330.82" y1="343.4" x2="330.82" y2="345.2" stroke="#555" stroke-width="0.6" />
<line x1="337.31" y1="343.4" x2="337.31" y2="344.4" stroke="#555" stroke-width="0.6" />
<line x1="343.8" y1="343.4" x2="343.8" y2="345.2" stroke="#555" stroke-width="0.6" />
<text x="212.4" y="353.5" font-size="7.3" text-anchor="middle" font-weight="bold" fill="#222" stroke="#222" stroke-width="0.22" >−10</text>
<text x="225.38" y="353.5" font-size="7.3" text-anchor="middle" font-weight="bold" fill="#222" stroke="#222" stroke-width="0.22" >−8</text>
<text x="238.36" y="353.5" font-size="7.3" text-anchor="middle" font-weight="bold" fill="#222" stroke="#222" stroke-width="0.22" >−6</text>
<text x="251.34" y="353.5" font-size="7.3" text-anchor="middle" font-weight="bold" fill="#222" stroke="#222" stroke-width="0.22" >−4</text>
<text x="264.32" y="353.5" font-size="7.3" text-anchor="middle" font-weight="bold" fill="#222" stroke="#222" stroke-width="0.22" >−2</text>
<text x="278.9" y="353.5" font-size="7.3" text-anchor="middle" font-weight="bold" fill="#222" stroke="#222" stroke-width="0.22" >0</text>
<text x="291.88" y="353.5" font-size="7.3" text-anchor="middle" font-weight="bold" fill="#222" stroke="#222" stroke-width="0.22" >2</text>
<text x="304.86" y="353.5" font-size="7.3" text-anchor="middle" font-weight="bold" fill="#222" stroke="#222" stroke-width="0.22" >4</text>
<text x="317.84" y="353.5" font-size="7.3" text-anchor="middle" font-weight="bold" fill="#222" stroke="#222" stroke-width="0.22" >6</text>
<text x="330.82" y="353.5" font-size="7.3" text-anchor="middle" font-weight="bold" fill="#222" stroke="#222" stroke-width="0.22" >8</text>
<text x="343.8" y="353.5" font-size="7.3" text-anchor="middle" font-weight="bold" fill="#222" stroke="#222" stroke-width="0.22" >10</text>
<line x1="261.6" y1="236.4" x2="269.6" y2="236.4" stroke="#222" stroke-width="0.65" />
<line x1="281" y1="236.4" x2="288.9" y2="236.4" stroke="#222" stroke-width="0.65" />
<text x="290.6" y="240" font-size="9.2" text-anchor="start" font-weight="bold" fill="#111" stroke="#111" stroke-width="0.28" >125ns</text>
<text x="215.7" y="218.3" font-size="9.7" text-anchor="start" font-weight="bold" fill="#111" stroke="#111" stroke-width="0.29" >200 Hz</text>
<text x="215.7" y="230.1" font-size="9.7" text-anchor="start" font-weight="bold" fill="#111" stroke="#111" stroke-width="0.29" >40 kHz</text>
<text x="186.6" y="211.3" font-size="14" text-anchor="start" font-weight="bold" fill="#111" stroke="#111" stroke-width="0.42" >(e)</text>
<text x="279" y="367.5" font-size="12.2" text-anchor="middle" font-weight="bold" fill="#111" stroke="#111" stroke-width="0.37" >Time (ms)</text>
<text x="0" y="0" font-size="12.2" text-anchor="middle" font-weight="bold" fill="#111" stroke="#111" stroke-width="0.37" transform="translate(198.4,288.2) rotate(-90)">Intensity (a.u.)</text>
<line x1="393.6" y1="253.4" x2="395.4" y2="253.4" stroke="#555" stroke-width="0.7" />
<g transform="translate(391.1,255.6) scale(1.03,1)"><text x="0" y="0" font-size="6.9" text-anchor="end" font-weight="bold" fill="#222" stroke="#222" stroke-width="0.21" >0.0</text></g>
<line x1="394.4" y1="247.15" x2="395.4" y2="247.15" stroke="#555" stroke-width="0.5" />
<line x1="393.6" y1="240.9" x2="395.4" y2="240.9" stroke="#555" stroke-width="0.7" />
<g transform="translate(391.1,243.1) scale(1.03,1)"><text x="0" y="0" font-size="6.9" text-anchor="end" font-weight="bold" fill="#222" stroke="#222" stroke-width="0.21" >0.5</text></g>
<line x1="394.4" y1="234.65" x2="395.4" y2="234.65" stroke="#555" stroke-width="0.5" />
<line x1="393.6" y1="228.4" x2="395.4" y2="228.4" stroke="#555" stroke-width="0.7" />
<g transform="translate(391.1,230.6) scale(1.03,1)"><text x="0" y="0" font-size="6.9" text-anchor="end" font-weight="bold" fill="#222" stroke="#222" stroke-width="0.21" >1.0</text></g>
<line x1="394.4" y1="222.15" x2="395.4" y2="222.15" stroke="#555" stroke-width="0.5" />
<line x1="393.6" y1="215.9" x2="395.4" y2="215.9" stroke="#555" stroke-width="0.7" />
<g transform="translate(391.1,218.1) scale(1.03,1)"><text x="0" y="0" font-size="6.9" text-anchor="end" font-weight="bold" fill="#222" stroke="#222" stroke-width="0.21" >1.5</text></g>
<line x1="393.6" y1="298.9" x2="395.4" y2="298.9" stroke="#555" stroke-width="0.7" />
<g transform="translate(391.1,301.1) scale(1.03,1)"><text x="0" y="0" font-size="6.9" text-anchor="end" font-weight="bold" fill="#222" stroke="#222" stroke-width="0.21" >0.0</text></g>
<line x1="394.4" y1="292.65" x2="395.4" y2="292.65" stroke="#555" stroke-width="0.5" />
<line x1="393.6" y1="286.4" x2="395.4" y2="286.4" stroke="#555" stroke-width="0.7" />
<g transform="translate(391.1,288.6) scale(1.03,1)"><text x="0" y="0" font-size="6.9" text-anchor="end" font-weight="bold" fill="#222" stroke="#222" stroke-width="0.21" >0.5</text></g>
<line x1="394.4" y1="280.15" x2="395.4" y2="280.15" stroke="#555" stroke-width="0.5" />
<line x1="393.6" y1="273.9" x2="395.4" y2="273.9" stroke="#555" stroke-width="0.7" />
<g transform="translate(391.1,276.1) scale(1.03,1)"><text x="0" y="0" font-size="6.9" text-anchor="end" font-weight="bold" fill="#222" stroke="#222" stroke-width="0.21" >1.0</text></g>
<line x1="394.4" y1="267.65" x2="395.4" y2="267.65" stroke="#555" stroke-width="0.5" />
<line x1="393.6" y1="261.4" x2="395.4" y2="261.4" stroke="#555" stroke-width="0.7" />
<g transform="translate(391.1,263.6) scale(1.03,1)"><text x="0" y="0" font-size="6.9" text-anchor="end" font-weight="bold" fill="#222" stroke="#222" stroke-width="0.21" >1.5</text></g>
<line x1="393.6" y1="344.1" x2="395.4" y2="344.1" stroke="#555" stroke-width="0.7" />
<g transform="translate(391.1,346.3) scale(1.03,1)"><text x="0" y="0" font-size="6.9" text-anchor="end" font-weight="bold" fill="#222" stroke="#222" stroke-width="0.21" >0.0</text></g>
<line x1="394.4" y1="337.85" x2="395.4" y2="337.85" stroke="#555" stroke-width="0.5" />
<line x1="393.6" y1="331.6" x2="395.4" y2="331.6" stroke="#555" stroke-width="0.7" />
<g transform="translate(391.1,333.8) scale(1.03,1)"><text x="0" y="0" font-size="6.9" text-anchor="end" font-weight="bold" fill="#222" stroke="#222" stroke-width="0.21" >0.5</text></g>
<line x1="394.4" y1="325.35" x2="395.4" y2="325.35" stroke="#555" stroke-width="0.5" />
<line x1="393.6" y1="319.1" x2="395.4" y2="319.1" stroke="#555" stroke-width="0.7" />
<g transform="translate(391.1,321.3) scale(1.03,1)"><text x="0" y="0" font-size="6.9" text-anchor="end" font-weight="bold" fill="#222" stroke="#222" stroke-width="0.21" >1.0</text></g>
<line x1="394.4" y1="312.85" x2="395.4" y2="312.85" stroke="#555" stroke-width="0.5" />
<line x1="393.6" y1="306.6" x2="395.4" y2="306.6" stroke="#555" stroke-width="0.7" />
<g transform="translate(391.1,308.8) scale(1.03,1)"><text x="0" y="0" font-size="6.9" text-anchor="end" font-weight="bold" fill="#222" stroke="#222" stroke-width="0.21" >1.5</text></g>
<polyline points="395.9,253.25 396.23,253.24 396.57,253.41 396.9,253.52 397.23,253.65 397.57,253.32 397.9,253.41 398.23,253.27 398.57,253.46 398.9,253.26 399.24,253.51 399.57,253.25 399.9,253.29 400.24,253.44 400.57,253.38 400.9,253.31 401.24,253.55 401.57,253.37 401.9,253.25 402.24,253.52 402.57,253.25 402.9,253.31 403.24,253.23 403.57,253.48 403.9,253.6 404.24,253.25 404.57,253.25 404.9,253.43 405.24,253.6 405.57,253.55 405.91,253.33 406.24,253.5 406.57,253.17 406.91,253.36 407.24,253.55 407.57,253.32 407.91,253.47 408.24,253.18 408.57,253.2 408.91,253.39 409.24,253.33 409.57,253.3 409.91,253.25 410.24,253.16 410.57,253.64 410.91,253.47 411.24,253.35 411.57,253.5 411.91,253.36 412.24,253.61 412.58,253.21 412.91,253.39 413.24,253.59 413.58,253.32 413.91,253.49 414.24,253.55 414.58,253.41 414.91,253.58 415.24,253.55 415.58,253.22 415.91,253.3 416.24,253.64 416.58,253.26 416.91,253.64 417.24,253.48 417.58,253.2 417.91,253.34 418.24,253.5 418.58,253.46 418.91,253.46 419.25,253.59 419.58,253.15 419.91,253.62 420.25,253.44 420.58,253.28 420.91,253.45 421.25,253.16 421.58,253.53 421.91,253.16 422.25,253.2 422.58,253.31 422.91,253.21 423.25,253.43 423.58,253.23 423.91,253.25 424.25,253.39 424.58,253.41 424.91,253.3 425.25,253.45 425.58,253.61 425.92,253.28 426.25,253.52 426.58,253.41 426.92,253.26 427.25,253.56 427.58,253.64 427.92,253.59 428.25,253.36 428.58,253.47 428.92,253.52 429.25,253.42 429.58,253.19 429.92,253.52 430.25,253.44 430.58,253.21 430.92,253.34 431.25,253.52 431.59,253.41 431.92,253.41 432.25,253.58 432.59,253.46 432.92,253.5 433.25,253.25 433.59,253.49 433.92,253.32 434.25,253.16 434.59,253.19 434.92,253.46 435.25,253.35 435.59,253.49 435.92,253.45 436.25,253.41 436.59,253.25 436.92,253.18 437.25,253.5 437.59,253.65 437.92,253.43 438.26,253.62 438.59,253.63 438.92,253.26 439.26,253.59 439.59,253.29 439.92,253.47 440.26,253.18 440.59,253.22 440.92,253.62 441.26,253.55 441.59,253.18 441.92,253.34 442.26,253.44 442.59,253.26 442.92,253.24 443.26,253.4 443.59,253.42 443.92,253.6 444.26,253.47 444.59,253.58 444.93,253.34 445.26,253.35 445.59,253.58 445.93,253.34 446.26,253.6 446.59,253.6 446.93,253.33 447.26,253.42 447.59,253.2 447.93,253.34 448.26,253.3 448.59,253.59 448.93,253.23 449.26,253.61 449.59,253.34 449.93,253.19 450.26,253.2 450.59,253.2 450.93,253.42 451.26,253.3 451.6,253.25 451.93,253.58 452.26,253.17 452.6,253.18 452.93,253.4 453.26,253.22 453.6,253.35 453.93,253.4 454.26,253.11 454.6,253.34 454.93,252.83 455.26,252.54 455.6,252.6 455.93,251.88 456.26,251.78 456.6,250.7 456.93,250.1 457.26,248.63 457.6,247.5 457.93,245.59 458.27,244.06 458.6,241.77 458.93,238.88 459.27,236.21 459.6,233.35 459.93,230.61 460.27,227.6 460.6,224.71 460.93,222.38 461.27,219.86 461.6,218.49 461.93,217.57 462.27,217.55 462.6,218.21 462.93,219.32 463.27,220.28 463.6,222.04 463.94,223.31 464.27,224.8 464.6,226.17 464.94,227.69 465.27,228.91 465.6,229.84 465.94,231.16 466.27,231.93 466.6,233.07 466.94,233.9 467.27,234.81 467.6,235.39 467.94,236.22 468.27,237 468.6,237.66 468.94,238.1 469.27,238.51 469.6,239.3 469.94,239.95 470.27,240.35 470.61,240.85 470.94,241.11 471.27,241.41 471.61,241.9 471.94,242.46 472.27,242.73 472.61,243.02 472.94,243.3 473.27,243.61 473.61,243.58 473.94,244.06 474.27,244.25 474.61,244.45 474.94,244.71 475.27,244.84 475.61,245.25 475.94,245.29 476.27,245.32 476.61,245.89 476.94,245.82 477.28,246.1 477.61,246.41 477.94,246.56 478.28,246.33 478.61,246.78 478.94,246.61 479.28,247.03 479.61,247.01 479.94,247.28 480.28,247.13 480.61,247.11 480.94,247.48 481.28,247.4 481.61,247.31 481.94,247.71 482.28,247.7 482.61,247.66 482.94,247.66 483.28,248.08 483.61,247.91 483.95,248.25 484.28,248.32 484.61,247.95 484.95,248.48 485.28,248.11 485.61,248.25 485.95,248.34 486.28,248.37 486.61,248.47 486.95,248.7 487.28,248.68 487.61,248.85 487.95,248.57 488.28,248.66 488.61,248.7 488.95,249.04 489.28,248.89 489.61,249.11 489.95,248.88 490.28,248.95 490.62,248.87 490.95,249.05 491.28,249.1 491.62,249.1 491.95,249.48 492.28,249.27 492.62,249.59 492.95,249.46 493.28,249.62 493.62,249.24 493.95,249.74 494.28,249.32 494.62,249.35 494.95,249.64 495.28,249.47 495.62,249.9 495.95,249.89 496.29,249.98 496.62,249.99 496.95,250.05 497.29,249.67 497.62,250.07 497.95,249.85 498.29,250.04 498.62,250.14 498.95,250.03 499.29,250.17 499.62,249.81 499.95,250.13 500.29,250.06 500.62,250.1 500.95,250.09 501.29,250.2 501.62,250.33 501.95,250.42 502.29,250.07 502.62,250.45 502.96,250.35 503.29,250.19 503.62,250.33 503.96,250.17 504.29,250.27 504.62,250.44 504.96,250.66 505.29,250.45 505.62,250.54 505.96,250.37 506.29,250.55 506.62,250.5 506.96,250.46 507.29,250.66 507.62,250.49 507.96,250.49 508.29,250.88 508.62,250.52 508.96,250.57 509.29,250.6 509.63,250.88 509.96,250.94 510.29,251.03 510.63,250.93 510.96,250.71 511.29,250.97 511.63,251.17 511.96,251.04 512.29,251.18 512.63,250.93 512.96,250.87 513.29,250.81 513.63,251.25 513.96,251.13 514.29,251.27 514.63,250.9 514.96,250.96 515.29,251.13 515.63,250.94 515.96,251.17 516.3,251.06 516.63,251.22 516.96,251.3 517.3,251.01 517.63,251.1 517.96,251.24 518.3,251.12 518.63,251.25 518.96,251.19 519.3,251.58 519.63,251.56 519.96,251.59 520.3,251.36 520.63,251.32 520.96,251.61 521.3,251.46 521.63,251.67 521.96,251.4 522.3,251.37 522.63,251.73 522.97,251.3 523.3,251.47 523.63,251.76 523.97,251.66 524.3,251.76 524.63,251.49 524.97,251.4 525.3,251.78" fill="none" stroke="#111" stroke-width="1.4" stroke-linejoin="round" />
<polyline points="395.9,298.7 433.8,298.7 434.5,299.8 438.93,298 439.73,299.8 444.16,298 444.96,299.8 449.39,298 450.19,299.8 454.62,298 455.42,299.8 459.85,298 460.65,299.8 465.08,298 465.88,299.8 470.31,298 471.11,299.8 475.54,298 476.34,299.8 480.77,298 481.57,299.8 486,298 486.8,299.8 489.4,298.9 525.3,298.9" fill="none" stroke="#111" stroke-width="1.6" stroke-linejoin="round" />
<line x1="434.1" y1="298.9" x2="434.1" y2="275.9" stroke="#111" stroke-width="0.6" opacity="0.6"/>
<line x1="439.33" y1="298.9" x2="439.33" y2="273.9" stroke="#111" stroke-width="0.6" opacity="0.6"/>
<line x1="444.56" y1="298.9" x2="444.56" y2="274.4" stroke="#111" stroke-width="0.6" opacity="0.6"/>
<line x1="449.79" y1="298.9" x2="449.79" y2="273.9" stroke="#111" stroke-width="0.6" opacity="0.6"/>
<line x1="455.02" y1="298.9" x2="455.02" y2="273.9" stroke="#111" stroke-width="0.6" opacity="0.6"/>
<line x1="460.25" y1="298.9" x2="460.25" y2="274.4" stroke="#111" stroke-width="0.6" opacity="0.6"/>
<line x1="465.48" y1="298.9" x2="465.48" y2="273.9" stroke="#111" stroke-width="0.6" opacity="0.6"/>
<line x1="470.71" y1="298.9" x2="470.71" y2="273.9" stroke="#111" stroke-width="0.6" opacity="0.6"/>
<line x1="475.94" y1="298.9" x2="475.94" y2="273.9" stroke="#111" stroke-width="0.6" opacity="0.6"/>
<line x1="481.17" y1="298.9" x2="481.17" y2="274.4" stroke="#111" stroke-width="0.6" opacity="0.6"/>
<line x1="486.4" y1="298.9" x2="486.4" y2="274.4" stroke="#111" stroke-width="0.6" opacity="0.6"/>
<line x1="395.9" y1="343.9" x2="525.3" y2="343.9" stroke="#111" stroke-width="1.7" />
<line x1="410.9" y1="344.1" x2="410.9" y2="319.1" stroke="#111" stroke-width="0.7" opacity="0.6"/>
<line x1="443.6" y1="344.1" x2="443.6" y2="319.1" stroke="#111" stroke-width="0.7" opacity="0.6"/>
<line x1="475.8" y1="344.1" x2="475.8" y2="319.1" stroke="#111" stroke-width="0.7" opacity="0.6"/>
<line x1="508.3" y1="344.1" x2="508.3" y2="319.1" stroke="#111" stroke-width="0.7" opacity="0.6"/>
<line x1="395.4" y1="254.4" x2="525.8" y2="254.4" stroke="#777" stroke-width="0.8" />
<line x1="395.4" y1="299.9" x2="525.8" y2="299.9" stroke="#777" stroke-width="0.8" />
<rect x="395.4" y="209.3" width="130.4" height="135.3" fill="none" stroke="#777" stroke-width="1"/>
<text x="428.6" y="264.9" font-size="6.9" text-anchor="middle" font-weight="bold" fill="#222" stroke="#222" stroke-width="0.21" >−0.0005</text>
<text x="460.5" y="264.9" font-size="6.9" text-anchor="middle" font-weight="bold" fill="#222" stroke="#222" stroke-width="0.21" >0.0000</text>
<text x="492.7" y="264.9" font-size="6.9" text-anchor="middle" font-weight="bold" fill="#222" stroke="#222" stroke-width="0.21" >0.0005</text>
<line x1="396.55" y1="254.4" x2="396.55" y2="256" stroke="#555" stroke-width="0.6" />
<line x1="412.58" y1="254.4" x2="412.58" y2="256" stroke="#555" stroke-width="0.6" />
<line x1="428.6" y1="254.4" x2="428.6" y2="256" stroke="#555" stroke-width="0.6" />
<line x1="444.62" y1="254.4" x2="444.62" y2="256" stroke="#555" stroke-width="0.6" />
<line x1="460.65" y1="254.4" x2="460.65" y2="256" stroke="#555" stroke-width="0.6" />
<line x1="476.67" y1="254.4" x2="476.67" y2="256" stroke="#555" stroke-width="0.6" />
<line x1="492.7" y1="254.4" x2="492.7" y2="256" stroke="#555" stroke-width="0.6" />
<line x1="508.72" y1="254.4" x2="508.72" y2="256" stroke="#555" stroke-width="0.6" />
<line x1="524.75" y1="254.4" x2="524.75" y2="256" stroke="#555" stroke-width="0.6" />
<text x="410.1" y="310" font-size="6.9" text-anchor="middle" font-weight="bold" fill="#222" stroke="#222" stroke-width="0.21" >−0.2</text>
<text x="462.2" y="310" font-size="6.9" text-anchor="middle" font-weight="bold" fill="#222" stroke="#222" stroke-width="0.21" >0.0</text>
<text x="513.2" y="310" font-size="6.9" text-anchor="middle" font-weight="bold" fill="#222" stroke="#222" stroke-width="0.21" >0.2</text>
<line x1="410.1" y1="299.9" x2="410.1" y2="301.5" stroke="#555" stroke-width="0.6" />
<line x1="435.88" y1="299.9" x2="435.88" y2="301.5" stroke="#555" stroke-width="0.6" />
<line x1="461.65" y1="299.9" x2="461.65" y2="301.5" stroke="#555" stroke-width="0.6" />
<line x1="487.42" y1="299.9" x2="487.42" y2="301.5" stroke="#555" stroke-width="0.6" />
<line x1="513.2" y1="299.9" x2="513.2" y2="301.5" stroke="#555" stroke-width="0.6" />
<line x1="395.4" y1="344.6" x2="395.4" y2="346.4" stroke="#555" stroke-width="0.6" />
<line x1="401.92" y1="344.6" x2="401.92" y2="345.6" stroke="#555" stroke-width="0.6" />
<line x1="408.44" y1="344.6" x2="408.44" y2="346.4" stroke="#555" stroke-width="0.6" />
<line x1="414.96" y1="344.6" x2="414.96" y2="345.6" stroke="#555" stroke-width="0.6" />
<line x1="421.48" y1="344.6" x2="421.48" y2="346.4" stroke="#555" stroke-width="0.6" />
<line x1="428" y1="344.6" x2="428" y2="345.6" stroke="#555" stroke-width="0.6" />
<line x1="434.52" y1="344.6" x2="434.52" y2="346.4" stroke="#555" stroke-width="0.6" />
<line x1="441.04" y1="344.6" x2="441.04" y2="345.6" stroke="#555" stroke-width="0.6" />
<line x1="447.56" y1="344.6" x2="447.56" y2="346.4" stroke="#555" stroke-width="0.6" />
<line x1="454.08" y1="344.6" x2="454.08" y2="345.6" stroke="#555" stroke-width="0.6" />
<line x1="460.6" y1="344.6" x2="460.6" y2="346.4" stroke="#555" stroke-width="0.6" />
<line x1="467.12" y1="344.6" x2="467.12" y2="345.6" stroke="#555" stroke-width="0.6" />
<line x1="473.64" y1="344.6" x2="473.64" y2="346.4" stroke="#555" stroke-width="0.6" />
<line x1="480.16" y1="344.6" x2="480.16" y2="345.6" stroke="#555" stroke-width="0.6" />
<line x1="486.68" y1="344.6" x2="486.68" y2="346.4" stroke="#555" stroke-width="0.6" />
<line x1="493.2" y1="344.6" x2="493.2" y2="345.6" stroke="#555" stroke-width="0.6" />
<line x1="499.72" y1="344.6" x2="499.72" y2="346.4" stroke="#555" stroke-width="0.6" />
<line x1="506.24" y1="344.6" x2="506.24" y2="345.6" stroke="#555" stroke-width="0.6" />
<line x1="512.76" y1="344.6" x2="512.76" y2="346.4" stroke="#555" stroke-width="0.6" />
<line x1="519.28" y1="344.6" x2="519.28" y2="345.6" stroke="#555" stroke-width="0.6" />
<line x1="525.8" y1="344.6" x2="525.8" y2="346.4" stroke="#555" stroke-width="0.6" />
<text x="393.8" y="354.9" font-size="7.3" text-anchor="middle" font-weight="bold" fill="#222" stroke="#222" stroke-width="0.22" >−10</text>
<text x="406.84" y="354.9" font-size="7.3" text-anchor="middle" font-weight="bold" fill="#222" stroke="#222" stroke-width="0.22" >−8</text>
<text x="419.88" y="354.9" font-size="7.3" text-anchor="middle" font-weight="bold" fill="#222" stroke="#222" stroke-width="0.22" >−6</text>
<text x="432.92" y="354.9" font-size="7.3" text-anchor="middle" font-weight="bold" fill="#222" stroke="#222" stroke-width="0.22" >−4</text>
<text x="445.96" y="354.9" font-size="7.3" text-anchor="middle" font-weight="bold" fill="#222" stroke="#222" stroke-width="0.22" >−2</text>
<text x="460.6" y="354.9" font-size="7.3" text-anchor="middle" font-weight="bold" fill="#222" stroke="#222" stroke-width="0.22" >0</text>
<text x="473.64" y="354.9" font-size="7.3" text-anchor="middle" font-weight="bold" fill="#222" stroke="#222" stroke-width="0.22" >2</text>
<text x="486.68" y="354.9" font-size="7.3" text-anchor="middle" font-weight="bold" fill="#222" stroke="#222" stroke-width="0.22" >4</text>
<text x="499.72" y="354.9" font-size="7.3" text-anchor="middle" font-weight="bold" fill="#222" stroke="#222" stroke-width="0.22" >6</text>
<text x="512.76" y="354.9" font-size="7.3" text-anchor="middle" font-weight="bold" fill="#222" stroke="#222" stroke-width="0.22" >8</text>
<text x="525.8" y="354.9" font-size="7.3" text-anchor="middle" font-weight="bold" fill="#222" stroke="#222" stroke-width="0.22" >10</text>
<line x1="450.1" y1="236.9" x2="457.4" y2="236.9" stroke="#222" stroke-width="0.65" />
<line x1="466.6" y1="236.9" x2="476.2" y2="236.9" stroke="#222" stroke-width="0.65" />
<text x="478.6" y="240.5" font-size="9.2" text-anchor="start" font-weight="bold" fill="#111" stroke="#111" stroke-width="0.28" >138ns</text>
<text x="398.4" y="219.6" font-size="9.7" text-anchor="start" font-weight="bold" fill="#111" stroke="#111" stroke-width="0.29" >200 Hz</text>
<text x="398.4" y="231.5" font-size="9.7" text-anchor="start" font-weight="bold" fill="#111" stroke="#111" stroke-width="0.29" >50 kHz</text>
<text x="369.4" y="211.2" font-size="14" text-anchor="start" font-weight="bold" fill="#111" stroke="#111" stroke-width="0.42" >(f)</text>
<text x="460.8" y="369.5" font-size="12.2" text-anchor="middle" font-weight="bold" fill="#111" stroke="#111" stroke-width="0.37" >Time (ms)</text>
<text x="0" y="0" font-size="12.2" text-anchor="middle" font-weight="bold" fill="#111" stroke="#111" stroke-width="0.37" transform="translate(379.2,285.9) rotate(-90)">Intensity (a.u.)</text>
<line x1="50.4" y1="406.6" x2="52" y2="406.6" stroke="#555" stroke-width="0.6" />
<text x="49.8" y="408.5" font-size="5.6" text-anchor="end" font-weight="bold" fill="#222" stroke="#222" stroke-width="0.17" >0</text>
<line x1="50.4" y1="397.5" x2="52" y2="397.5" stroke="#555" stroke-width="0.6" />
<text x="49.8" y="399.4" font-size="5.6" text-anchor="end" font-weight="bold" fill="#222" stroke="#222" stroke-width="0.17" >15</text>
<line x1="50.4" y1="388.4" x2="52" y2="388.4" stroke="#555" stroke-width="0.6" />
<text x="49.8" y="390.3" font-size="5.6" text-anchor="end" font-weight="bold" fill="#222" stroke="#222" stroke-width="0.17" >30</text>
<polyline points="60.7,406.2 71.56,404.9 82.42,402.7 93.28,400.1 104.14,396.8 115,394.2 125.86,392.2 136.72,389.4 147.58,388.1" fill="none" stroke="#ff1a1a" stroke-width="1.2" stroke-linejoin="round" />
<circle cx="60.7" cy="406.2" r="1.5" fill="#ff1a1a"/>
<circle cx="71.56" cy="404.9" r="1.5" fill="#ff1a1a"/>
<circle cx="82.42" cy="402.7" r="1.5" fill="#ff1a1a"/>
<circle cx="93.28" cy="400.1" r="1.5" fill="#ff1a1a"/>
<circle cx="104.14" cy="396.8" r="1.5" fill="#ff1a1a"/>
<circle cx="115" cy="394.2" r="1.5" fill="#ff1a1a"/>
<circle cx="125.86" cy="392.2" r="1.5" fill="#ff1a1a"/>
<circle cx="136.72" cy="389.4" r="1.5" fill="#ff1a1a"/>
<circle cx="147.58" cy="388.1" r="1.5" fill="#ff1a1a"/>
<g transform="translate(54.6,394) scale(0.9,1)"><text x="0" y="0" font-size="7.7" text-anchor="start" font-weight="bold" fill="#111" stroke="#111" stroke-width="0.23" >100 Hz 20 kHz</text></g>
<line x1="50.4" y1="429.5" x2="52" y2="429.5" stroke="#555" stroke-width="0.6" />
<text x="49.8" y="431.4" font-size="5.6" text-anchor="end" font-weight="bold" fill="#222" stroke="#222" stroke-width="0.17" >0</text>
<line x1="50.4" y1="420.4" x2="52" y2="420.4" stroke="#555" stroke-width="0.6" />
<text x="49.8" y="422.3" font-size="5.6" text-anchor="end" font-weight="bold" fill="#222" stroke="#222" stroke-width="0.17" >15</text>
<line x1="50.4" y1="411.3" x2="52" y2="411.3" stroke="#555" stroke-width="0.6" />
<text x="49.8" y="413.2" font-size="5.6" text-anchor="end" font-weight="bold" fill="#222" stroke="#222" stroke-width="0.17" >30</text>
<polyline points="60.7,429.1 71.56,427.4 82.42,425.6 93.28,423 104.14,420.2 115,417.5 125.86,415.4 136.72,412.7 147.58,410.3" fill="none" stroke="#ff1a1a" stroke-width="1.2" stroke-linejoin="round" />
<circle cx="60.7" cy="429.1" r="1.5" fill="#ff1a1a"/>
<circle cx="71.56" cy="427.4" r="1.5" fill="#ff1a1a"/>
<circle cx="82.42" cy="425.6" r="1.5" fill="#ff1a1a"/>
<circle cx="93.28" cy="423" r="1.5" fill="#ff1a1a"/>
<circle cx="104.14" cy="420.2" r="1.5" fill="#ff1a1a"/>
<circle cx="115" cy="417.5" r="1.5" fill="#ff1a1a"/>
<circle cx="125.86" cy="415.4" r="1.5" fill="#ff1a1a"/>
<circle cx="136.72" cy="412.7" r="1.5" fill="#ff1a1a"/>
<circle cx="147.58" cy="410.3" r="1.5" fill="#ff1a1a"/>
<g transform="translate(54.6,417) scale(0.9,1)"><text x="0" y="0" font-size="7.7" text-anchor="start" font-weight="bold" fill="#111" stroke="#111" stroke-width="0.23" >100 Hz 40 kHz</text></g>
<line x1="50.4" y1="452.4" x2="52" y2="452.4" stroke="#555" stroke-width="0.6" />
<text x="49.8" y="454.3" font-size="5.6" text-anchor="end" font-weight="bold" fill="#222" stroke="#222" stroke-width="0.17" >0</text>
<line x1="50.4" y1="443.3" x2="52" y2="443.3" stroke="#555" stroke-width="0.6" />
<text x="49.8" y="445.2" font-size="5.6" text-anchor="end" font-weight="bold" fill="#222" stroke="#222" stroke-width="0.17" >15</text>
<line x1="50.4" y1="434.2" x2="52" y2="434.2" stroke="#555" stroke-width="0.6" />
<text x="49.8" y="436.1" font-size="5.6" text-anchor="end" font-weight="bold" fill="#222" stroke="#222" stroke-width="0.17" >30</text>
<polyline points="60.7,452 71.56,450.7 82.42,448.5 93.28,445.9 104.14,442.6 115,440 125.86,438.3 136.72,436.1 147.58,433.3" fill="none" stroke="#ff1a1a" stroke-width="1.2" stroke-linejoin="round" />
<circle cx="60.7" cy="452" r="1.5" fill="#ff1a1a"/>
<circle cx="71.56" cy="450.7" r="1.5" fill="#ff1a1a"/>
<circle cx="82.42" cy="448.5" r="1.5" fill="#ff1a1a"/>
<circle cx="93.28" cy="445.9" r="1.5" fill="#ff1a1a"/>
<circle cx="104.14" cy="442.6" r="1.5" fill="#ff1a1a"/>
<circle cx="115" cy="440" r="1.5" fill="#ff1a1a"/>
<circle cx="125.86" cy="438.3" r="1.5" fill="#ff1a1a"/>
<circle cx="136.72" cy="436.1" r="1.5" fill="#ff1a1a"/>
<circle cx="147.58" cy="433.3" r="1.5" fill="#ff1a1a"/>
<g transform="translate(54.6,439.9) scale(0.9,1)"><text x="0" y="0" font-size="7.7" text-anchor="start" font-weight="bold" fill="#111" stroke="#111" stroke-width="0.23" >100 Hz 50 kHz</text></g>
<line x1="50.4" y1="475.3" x2="52" y2="475.3" stroke="#555" stroke-width="0.6" />
<text x="49.8" y="477.2" font-size="5.6" text-anchor="end" font-weight="bold" fill="#222" stroke="#222" stroke-width="0.17" >0</text>
<line x1="50.4" y1="466.2" x2="52" y2="466.2" stroke="#555" stroke-width="0.6" />
<text x="49.8" y="468.1" font-size="5.6" text-anchor="end" font-weight="bold" fill="#222" stroke="#222" stroke-width="0.17" >15</text>
<line x1="50.4" y1="457.1" x2="52" y2="457.1" stroke="#555" stroke-width="0.6" />
<text x="49.8" y="459" font-size="5.6" text-anchor="end" font-weight="bold" fill="#222" stroke="#222" stroke-width="0.17" >30</text>
<polyline points="60.7,474.9 71.56,472.7 82.42,471.2 93.28,468.6 104.14,465.5 115,463.3 125.86,460.9 136.72,458.5 147.58,456.8" fill="none" stroke="#111" stroke-width="1.2" stroke-linejoin="round" />
<circle cx="60.7" cy="474.9" r="1.5" fill="#111"/>
<circle cx="71.56" cy="472.7" r="1.5" fill="#111"/>
<circle cx="82.42" cy="471.2" r="1.5" fill="#111"/>
<circle cx="93.28" cy="468.6" r="1.5" fill="#111"/>
<circle cx="104.14" cy="465.5" r="1.5" fill="#111"/>
<circle cx="115" cy="463.3" r="1.5" fill="#111"/>
<circle cx="125.86" cy="460.9" r="1.5" fill="#111"/>
<circle cx="136.72" cy="458.5" r="1.5" fill="#111"/>
<circle cx="147.58" cy="456.8" r="1.5" fill="#111"/>
<g transform="translate(54.6,462.8) scale(0.9,1)"><text x="0" y="0" font-size="7.7" text-anchor="start" font-weight="bold" fill="#111" stroke="#111" stroke-width="0.23" >200 Hz 20 kHz</text></g>
<line x1="50.4" y1="498.2" x2="52" y2="498.2" stroke="#555" stroke-width="0.6" />
<text x="49.8" y="500.1" font-size="5.6" text-anchor="end" font-weight="bold" fill="#222" stroke="#222" stroke-width="0.17" >0</text>
<line x1="50.4" y1="489.1" x2="52" y2="489.1" stroke="#555" stroke-width="0.6" />
<text x="49.8" y="491" font-size="5.6" text-anchor="end" font-weight="bold" fill="#222" stroke="#222" stroke-width="0.17" >15</text>
<line x1="50.4" y1="480" x2="52" y2="480" stroke="#555" stroke-width="0.6" />
<text x="49.8" y="481.9" font-size="5.6" text-anchor="end" font-weight="bold" fill="#222" stroke="#222" stroke-width="0.17" >30</text>
<polyline points="60.7,497.4 71.56,495.6 82.42,494.1 93.28,491.7 104.14,488.6 115,485.4 125.86,483.6 136.72,481.4 147.58,478.8" fill="none" stroke="#111" stroke-width="1.2" stroke-linejoin="round" />
<circle cx="60.7" cy="497.4" r="1.5" fill="#111"/>
<circle cx="71.56" cy="495.6" r="1.5" fill="#111"/>
<circle cx="82.42" cy="494.1" r="1.5" fill="#111"/>
<circle cx="93.28" cy="491.7" r="1.5" fill="#111"/>
<circle cx="104.14" cy="488.6" r="1.5" fill="#111"/>
<circle cx="115" cy="485.4" r="1.5" fill="#111"/>
<circle cx="125.86" cy="483.6" r="1.5" fill="#111"/>
<circle cx="136.72" cy="481.4" r="1.5" fill="#111"/>
<circle cx="147.58" cy="478.8" r="1.5" fill="#111"/>
<g transform="translate(54.6,485.7) scale(0.9,1)"><text x="0" y="0" font-size="7.7" text-anchor="start" font-weight="bold" fill="#111" stroke="#111" stroke-width="0.23" >200 Hz 40 kHz</text></g>
<line x1="50.4" y1="521.1" x2="52" y2="521.1" stroke="#555" stroke-width="0.6" />
<text x="49.8" y="523" font-size="5.6" text-anchor="end" font-weight="bold" fill="#222" stroke="#222" stroke-width="0.17" >0</text>
<line x1="50.4" y1="512" x2="52" y2="512" stroke="#555" stroke-width="0.6" />
<text x="49.8" y="513.9" font-size="5.6" text-anchor="end" font-weight="bold" fill="#222" stroke="#222" stroke-width="0.17" >15</text>
<line x1="50.4" y1="502.9" x2="52" y2="502.9" stroke="#555" stroke-width="0.6" />
<text x="49.8" y="504.8" font-size="5.6" text-anchor="end" font-weight="bold" fill="#222" stroke="#222" stroke-width="0.17" >30</text>
<polyline points="60.7,520.3 71.56,518.1 82.42,517 93.28,514.2 104.14,511.3 115,508.3 125.86,506.1 136.72,503.9 147.58,501.7" fill="none" stroke="#111" stroke-width="1.2" stroke-linejoin="round" />
<circle cx="60.7" cy="520.3" r="1.5" fill="#111"/>
<circle cx="71.56" cy="518.1" r="1.5" fill="#111"/>
<circle cx="82.42" cy="517" r="1.5" fill="#111"/>
<circle cx="93.28" cy="514.2" r="1.5" fill="#111"/>
<circle cx="104.14" cy="511.3" r="1.5" fill="#111"/>
<circle cx="115" cy="508.3" r="1.5" fill="#111"/>
<circle cx="125.86" cy="506.1" r="1.5" fill="#111"/>
<circle cx="136.72" cy="503.9" r="1.5" fill="#111"/>
<circle cx="147.58" cy="501.7" r="1.5" fill="#111"/>
<g transform="translate(54.6,508.6) scale(0.9,1)"><text x="0" y="0" font-size="7.7" text-anchor="start" font-weight="bold" fill="#111" stroke="#111" stroke-width="0.23" >200 Hz 40 kHz</text></g>
<line x1="52" y1="408.2" x2="154.9" y2="408.2" stroke="#777" stroke-width="0.8" />
<line x1="52" y1="431.1" x2="154.9" y2="431.1" stroke="#777" stroke-width="0.8" />
<line x1="52" y1="454" x2="154.9" y2="454" stroke="#777" stroke-width="0.8" />
<line x1="52" y1="476.9" x2="154.9" y2="476.9" stroke="#777" stroke-width="0.8" />
<line x1="52" y1="499.8" x2="154.9" y2="499.8" stroke="#777" stroke-width="0.8" />
<rect x="52" y="385.2" width="102.9" height="137.5" fill="none" stroke="#777" stroke-width="1"/>
<line x1="61.3" y1="522.7" x2="61.3" y2="523.7" stroke="#555" stroke-width="0.6" />
<line x1="79.3" y1="522.7" x2="79.3" y2="524.3" stroke="#555" stroke-width="0.6" />
<line x1="97.3" y1="522.7" x2="97.3" y2="523.7" stroke="#555" stroke-width="0.6" />
<line x1="115.3" y1="522.7" x2="115.3" y2="524.3" stroke="#555" stroke-width="0.6" />
<line x1="133.3" y1="522.7" x2="133.3" y2="523.7" stroke="#555" stroke-width="0.6" />
<line x1="151.3" y1="522.7" x2="151.3" y2="524.3" stroke="#555" stroke-width="0.6" />
<text x="79.3" y="529.5" font-size="4.4" text-anchor="middle" font-weight="bold" fill="#444" stroke="#444" stroke-width="0.13" >400</text>
<text x="115.3" y="529.5" font-size="4.4" text-anchor="middle" font-weight="bold" fill="#444" stroke="#444" stroke-width="0.13" >600</text>
<text x="151.3" y="529.5" font-size="4.4" text-anchor="middle" font-weight="bold" fill="#444" stroke="#444" stroke-width="0.13" >800</text>
<text x="103.6" y="537.2" font-size="9.8" text-anchor="middle" font-weight="bold" fill="#111" stroke="#111" stroke-width="0.29" >Peak pump power (W)</text>
<text x="0" y="0" font-size="9.7" text-anchor="middle" font-weight="bold" fill="#111" stroke="#111" stroke-width="0.29" transform="translate(40.2,455.7) rotate(-90)">Burst Energy (mJ)</text>
<text x="21.3" y="392" font-size="14.5" text-anchor="start" font-weight="bold" fill="#111" stroke="#111" stroke-width="0.43" >(g)</text>
<polyline points="245.53,401.94 246.13,403.04 246.72,404.13 247.32,405.22 247.92,406.31 248.52,407.39 249.11,408.47 249.71,409.55 250.31,410.62 250.9,411.68 251.5,412.74 252.1,413.8 252.69,414.85 253.29,415.9 253.89,416.95 254.49,417.98 255.08,419.01 255.68,420.04 256.28,421.06 256.87,422.07 257.47,423.08 258.07,424.08 258.66,425.07 259.26,426.05 259.86,427.03 260.46,427.99 261.05,428.95 261.65,429.9 262.25,430.84 262.84,431.77 263.44,432.69 264.04,433.59 264.63,434.49 265.23,435.37 265.83,436.24 266.43,437.09 267.02,437.93 267.62,438.76 268.22,439.57 268.81,440.36 269.41,441.14 270.01,441.9 270.6,442.63 271.2,443.35 271.8,444.05 272.4,444.72 272.99,445.38 273.59,446 274.19,446.61 274.78,447.18 275.38,447.73 275.98,448.25 276.57,448.74 277.17,449.2 277.77,449.63 278.37,450.03 278.96,450.39 279.56,450.72 280.16,451.01 280.75,451.27 281.35,451.49 281.95,451.67 282.54,451.82 283.14,451.92 283.74,451.99 284.34,452.02 284.93,452.01 285.53,451.95 286.13,451.86 286.72,451.74 287.32,451.57 287.92,451.36 288.51,451.12 289.11,450.84 289.71,450.53 290.31,450.18 290.9,449.8 291.5,449.38 292.1,448.93 292.69,448.45 293.29,447.94 293.89,447.41 294.48,446.84 295.08,446.25 295.68,445.63 296.28,444.99 296.87,444.32 297.47,443.63 298.07,442.92 298.66,442.19 299.26,441.44 299.86,440.67 300.45,439.89 301.05,439.09 301.65,438.27 302.25,437.43 302.84,436.58 303.44,435.72 304.04,434.84 304.63,433.95 305.23,433.05 305.83,432.14 306.42,431.21 307.02,430.28 307.62,429.33 308.22,428.38 308.81,427.41 309.41,426.44 310.01,425.46 310.6,424.47 311.2,423.48 311.8,422.47 312.39,421.46 312.99,420.45 313.59,419.42 314.19,418.4 314.78,417.36 315.38,416.32 315.98,415.27 316.57,414.22 317.17,413.17 317.77,412.11 318.36,411.04 318.96,409.97 319.56,408.9 320.16,407.82 320.75,406.74 321.35,405.66 321.95,404.57 322.54,403.48 323.14,402.38 323.74,401.28" fill="none" stroke="#ff2020" stroke-width="1.9" stroke-linejoin="round" />
<polyline points="245.53,401.22 246.13,402.31 246.72,403.4 247.32,404.49 247.92,405.57 248.52,406.65 249.11,407.72 249.71,408.79 250.31,409.86 250.9,410.92 251.5,411.98 252.1,413.04 252.69,414.08 253.29,415.13 253.89,416.17 254.49,417.2 255.08,418.23 255.68,419.25 256.28,420.26 256.87,421.27 257.47,422.27 258.07,423.27 258.66,424.26 259.26,425.24 259.86,426.21 260.46,427.17 261.05,428.12 261.65,429.07 262.25,430 262.84,430.93 263.44,431.84 264.04,432.74 264.63,433.63 265.23,434.51 265.83,435.37 266.43,436.23 267.02,437.06 267.62,437.88 268.22,438.69 268.81,439.48 269.41,440.25 270.01,441 270.6,441.74 271.2,442.45 271.8,443.14 272.4,443.81 272.99,444.46 273.59,445.08 274.19,445.68 274.78,446.25 275.38,446.8 275.98,447.32 276.57,447.8 277.17,448.26 277.77,448.69 278.37,449.08 278.96,449.44 279.56,449.77 280.16,450.06 280.75,450.31 281.35,450.53 281.95,450.71 282.54,450.85 283.14,450.96 283.74,451.02 284.34,451.05 284.93,451.04 285.53,450.99 286.13,450.9 286.72,450.77 287.32,450.61 287.92,450.4 288.51,450.16 289.11,449.89 289.71,449.58 290.31,449.23 290.9,448.85 291.5,448.44 292.1,447.99 292.69,447.52 293.29,447.01 293.89,446.48 294.48,445.91 295.08,445.33 295.68,444.71 296.28,444.07 296.87,443.41 297.47,442.73 298.07,442.02 298.66,441.3 299.26,440.55 299.86,439.79 300.45,439.01 301.05,438.21 301.65,437.39 302.25,436.56 302.84,435.72 303.44,434.86 304.04,433.99 304.63,433.1 305.23,432.2 305.83,431.29 306.42,430.37 307.02,429.44 307.62,428.5 308.22,427.55 308.81,426.59 309.41,425.63 310.01,424.65 310.6,423.67 311.2,422.67 311.8,421.67 312.39,420.67 312.99,419.66 313.59,418.64 314.19,417.61 314.78,416.58 315.38,415.54 315.98,414.5 316.57,413.46 317.17,412.4 317.77,411.35 318.36,410.29 318.96,409.22 319.56,408.15 320.16,407.08 320.75,406 321.35,404.92 321.95,403.84 322.54,402.75 323.14,401.66 323.74,400.56" fill="none" stroke="#111" stroke-width="1.3" stroke-linejoin="round" />
<rect x="318.12" y="407.06" width="1.2" height="1.2" fill="#222"/>
<rect x="319.91" y="404.57" width="1.2" height="1.2" fill="#222"/>
<rect x="321.7" y="401.75" width="1.2" height="1.2" fill="#222"/>
<rect x="322.9" y="398.76" width="1.2" height="1.2" fill="#222"/>
<rect x="323.5" y="397.43" width="1.2" height="1.2" fill="#222"/>
<polyline points="240.16,473.51 240.75,474.48 241.35,475.45 241.95,476.41 242.55,477.37 243.14,478.33 243.74,479.28 244.34,480.23 244.93,481.17 245.53,482.1 246.13,483.03 246.72,483.96 247.32,484.88 247.92,485.79 248.52,486.7 249.11,487.6 249.71,488.5 250.31,489.39 250.9,490.27 251.5,491.14 252.1,492.01 252.69,492.87 253.29,493.72 253.89,494.57 254.49,495.4 255.08,496.23 255.68,497.04 256.28,497.85 256.87,498.65 257.47,499.44 258.07,500.22 258.66,500.98 259.26,501.74 259.86,502.49 260.46,503.22 261.05,503.94 261.65,504.65 262.25,505.34 262.84,506.02 263.44,506.69 264.04,507.34 264.63,507.98 265.23,508.6 265.83,509.21 266.43,509.8 267.02,510.37 267.62,510.92 268.22,511.46 268.81,511.98 269.41,512.48 270.01,512.96 270.6,513.42 271.2,513.86 271.8,514.28 272.4,514.68 272.99,515.05 273.59,515.41 274.19,515.74 274.78,516.04 275.38,516.33 275.98,516.58 276.57,516.82 277.17,517.03 277.77,517.21 278.37,517.37 278.96,517.5 279.56,517.61 280.16,517.69 280.75,517.75 281.35,517.78 281.95,517.78 282.54,517.76 283.14,517.71 283.74,517.63 284.34,517.53 284.93,517.4 285.53,517.25 286.13,517.07 286.72,516.86 287.32,516.63 287.92,516.38 288.51,516.1 289.11,515.8 289.71,515.47 290.31,515.13 290.9,514.75 291.5,514.36 292.1,513.95 292.69,513.51 293.29,513.05 293.89,512.58 294.48,512.08 295.08,511.57 295.68,511.03 296.28,510.48 296.87,509.91 297.47,509.33 298.07,508.72 298.66,508.1 299.26,507.47 299.86,506.82 300.45,506.16 301.05,505.48 301.65,504.79 302.25,504.08 302.84,503.36 303.44,502.63 304.04,501.89 304.63,501.14 305.23,500.37 305.83,499.6 306.42,498.81 307.02,498.01 307.62,497.21 308.22,496.39 308.81,495.57 309.41,494.73 310.01,493.89 310.6,493.04 311.2,492.18 311.8,491.32 312.39,490.44 312.99,489.56 313.59,488.68 314.19,487.78 314.78,486.88 315.38,485.98 315.98,485.06 316.57,484.14 317.17,483.22 317.77,482.29 318.36,481.35 318.96,480.41 319.56,479.47 320.16,478.52 320.75,477.56 321.35,476.6 321.95,475.64 322.54,474.67 323.14,473.7 323.74,472.72 324.33,471.74 324.93,470.76 325.53,469.77" fill="none" stroke="#ff2020" stroke-width="2.3" stroke-linejoin="round" />
<polyline points="258.66,499.66 259.26,500.35 259.86,501.03 260.46,501.7 261.05,502.36 261.65,503 262.25,503.64 262.84,504.26 263.44,504.87 264.04,505.46 264.63,506.05 265.23,506.62 265.83,507.17 266.43,507.72 267.02,508.24 267.62,508.76 268.22,509.25 268.81,509.73 269.41,510.2 270.01,510.65 270.6,511.08 271.2,511.49 271.8,511.89 272.4,512.27 272.99,512.63 273.59,512.97 274.19,513.29 274.78,513.59 275.38,513.87 275.98,514.13 276.57,514.37 277.17,514.59 277.77,514.79 278.37,514.97 278.96,515.13 279.56,515.26 280.16,515.38 280.75,515.47 281.35,515.54 281.95,515.58 282.54,515.61 283.14,515.61 283.74,515.59 284.34,515.55 284.93,515.48 285.53,515.4 286.13,515.29 286.72,515.16 287.32,515 287.92,514.83 288.51,514.64 289.11,514.42 289.71,514.18 290.31,513.92 290.9,513.65 291.5,513.35 292.1,513.03 292.69,512.7 293.29,512.34 293.89,511.97 294.48,511.57 295.08,511.16 295.68,510.73 296.28,510.29 296.87,509.83 297.47,509.35 298.07,508.86 298.66,508.35 299.26,507.82 299.86,507.28 300.45,506.73 301.05,506.16 301.65,505.58 302.25,504.99 302.84,504.38 303.44,503.76 304.04,503.13 304.63,502.49 305.23,501.83 305.83,501.17 306.42,500.49 307.02,499.8 307.62,499.1 308.22,498.4 308.81,497.68 309.41,496.95 310.01,496.22 310.6,495.48 311.2,494.72 311.8,493.96" fill="none" stroke="#111" stroke-width="1.1" stroke-linejoin="round" />
<rect x="240.05" y="476.83" width="1.4" height="1.4" fill="#222"/>
<rect x="241.97" y="479.67" width="1.4" height="1.4" fill="#222"/>
<rect x="243.88" y="482.45" width="1.4" height="1.4" fill="#222"/>
<rect x="245.79" y="485.19" width="1.4" height="1.4" fill="#222"/>
<rect x="247.7" y="487.87" width="1.4" height="1.4" fill="#222"/>
<rect x="249.61" y="490.49" width="1.4" height="1.4" fill="#222"/>
<rect x="251.52" y="493.05" width="1.4" height="1.4" fill="#222"/>
<rect x="253.43" y="495.53" width="1.4" height="1.4" fill="#222"/>
<rect x="255.34" y="497.93" width="1.4" height="1.4" fill="#222"/>
<rect x="257.25" y="500.23" width="1.4" height="1.4" fill="#222"/>
<rect x="312.65" y="490.95" width="1.4" height="1.4" fill="#222"/>
<rect x="314.56" y="488.4" width="1.4" height="1.4" fill="#222"/>
<rect x="316.47" y="485.79" width="1.4" height="1.4" fill="#222"/>
<rect x="318.38" y="483.12" width="1.4" height="1.4" fill="#222"/>
<rect x="320.29" y="480.39" width="1.4" height="1.4" fill="#222"/>
<rect x="325.65" y="460.87" width="1.2" height="1.2" fill="#ff3030"/>
<rect x="325.88" y="463.59" width="1.2" height="1.2" fill="#ff3030"/>
<rect x="325.29" y="465.85" width="1.2" height="1.2" fill="#ff3030"/>
<rect x="324.45" y="467.36" width="1.2" height="1.2" fill="#ff3030"/>
<rect x="322.9" y="471.13" width="1.2" height="1.2" fill="#ff3030"/>
<rect x="236.1" y="434.7" width="23.7" height="21.7" fill="#050505"/>
<circle cx="247.8" cy="445.7" r="4.6" fill="#1a3cff" opacity="0.85"/>
<circle cx="247.8" cy="445.7" r="3.6" fill="#22d0e0"/>
<circle cx="247.8" cy="445.7" r="2.9" fill="#a8f040"/>
<circle cx="247.8" cy="445.7" r="2.2" fill="#ffd000"/>
<circle cx="247.8" cy="445.7" r="1.4" fill="#ff3a00"/>
<rect x="236.1" y="502.2" width="23.7" height="21.6" fill="#050505"/>
<circle cx="247.1" cy="512.4" r="4.6" fill="#1a3cff" opacity="0.85"/>
<circle cx="247.1" cy="512.4" r="3.6" fill="#22d0e0"/>
<circle cx="247.1" cy="512.4" r="2.9" fill="#a8f040"/>
<circle cx="247.1" cy="512.4" r="2.2" fill="#ffd000"/>
<circle cx="247.1" cy="512.4" r="1.4" fill="#ff3a00"/>
<line x1="235.6" y1="456.4" x2="331.8" y2="456.4" stroke="#777" stroke-width="0.8" />
<rect x="235.6" y="388.9" width="96.2" height="134.9" fill="none" stroke="#777" stroke-width="1"/>
<line x1="234.1" y1="455.8" x2="235.6" y2="455.8" stroke="#555" stroke-width="0.6" />
<text x="233.6" y="457.6" font-size="5.3" text-anchor="end" font-weight="bold" fill="#333" stroke="#333" stroke-width="0.16" >200</text>
<line x1="234.1" y1="439.2" x2="235.6" y2="439.2" stroke="#555" stroke-width="0.6" />
<text x="233.6" y="441" font-size="5.3" text-anchor="end" font-weight="bold" fill="#333" stroke="#333" stroke-width="0.16" >300</text>
<line x1="234.1" y1="422.6" x2="235.6" y2="422.6" stroke="#555" stroke-width="0.6" />
<text x="233.6" y="424.4" font-size="5.3" text-anchor="end" font-weight="bold" fill="#333" stroke="#333" stroke-width="0.16" >400</text>
<line x1="234.1" y1="406" x2="235.6" y2="406" stroke="#555" stroke-width="0.6" />
<text x="233.6" y="407.8" font-size="5.3" text-anchor="end" font-weight="bold" fill="#333" stroke="#333" stroke-width="0.16" >500</text>
<line x1="234.1" y1="389.4" x2="235.6" y2="389.4" stroke="#555" stroke-width="0.6" />
<text x="233.6" y="391.2" font-size="5.3" text-anchor="end" font-weight="bold" fill="#333" stroke="#333" stroke-width="0.16" >600</text>
<line x1="234.1" y1="523" x2="235.6" y2="523" stroke="#555" stroke-width="0.6" />
<text x="233.6" y="524.8" font-size="5.3" text-anchor="end" font-weight="bold" fill="#333" stroke="#333" stroke-width="0.16" >300</text>
<line x1="234.1" y1="507.92" x2="235.6" y2="507.92" stroke="#555" stroke-width="0.6" />
<text x="233.6" y="509.72" font-size="5.3" text-anchor="end" font-weight="bold" fill="#333" stroke="#333" stroke-width="0.16" >400</text>
<line x1="234.1" y1="492.84" x2="235.6" y2="492.84" stroke="#555" stroke-width="0.6" />
<text x="233.6" y="494.64" font-size="5.3" text-anchor="end" font-weight="bold" fill="#333" stroke="#333" stroke-width="0.16" >500</text>
<line x1="234.1" y1="477.76" x2="235.6" y2="477.76" stroke="#555" stroke-width="0.6" />
<text x="233.6" y="479.56" font-size="5.3" text-anchor="end" font-weight="bold" fill="#333" stroke="#333" stroke-width="0.16" >600</text>
<line x1="234.1" y1="462.68" x2="235.6" y2="462.68" stroke="#555" stroke-width="0.6" />
<text x="233.6" y="464.48" font-size="5.3" text-anchor="end" font-weight="bold" fill="#333" stroke="#333" stroke-width="0.16" >700</text>
<line x1="235.74" y1="523.8" x2="235.74" y2="525.4" stroke="#555" stroke-width="0.6" />
<text x="235.74" y="530.3" font-size="4.4" text-anchor="middle" font-weight="bold" fill="#444" stroke="#444" stroke-width="0.13" >−40</text>
<line x1="259.62" y1="523.8" x2="259.62" y2="525.4" stroke="#555" stroke-width="0.6" />
<text x="259.62" y="530.3" font-size="4.4" text-anchor="middle" font-weight="bold" fill="#444" stroke="#444" stroke-width="0.13" >−20</text>
<line x1="283.5" y1="523.8" x2="283.5" y2="525.4" stroke="#555" stroke-width="0.6" />
<text x="283.5" y="530.3" font-size="4.4" text-anchor="middle" font-weight="bold" fill="#444" stroke="#444" stroke-width="0.13" >0</text>
<line x1="307.38" y1="523.8" x2="307.38" y2="525.4" stroke="#555" stroke-width="0.6" />
<text x="307.38" y="530.3" font-size="4.4" text-anchor="middle" font-weight="bold" fill="#444" stroke="#444" stroke-width="0.13" >20</text>
<line x1="331.26" y1="523.8" x2="331.26" y2="525.4" stroke="#555" stroke-width="0.6" />
<text x="331.26" y="530.3" font-size="4.4" text-anchor="middle" font-weight="bold" fill="#444" stroke="#444" stroke-width="0.13" >40</text>
<text x="238.5" y="399.1" font-size="8.8" text-anchor="start" font-weight="bold" fill="#111" stroke="#111" stroke-width="0.26" >100 Hz</text>
<text x="239" y="467.8" font-size="8.8" text-anchor="start" font-weight="bold" fill="#111" stroke="#111" stroke-width="0.26" >200 Hz</text>
<text x="312.6" y="443.3" font-size="4.3" font-weight="bold" fill="#222">M<tspan font-size="3" dy="1">x</tspan><tspan font-size="3" dy="-2.6">2</tspan><tspan dy="1.6">=2.49</tspan></text>
<text x="312.6" y="450.2" font-size="4.3" font-weight="bold" fill="#222">M<tspan font-size="3" dy="1">y</tspan><tspan font-size="3" dy="-2.6">2</tspan><tspan dy="1.6">=2.48</tspan></text>
<text x="312" y="512.1" font-size="4.3" font-weight="bold" fill="#222">M<tspan font-size="3" dy="1">x</tspan><tspan font-size="3" dy="-2.6">2</tspan><tspan dy="1.6">=3.81</tspan></text>
<text x="312" y="518.9" font-size="4.3" font-weight="bold" fill="#222">M<tspan font-size="3" dy="1">y</tspan><tspan font-size="3" dy="-2.6">2</tspan><tspan dy="1.6">=3.90</tspan></text>
<text x="284.2" y="537.9" font-size="8.8" text-anchor="middle" font-weight="bold" fill="#111" stroke="#111" stroke-width="0.26" >Distance (mm)</text>
<text x="0" y="0" font-size="9.2" text-anchor="middle" font-weight="bold" fill="#111" stroke="#111" stroke-width="0.28" transform="translate(223.3,462.4) rotate(-90)">Beam diameter (μm)</text>
<text x="198.3" y="391.5" font-size="14" text-anchor="start" font-weight="bold" fill="#111" stroke="#111" stroke-width="0.42" >(h)</text>
<line x1="390.5" y1="509.8" x2="455.8" y2="436.07" stroke="#cfcfcf" stroke-width="0.45" />
<line x1="390.5" y1="503.2" x2="455.8" y2="431.54" stroke="#cfcfcf" stroke-width="0.45" />
<line x1="390.5" y1="496.6" x2="455.8" y2="427.01" stroke="#cfcfcf" stroke-width="0.45" />
<line x1="390.5" y1="490" x2="455.8" y2="422.48" stroke="#cfcfcf" stroke-width="0.45" />
<line x1="390.5" y1="483.4" x2="455.8" y2="417.95" stroke="#cfcfcf" stroke-width="0.45" />
<line x1="390.5" y1="476.8" x2="455.8" y2="413.42" stroke="#cfcfcf" stroke-width="0.45" />
<line x1="390.5" y1="470.2" x2="455.8" y2="408.89" stroke="#cfcfcf" stroke-width="0.45" />
<line x1="390.5" y1="463.6" x2="455.8" y2="404.36" stroke="#cfcfcf" stroke-width="0.45" />
<line x1="390.5" y1="457" x2="455.8" y2="399.83" stroke="#cfcfcf" stroke-width="0.45" />
<line x1="401.38" y1="503.77" x2="401.38" y2="441.22" stroke="#cfcfcf" stroke-width="0.45" />
<line x1="412.27" y1="491.13" x2="412.27" y2="432.03" stroke="#cfcfcf" stroke-width="0.45" />
<line x1="423.15" y1="478.5" x2="423.15" y2="422.85" stroke="#cfcfcf" stroke-width="0.45" />
<line x1="434.03" y1="465.87" x2="434.03" y2="413.67" stroke="#cfcfcf" stroke-width="0.45" />
<line x1="444.92" y1="453.23" x2="444.92" y2="404.48" stroke="#cfcfcf" stroke-width="0.45" />
<line x1="390.5" y1="516.4" x2="455.8" y2="440.6" stroke="#bbb" stroke-width="0.6" />
<line x1="470.73" y1="395.3" x2="470.73" y2="440.6" stroke="#cfcfcf" stroke-width="0.45" />
<line x1="485.65" y1="395.3" x2="485.65" y2="440.6" stroke="#cfcfcf" stroke-width="0.45" />
<line x1="500.57" y1="395.3" x2="500.57" y2="440.6" stroke="#cfcfcf" stroke-width="0.45" />
<line x1="455.8" y1="402.85" x2="515.5" y2="402.85" stroke="#cfcfcf" stroke-width="0.45" />
<line x1="455.8" y1="410.4" x2="515.5" y2="410.4" stroke="#cfcfcf" stroke-width="0.45" />
<line x1="455.8" y1="417.95" x2="515.5" y2="417.95" stroke="#cfcfcf" stroke-width="0.45" />
<line x1="455.8" y1="425.5" x2="515.5" y2="425.5" stroke="#cfcfcf" stroke-width="0.45" />
<line x1="455.8" y1="433.05" x2="515.5" y2="433.05" stroke="#cfcfcf" stroke-width="0.45" />
<line x1="455.8" y1="395.3" x2="455.8" y2="440.6" stroke="#aaa" stroke-width="0.6" />
<line x1="455.8" y1="440.6" x2="515.5" y2="440.6" stroke="#aaa" stroke-width="0.6" />
<line x1="407" y1="516.4" x2="467" y2="440.6" stroke="#d4d4d4" stroke-width="0.45" />
<line x1="435.2" y1="516.4" x2="485.5" y2="440.6" stroke="#d4d4d4" stroke-width="0.45" />
<line x1="459.8" y1="516.4" x2="502" y2="440.6" stroke="#d4d4d4" stroke-width="0.45" />
<polygon points="452.53,444.37 453.03,444.44 453.53,444.7 454.03,444.38 454.53,444.41 455.03,444.46 455.53,444.18 456.03,444.41 456.53,444.49 457.03,444.61 457.53,444.12 458.03,444.26 458.53,444.11 459.03,444.62 459.53,444.54 460.03,444.08 460.53,444.74 461.04,444.73 461.54,444.51 462.04,444.48 462.54,444.16 463.04,444.06 463.54,444.42 464.04,444.09 464.54,444.18 465.04,444.22 465.54,444.07 466.04,444.37 466.54,444.36 467.04,444.64 467.54,444.41 468.04,444.5 468.54,444.4 469.04,444.51 469.54,444.37 470.04,444.24 470.55,444.75 471.05,444.75 471.55,444.64 472.05,444.55 472.55,444.27 473.05,444.21 473.55,444.25 474.05,444.1 474.55,444.59 475.05,444.32 475.55,444.59 476.05,444 476.55,443.36 477.05,440.5 477.55,434.55 478.05,427.02 478.55,419.15 479.05,410.79 479.55,407.03 480.06,406.17 480.56,405.31 481.06,404.08 481.56,404.61 482.06,407.95 482.56,412.71 483.06,418.94 483.56,427.74 484.06,435.23 484.56,440.08 485.06,442.9 485.56,443.81 486.06,444.04 486.56,444.6 487.06,444.17 487.56,444.44 488.06,444.36 488.56,444.18 489.06,444.56 489.56,444.14 490.07,444.5 490.57,444.13 491.07,444.34 491.57,444.2 492.07,444.24 492.57,444.73 493.07,444.61 493.57,444.26 494.07,444.67 494.57,444.2 495.07,444.33 495.57,444.65 496.07,444.5 496.57,444.12 497.07,444.74 497.57,444.2 498.07,444.23 498.57,444.59 499.07,444.28 499.58,444.26 500.08,444.1 500.58,444.11 501.08,444.46 501.58,444.22 502.08,444.47 502.58,444.31 503.08,444.37 503.58,444.72 504.08,444.39 504.58,444.45 505.08,444.66 505.58,444.18 506.08,444.16 506.58,444.69 507.08,444.62 507.58,444.22 508.08,444.18 508.58,444.57 509.09,444.71 509.59,444.19 510.09,444.72 510.59,444.67 511.09,444.47 511.59,444.35 512.09,444.12 512.59,444.08 513.09,444.72 513.59,444.22 513.59,444.9 452.53,444.9" fill="#fff" stroke="none"/>
<polyline points="452.53,444.37 453.03,444.44 453.53,444.7 454.03,444.38 454.53,444.41 455.03,444.46 455.53,444.18 456.03,444.41 456.53,444.49 457.03,444.61 457.53,444.12 458.03,444.26 458.53,444.11 459.03,444.62 459.53,444.54 460.03,444.08 460.53,444.74 461.04,444.73 461.54,444.51 462.04,444.48 462.54,444.16 463.04,444.06 463.54,444.42 464.04,444.09 464.54,444.18 465.04,444.22 465.54,444.07 466.04,444.37 466.54,444.36 467.04,444.64 467.54,444.41 468.04,444.5 468.54,444.4 469.04,444.51 469.54,444.37 470.04,444.24 470.55,444.75 471.05,444.75 471.55,444.64 472.05,444.55 472.55,444.27 473.05,444.21 473.55,444.25 474.05,444.1 474.55,444.59 475.05,444.32 475.55,444.59 476.05,444 476.55,443.36 477.05,440.5 477.55,434.55 478.05,427.02 478.55,419.15 479.05,410.79 479.55,407.03 480.06,406.17 480.56,405.31 481.06,404.08 481.56,404.61 482.06,407.95 482.56,412.71 483.06,418.94 483.56,427.74 484.06,435.23 484.56,440.08 485.06,442.9 485.56,443.81 486.06,444.04 486.56,444.6 487.06,444.17 487.56,444.44 488.06,444.36 488.56,444.18 489.06,444.56 489.56,444.14 490.07,444.5 490.57,444.13 491.07,444.34 491.57,444.2 492.07,444.24 492.57,444.73 493.07,444.61 493.57,444.26 494.07,444.67 494.57,444.2 495.07,444.33 495.57,444.65 496.07,444.5 496.57,444.12 497.07,444.74 497.57,444.2 498.07,444.23 498.57,444.59 499.07,444.28 499.58,444.26 500.08,444.1 500.58,444.11 501.08,444.46 501.58,444.22 502.08,444.47 502.58,444.31 503.08,444.37 503.58,444.72 504.08,444.39 504.58,444.45 505.08,444.66 505.58,444.18 506.08,444.16 506.58,444.69 507.08,444.62 507.58,444.22 508.08,444.18 508.58,444.57 509.09,444.71 509.59,444.19 510.09,444.72 510.59,444.67 511.09,444.47 511.59,444.35 512.09,444.12 512.59,444.08 513.09,444.72 513.59,444.22" fill="none" stroke="#a040e0" stroke-width="1.3" stroke-linejoin="round" />
<polygon points="444,454.44 444.5,454.13 445,454.53 445.5,454.37 446,454.16 446.5,454.07 447,454.45 447.5,454 448,454.11 448.51,454.34 449.01,454.55 449.51,454.38 450.01,454.15 450.51,454.59 451.01,454.09 451.51,453.96 452.01,454.14 452.51,454.26 453.01,453.99 453.51,454.07 454.02,454.21 454.52,454.35 455.02,454.04 455.52,454.2 456.02,454.57 456.52,454.64 457.02,454.41 457.52,454.43 458.02,454.36 458.52,454.05 459.02,453.97 459.53,453.96 460.03,454.59 460.53,454.44 461.03,454.62 461.53,453.96 462.03,454.4 462.53,454.29 463.03,454.46 463.53,454.17 464.03,454.65 464.53,454 465.04,454.33 465.54,454.47 466.04,454.58 466.54,454.47 467.04,454.44 467.54,454.46 468.04,454.34 468.54,453.13 469.04,451.11 469.54,446.67 470.04,439.52 470.55,430.58 471.05,422.29 471.55,415.05 472.05,412.34 472.55,412.25 473.05,411.06 473.55,409.61 474.05,410.49 474.55,414.1 475.05,419.57 475.55,425.88 476.06,434.43 476.56,442.55 477.06,448.47 477.56,452.29 478.06,453.73 478.56,454.13 479.06,454.52 479.56,454.01 480.06,454.48 480.56,453.97 481.06,454.37 481.57,454.29 482.07,454.11 482.57,454.44 483.07,454.3 483.57,454.38 484.07,454.59 484.57,454.13 485.07,453.96 485.57,454.16 486.07,454.42 486.57,454.09 487.08,454.07 487.58,454.58 488.08,454.41 488.58,454.26 489.08,454.57 489.58,454.18 490.08,454.42 490.58,454.09 491.08,454.25 491.58,454.51 492.08,454.59 492.59,454.57 493.09,454.22 493.59,454.36 494.09,454.17 494.59,454.05 495.09,454.3 495.59,454.54 496.09,454.54 496.59,454.45 497.09,454.62 497.59,454.14 498.09,454.07 498.6,454.27 499.1,454.14 499.6,454.1 500.1,454.24 500.6,454.39 501.1,454.3 501.6,454.17 502.1,454.54 502.6,454.64 503.1,454.27 503.6,454 504.11,453.97 504.61,454.56 505.11,453.98 505.61,454.45 506.11,454.35 506.61,454.17 507.11,454.5 507.61,453.96 508.11,454.05 508.61,454.27 508.61,454.8 444,454.8" fill="#fff" stroke="none"/>
<polyline points="444,454.44 444.5,454.13 445,454.53 445.5,454.37 446,454.16 446.5,454.07 447,454.45 447.5,454 448,454.11 448.51,454.34 449.01,454.55 449.51,454.38 450.01,454.15 450.51,454.59 451.01,454.09 451.51,453.96 452.01,454.14 452.51,454.26 453.01,453.99 453.51,454.07 454.02,454.21 454.52,454.35 455.02,454.04 455.52,454.2 456.02,454.57 456.52,454.64 457.02,454.41 457.52,454.43 458.02,454.36 458.52,454.05 459.02,453.97 459.53,453.96 460.03,454.59 460.53,454.44 461.03,454.62 461.53,453.96 462.03,454.4 462.53,454.29 463.03,454.46 463.53,454.17 464.03,454.65 464.53,454 465.04,454.33 465.54,454.47 466.04,454.58 466.54,454.47 467.04,454.44 467.54,454.46 468.04,454.34 468.54,453.13 469.04,451.11 469.54,446.67 470.04,439.52 470.55,430.58 471.05,422.29 471.55,415.05 472.05,412.34 472.55,412.25 473.05,411.06 473.55,409.61 474.05,410.49 474.55,414.1 475.05,419.57 475.55,425.88 476.06,434.43 476.56,442.55 477.06,448.47 477.56,452.29 478.06,453.73 478.56,454.13 479.06,454.52 479.56,454.01 480.06,454.48 480.56,453.97 481.06,454.37 481.57,454.29 482.07,454.11 482.57,454.44 483.07,454.3 483.57,454.38 484.07,454.59 484.57,454.13 485.07,453.96 485.57,454.16 486.07,454.42 486.57,454.09 487.08,454.07 487.58,454.58 488.08,454.41 488.58,454.26 489.08,454.57 489.58,454.18 490.08,454.42 490.58,454.09 491.08,454.25 491.58,454.51 492.08,454.59 492.59,454.57 493.09,454.22 493.59,454.36 494.09,454.17 494.59,454.05 495.09,454.3 495.59,454.54 496.09,454.54 496.59,454.45 497.09,454.62 497.59,454.14 498.09,454.07 498.6,454.27 499.1,454.14 499.6,454.1 500.1,454.24 500.6,454.39 501.1,454.3 501.6,454.17 502.1,454.54 502.6,454.64 503.1,454.27 503.6,454 504.11,453.97 504.61,454.56 505.11,453.98 505.61,454.45 506.11,454.35 506.61,454.17 507.11,454.5 507.61,453.96 508.11,454.05 508.61,454.27" fill="none" stroke="#3030e0" stroke-width="1.3" stroke-linejoin="round" />
<polygon points="433.92,465.67 434.42,466.23 434.92,465.82 435.43,465.75 435.93,465.68 436.43,466.09 436.93,465.96 437.43,466.09 437.94,466.11 438.44,466.22 438.94,466.32 439.44,466.13 439.95,465.79 440.45,465.98 440.95,465.78 441.45,465.66 441.96,465.98 442.46,466.15 442.96,465.78 443.46,465.84 443.96,465.89 444.47,466.14 444.97,466.01 445.47,466.08 445.97,466.18 446.48,465.93 446.98,466.2 447.48,466.28 447.98,465.71 448.49,466.3 448.99,466.16 449.49,465.74 449.99,465.97 450.49,466.09 451,466.29 451.5,465.91 452,466.05 452.5,466.27 453.01,466.21 453.51,466.31 454.01,465.97 454.51,466.11 455.01,465.79 455.52,466.16 456.02,466.22 456.52,466.1 457.02,466.15 457.53,465.8 458.03,466.28 458.53,466.34 459.03,466.33 459.54,466.01 460.04,466.08 460.54,465.31 461.04,464.33 461.54,461.05 462.05,454.91 462.55,446.61 463.05,437.77 463.55,428.88 464.06,422.35 464.56,420.16 465.06,419.75 465.56,419.13 466.07,416.95 466.57,418.27 467.07,421.83 467.57,427.19 468.07,433.31 468.58,441.7 469.08,450.57 469.58,457.99 470.08,462.72 470.59,465.08 471.09,465.84 471.59,466.26 472.09,465.99 472.6,466.31 473.1,465.71 473.6,465.8 474.1,466.02 474.6,465.85 475.11,466.16 475.61,466.1 476.11,466.02 476.61,466.24 477.12,466.04 477.62,465.87 478.12,465.92 478.62,466.24 479.13,466.28 479.63,465.8 480.13,466.25 480.63,466.33 481.13,466.02 481.64,466.05 482.14,465.79 482.64,466.03 483.14,466 483.65,466.07 484.15,465.67 484.65,466.33 485.15,466.01 485.65,465.93 486.16,466.21 486.66,466.04 487.16,465.99 487.66,466.13 488.17,465.7 488.67,466.03 489.17,465.94 489.67,466.32 490.18,466.3 490.68,465.84 491.18,465.98 491.68,465.74 492.18,465.95 492.69,466.22 493.19,466.28 493.69,465.98 494.19,465.87 494.7,465.78 495.2,466.08 495.7,466.3 496.2,465.74 496.71,466.2 497.21,465.67 497.71,465.79 498.21,465.81 498.71,466.13 499.22,465.88 499.72,465.9 500.22,466.08 500.72,465.72 501.23,466.16 501.73,465.74 502.23,466.01 502.73,465.83 502.73,466.5 433.92,466.5" fill="#fff" stroke="none"/>
<polyline points="433.92,465.67 434.42,466.23 434.92,465.82 435.43,465.75 435.93,465.68 436.43,466.09 436.93,465.96 437.43,466.09 437.94,466.11 438.44,466.22 438.94,466.32 439.44,466.13 439.95,465.79 440.45,465.98 440.95,465.78 441.45,465.66 441.96,465.98 442.46,466.15 442.96,465.78 443.46,465.84 443.96,465.89 444.47,466.14 444.97,466.01 445.47,466.08 445.97,466.18 446.48,465.93 446.98,466.2 447.48,466.28 447.98,465.71 448.49,466.3 448.99,466.16 449.49,465.74 449.99,465.97 450.49,466.09 451,466.29 451.5,465.91 452,466.05 452.5,466.27 453.01,466.21 453.51,466.31 454.01,465.97 454.51,466.11 455.01,465.79 455.52,466.16 456.02,466.22 456.52,466.1 457.02,466.15 457.53,465.8 458.03,466.28 458.53,466.34 459.03,466.33 459.54,466.01 460.04,466.08 460.54,465.31 461.04,464.33 461.54,461.05 462.05,454.91 462.55,446.61 463.05,437.77 463.55,428.88 464.06,422.35 464.56,420.16 465.06,419.75 465.56,419.13 466.07,416.95 466.57,418.27 467.07,421.83 467.57,427.19 468.07,433.31 468.58,441.7 469.08,450.57 469.58,457.99 470.08,462.72 470.59,465.08 471.09,465.84 471.59,466.26 472.09,465.99 472.6,466.31 473.1,465.71 473.6,465.8 474.1,466.02 474.6,465.85 475.11,466.16 475.61,466.1 476.11,466.02 476.61,466.24 477.12,466.04 477.62,465.87 478.12,465.92 478.62,466.24 479.13,466.28 479.63,465.8 480.13,466.25 480.63,466.33 481.13,466.02 481.64,466.05 482.14,465.79 482.64,466.03 483.14,466 483.65,466.07 484.15,465.67 484.65,466.33 485.15,466.01 485.65,465.93 486.16,466.21 486.66,466.04 487.16,465.99 487.66,466.13 488.17,465.7 488.67,466.03 489.17,465.94 489.67,466.32 490.18,466.3 490.68,465.84 491.18,465.98 491.68,465.74 492.18,465.95 492.69,466.22 493.19,466.28 493.69,465.98 494.19,465.87 494.7,465.78 495.2,466.08 495.7,466.3 496.2,465.74 496.71,466.2 497.21,465.67 497.71,465.79 498.21,465.81 498.71,466.13 499.22,465.88 499.72,465.9 500.22,466.08 500.72,465.72 501.23,466.16 501.73,465.74 502.23,466.01 502.73,465.83" fill="none" stroke="#2a8cc8" stroke-width="1.3" stroke-linejoin="round" />
<polygon points="423.93,477.39 424.43,477.62 424.93,477.56 425.44,477.51 425.94,477.54 426.44,477.62 426.95,477.36 427.45,477.39 427.95,477.69 428.45,477.7 428.96,477.62 429.46,477.85 429.96,477.68 430.47,477.85 430.97,477.41 431.47,477.77 431.98,477.82 432.48,477.88 432.98,477.47 433.49,477.47 433.99,477.9 434.49,477.4 435,477.95 435.5,477.87 436,477.34 436.51,477.42 437.01,477.76 437.51,477.43 438.02,477.32 438.52,477.83 439.02,477.55 439.53,477.8 440.03,477.34 440.53,477.53 441.04,477.73 441.54,477.26 442.04,477.39 442.55,477.73 443.05,477.89 443.55,477.93 444.06,477.33 444.56,477.6 445.06,477.78 445.57,477.6 446.07,477.73 446.57,477.38 447.08,477.3 447.58,477.32 448.08,477.28 448.59,477.64 449.09,477.61 449.59,477.65 450.1,477.35 450.6,477.37 451.1,477.36 451.61,477.65 452.11,477.19 452.61,475.56 453.12,471.55 453.62,465.71 454.12,458.43 454.63,449.33 455.13,440.92 455.63,433.86 456.14,431.63 456.64,431.54 457.14,430.64 457.65,429.04 458.15,428.49 458.65,431.97 459.16,436.92 459.66,441.66 460.16,449.12 460.67,458.08 461.17,465.78 461.67,471.51 462.18,474.97 462.68,476.84 463.18,477.07 463.69,477.84 464.19,477.81 464.69,477.74 465.2,477.85 465.7,477.69 466.2,477.53 466.7,477.67 467.21,477.6 467.71,477.94 468.21,477.81 468.72,477.43 469.22,477.89 469.72,477.77 470.23,477.79 470.73,477.82 471.23,477.53 471.74,477.88 472.24,477.87 472.74,477.74 473.25,477.79 473.75,477.79 474.25,477.53 474.76,477.76 475.26,477.3 475.76,477.49 476.27,477.58 476.77,477.26 477.27,477.5 477.78,477.7 478.28,477.69 478.78,477.41 479.29,477.91 479.79,477.72 480.29,477.49 480.8,477.71 481.3,477.65 481.8,477.62 482.31,477.52 482.81,477.95 483.31,477.7 483.82,477.74 484.32,477.78 484.82,477.94 485.33,477.27 485.83,477.68 486.33,477.77 486.84,477.43 487.34,477.53 487.84,477.29 488.35,477.39 488.85,477.51 489.35,477.32 489.86,477.43 490.36,477.88 490.86,477.64 491.37,477.61 491.87,477.93 492.37,477.65 492.88,477.95 493.38,477.7 493.88,477.82 494.39,477.3 494.89,477.67 495.39,477.78 495.9,477.28 496.4,477.9 496.9,477.36 496.9,478.1 423.93,478.1" fill="#fff" stroke="none"/>
<polyline points="423.93,477.39 424.43,477.62 424.93,477.56 425.44,477.51 425.94,477.54 426.44,477.62 426.95,477.36 427.45,477.39 427.95,477.69 428.45,477.7 428.96,477.62 429.46,477.85 429.96,477.68 430.47,477.85 430.97,477.41 431.47,477.77 431.98,477.82 432.48,477.88 432.98,477.47 433.49,477.47 433.99,477.9 434.49,477.4 435,477.95 435.5,477.87 436,477.34 436.51,477.42 437.01,477.76 437.51,477.43 438.02,477.32 438.52,477.83 439.02,477.55 439.53,477.8 440.03,477.34 440.53,477.53 441.04,477.73 441.54,477.26 442.04,477.39 442.55,477.73 443.05,477.89 443.55,477.93 444.06,477.33 444.56,477.6 445.06,477.78 445.57,477.6 446.07,477.73 446.57,477.38 447.08,477.3 447.58,477.32 448.08,477.28 448.59,477.64 449.09,477.61 449.59,477.65 450.1,477.35 450.6,477.37 451.1,477.36 451.61,477.65 452.11,477.19 452.61,475.56 453.12,471.55 453.62,465.71 454.12,458.43 454.63,449.33 455.13,440.92 455.63,433.86 456.14,431.63 456.64,431.54 457.14,430.64 457.65,429.04 458.15,428.49 458.65,431.97 459.16,436.92 459.66,441.66 460.16,449.12 460.67,458.08 461.17,465.78 461.67,471.51 462.18,474.97 462.68,476.84 463.18,477.07 463.69,477.84 464.19,477.81 464.69,477.74 465.2,477.85 465.7,477.69 466.2,477.53 466.7,477.67 467.21,477.6 467.71,477.94 468.21,477.81 468.72,477.43 469.22,477.89 469.72,477.77 470.23,477.79 470.73,477.82 471.23,477.53 471.74,477.88 472.24,477.87 472.74,477.74 473.25,477.79 473.75,477.79 474.25,477.53 474.76,477.76 475.26,477.3 475.76,477.49 476.27,477.58 476.77,477.26 477.27,477.5 477.78,477.7 478.28,477.69 478.78,477.41 479.29,477.91 479.79,477.72 480.29,477.49 480.8,477.71 481.3,477.65 481.8,477.62 482.31,477.52 482.81,477.95 483.31,477.7 483.82,477.74 484.32,477.78 484.82,477.94 485.33,477.27 485.83,477.68 486.33,477.77 486.84,477.43 487.34,477.53 487.84,477.29 488.35,477.39 488.85,477.51 489.35,477.32 489.86,477.43 490.36,477.88 490.86,477.64 491.37,477.61 491.87,477.93 492.37,477.65 492.88,477.95 493.38,477.7 493.88,477.82 494.39,477.3 494.89,477.67 495.39,477.78 495.9,477.28 496.4,477.9 496.9,477.36" fill="none" stroke="#f2e244" stroke-width="1.3" stroke-linejoin="round" />
<polygon points="412.9,490.38 413.4,490.17 413.9,490.4 414.4,490.48 414.9,490.09 415.4,490.71 415.9,490.34 416.4,490.42 416.9,490.47 417.4,490.31 417.9,490.25 418.4,490.51 418.9,490.44 419.4,490.25 419.9,490.55 420.41,490.26 420.91,490.06 421.41,490.22 421.91,490.08 422.41,490.16 422.91,490.58 423.41,490.32 423.91,490.68 424.41,490.57 424.91,490.09 425.41,490.74 425.91,490.71 426.41,490.1 426.91,490.68 427.41,490.35 427.91,490.38 428.41,490.73 428.91,490.22 429.41,490.42 429.91,490.71 430.41,490.56 430.91,490.38 431.42,490.74 431.92,490.62 432.42,490.47 432.92,490.13 433.42,490.49 433.92,490.37 434.42,490.19 434.92,490.09 435.42,490.42 435.92,490.14 436.42,490.36 436.92,490.52 437.42,490.37 437.92,490.23 438.42,490.46 438.92,490.34 439.42,490.59 439.92,490.42 440.42,490.75 440.92,490.71 441.42,490.52 441.92,489.98 442.43,489.26 442.93,488.16 443.43,484.67 443.93,478.93 444.43,471.11 444.93,462.48 445.43,454.39 445.93,446.8 446.43,443.47 446.93,443.08 447.43,442.8 447.93,440.87 448.43,439.71 448.93,441.63 449.43,445.61 449.93,450.55 450.43,455.24 450.93,463.36 451.43,472.04 451.93,479.58 452.43,485.09 452.93,487.88 453.44,489.68 453.94,489.9 454.44,490.07 454.94,490.52 455.44,490.43 455.94,490.49 456.44,490.31 456.94,490.38 457.44,490.2 457.94,490.29 458.44,490.57 458.94,490.64 459.44,490.1 459.94,490.13 460.44,490.62 460.94,490.49 461.44,490.59 461.94,490.2 462.44,490.35 462.94,490.23 463.44,490.62 463.94,490.31 464.45,490.51 464.95,490.74 465.45,490.28 465.95,490.43 466.45,490.57 466.95,490.69 467.45,490.35 467.95,490.31 468.45,490.12 468.95,490.66 469.45,490.1 469.95,490.11 470.45,490.44 470.95,490.39 471.45,490.53 471.95,490.26 472.45,490.59 472.95,490.1 473.45,490.2 473.95,490.51 474.45,490.11 474.95,490.26 475.46,490.56 475.96,490.54 476.46,490.25 476.96,490.15 477.46,490.3 477.96,490.56 478.46,490.31 478.96,490.13 479.46,490.55 479.96,490.45 480.46,490.69 480.96,490.71 481.46,490.69 481.96,490.36 482.46,490.61 482.96,490.26 483.46,490.27 483.96,490.33 484.46,490.7 484.96,490.68 485.46,490.22 485.96,490.3 486.46,490.31 486.97,490.3 487.47,490.33 487.97,490.32 488.47,490.19 488.97,490.44 489.47,490.61 489.97,490.43 490.47,490.64 490.47,490.9 412.9,490.9" fill="#fff" stroke="none"/>
<polyline points="412.9,490.38 413.4,490.17 413.9,490.4 414.4,490.48 414.9,490.09 415.4,490.71 415.9,490.34 416.4,490.42 416.9,490.47 417.4,490.31 417.9,490.25 418.4,490.51 418.9,490.44 419.4,490.25 419.9,490.55 420.41,490.26 420.91,490.06 421.41,490.22 421.91,490.08 422.41,490.16 422.91,490.58 423.41,490.32 423.91,490.68 424.41,490.57 424.91,490.09 425.41,490.74 425.91,490.71 426.41,490.1 426.91,490.68 427.41,490.35 427.91,490.38 428.41,490.73 428.91,490.22 429.41,490.42 429.91,490.71 430.41,490.56 430.91,490.38 431.42,490.74 431.92,490.62 432.42,490.47 432.92,490.13 433.42,490.49 433.92,490.37 434.42,490.19 434.92,490.09 435.42,490.42 435.92,490.14 436.42,490.36 436.92,490.52 437.42,490.37 437.92,490.23 438.42,490.46 438.92,490.34 439.42,490.59 439.92,490.42 440.42,490.75 440.92,490.71 441.42,490.52 441.92,489.98 442.43,489.26 442.93,488.16 443.43,484.67 443.93,478.93 444.43,471.11 444.93,462.48 445.43,454.39 445.93,446.8 446.43,443.47 446.93,443.08 447.43,442.8 447.93,440.87 448.43,439.71 448.93,441.63 449.43,445.61 449.93,450.55 450.43,455.24 450.93,463.36 451.43,472.04 451.93,479.58 452.43,485.09 452.93,487.88 453.44,489.68 453.94,489.9 454.44,490.07 454.94,490.52 455.44,490.43 455.94,490.49 456.44,490.31 456.94,490.38 457.44,490.2 457.94,490.29 458.44,490.57 458.94,490.64 459.44,490.1 459.94,490.13 460.44,490.62 460.94,490.49 461.44,490.59 461.94,490.2 462.44,490.35 462.94,490.23 463.44,490.62 463.94,490.31 464.45,490.51 464.95,490.74 465.45,490.28 465.95,490.43 466.45,490.57 466.95,490.69 467.45,490.35 467.95,490.31 468.45,490.12 468.95,490.66 469.45,490.1 469.95,490.11 470.45,490.44 470.95,490.39 471.45,490.53 471.95,490.26 472.45,490.59 472.95,490.1 473.45,490.2 473.95,490.51 474.45,490.11 474.95,490.26 475.46,490.56 475.96,490.54 476.46,490.25 476.96,490.15 477.46,490.3 477.96,490.56 478.46,490.31 478.96,490.13 479.46,490.55 479.96,490.45 480.46,490.69 480.96,490.71 481.46,490.69 481.96,490.36 482.46,490.61 482.96,490.26 483.46,490.27 483.96,490.33 484.46,490.7 484.96,490.68 485.46,490.22 485.96,490.3 486.46,490.31 486.97,490.3 487.47,490.33 487.97,490.32 488.47,490.19 488.97,490.44 489.47,490.61 489.97,490.43 490.47,490.64" fill="none" stroke="#ff9020" stroke-width="1.3" stroke-linejoin="round" />
<polygon points="398.17,507.54 398.67,507.27 399.17,507.68 399.67,507.77 400.17,507.35 400.67,507.17 401.17,507.51 401.68,507.53 402.18,507.55 402.68,507.83 403.18,507.61 403.68,507.71 404.18,507.19 404.68,507.53 405.18,507.7 405.69,507.21 406.19,507.21 406.69,507.67 407.19,507.78 407.69,507.21 408.19,507.59 408.69,507.25 409.19,507.67 409.7,507.6 410.2,507.32 410.7,507.3 411.2,507.69 411.7,507.52 412.2,507.69 412.7,507.43 413.2,507.39 413.71,507.83 414.21,507.62 414.71,507.5 415.21,507.53 415.71,507.65 416.21,507.65 416.71,507.79 417.21,507.44 417.72,507.73 418.22,507.62 418.72,507.75 419.22,507.71 419.72,507.73 420.22,507.77 420.72,507.82 421.22,507.6 421.73,507.52 422.23,507.65 422.73,507.71 423.23,507.45 423.73,507.44 424.23,507.25 424.73,507.67 425.23,507.84 425.74,507.41 426.24,507.27 426.74,507.29 427.24,507.45 427.74,507.35 428.24,507.83 428.74,507.19 429.24,507.36 429.74,507.21 430.25,507.51 430.75,507.3 431.25,505.99 431.75,503.8 432.25,500 432.75,493.66 433.25,485.42 433.75,475.37 434.26,466.28 434.76,457.65 435.26,453.3 435.76,452.48 436.26,452.66 436.76,451.21 437.26,449.16 437.76,449.37 438.27,452.77 438.77,457.88 439.27,463.85 439.77,470.49 440.27,480.01 440.77,489.37 441.27,496.78 441.77,501.98 442.28,505.53 442.78,507.02 443.28,507.18 443.78,507.49 444.28,507.81 444.78,507.49 445.28,507.3 445.78,507.18 446.29,507.81 446.79,507.71 447.29,507.42 447.79,507.52 448.29,507.51 448.79,507.34 449.29,507.84 449.79,507.61 450.3,507.32 450.8,507.16 451.3,507.48 451.8,507.41 452.3,507.71 452.8,507.65 453.3,507.57 453.8,507.26 454.31,507.26 454.81,507.38 455.31,507.33 455.81,507.76 456.31,507.51 456.81,507.6 457.31,507.85 457.81,507.34 458.32,507.52 458.82,507.26 459.32,507.69 459.82,507.15 460.32,507.72 460.82,507.74 461.32,507.73 461.82,507.21 462.33,507.34 462.83,507.65 463.33,507.22 463.83,507.49 464.33,507.48 464.83,507.82 465.33,507.56 465.83,507.75 466.34,507.36 466.84,507.7 467.34,507.44 467.84,507.79 468.34,507.21 468.84,507.73 469.34,507.3 469.84,507.53 470.35,507.52 470.85,507.26 471.35,507.73 471.85,507.37 472.35,507.37 472.85,507.2 473.35,507.36 473.85,507.48 474.35,507.65 474.86,507.4 475.36,507.63 475.86,507.22 476.36,507.43 476.86,507.47 477.36,507.83 477.86,507.73 478.36,507.61 478.87,507.16 479.37,507.41 479.87,507.65 480.37,507.32 480.87,507.54 481.37,507.47 481.87,507.16 481.87,508 398.17,508" fill="#fff" stroke="none"/>
<polyline points="398.17,507.54 398.67,507.27 399.17,507.68 399.67,507.77 400.17,507.35 400.67,507.17 401.17,507.51 401.68,507.53 402.18,507.55 402.68,507.83 403.18,507.61 403.68,507.71 404.18,507.19 404.68,507.53 405.18,507.7 405.69,507.21 406.19,507.21 406.69,507.67 407.19,507.78 407.69,507.21 408.19,507.59 408.69,507.25 409.19,507.67 409.7,507.6 410.2,507.32 410.7,507.3 411.2,507.69 411.7,507.52 412.2,507.69 412.7,507.43 413.2,507.39 413.71,507.83 414.21,507.62 414.71,507.5 415.21,507.53 415.71,507.65 416.21,507.65 416.71,507.79 417.21,507.44 417.72,507.73 418.22,507.62 418.72,507.75 419.22,507.71 419.72,507.73 420.22,507.77 420.72,507.82 421.22,507.6 421.73,507.52 422.23,507.65 422.73,507.71 423.23,507.45 423.73,507.44 424.23,507.25 424.73,507.67 425.23,507.84 425.74,507.41 426.24,507.27 426.74,507.29 427.24,507.45 427.74,507.35 428.24,507.83 428.74,507.19 429.24,507.36 429.74,507.21 430.25,507.51 430.75,507.3 431.25,505.99 431.75,503.8 432.25,500 432.75,493.66 433.25,485.42 433.75,475.37 434.26,466.28 434.76,457.65 435.26,453.3 435.76,452.48 436.26,452.66 436.76,451.21 437.26,449.16 437.76,449.37 438.27,452.77 438.77,457.88 439.27,463.85 439.77,470.49 440.27,480.01 440.77,489.37 441.27,496.78 441.77,501.98 442.28,505.53 442.78,507.02 443.28,507.18 443.78,507.49 444.28,507.81 444.78,507.49 445.28,507.3 445.78,507.18 446.29,507.81 446.79,507.71 447.29,507.42 447.79,507.52 448.29,507.51 448.79,507.34 449.29,507.84 449.79,507.61 450.3,507.32 450.8,507.16 451.3,507.48 451.8,507.41 452.3,507.71 452.8,507.65 453.3,507.57 453.8,507.26 454.31,507.26 454.81,507.38 455.31,507.33 455.81,507.76 456.31,507.51 456.81,507.6 457.31,507.85 457.81,507.34 458.32,507.52 458.82,507.26 459.32,507.69 459.82,507.15 460.32,507.72 460.82,507.74 461.32,507.73 461.82,507.21 462.33,507.34 462.83,507.65 463.33,507.22 463.83,507.49 464.33,507.48 464.83,507.82 465.33,507.56 465.83,507.75 466.34,507.36 466.84,507.7 467.34,507.44 467.84,507.79 468.34,507.21 468.84,507.73 469.34,507.3 469.84,507.53 470.35,507.52 470.85,507.26 471.35,507.73 471.85,507.37 472.35,507.37 472.85,507.2 473.35,507.36 473.85,507.48 474.35,507.65 474.86,507.4 475.36,507.63 475.86,507.22 476.36,507.43 476.86,507.47 477.36,507.83 477.86,507.73 478.36,507.61 478.87,507.16 479.37,507.41 479.87,507.65 480.37,507.32 480.87,507.54 481.37,507.47 481.87,507.16" fill="none" stroke="#ff2a2a" stroke-width="1.3" stroke-linejoin="round" />
<line x1="390.5" y1="450.4" x2="390.5" y2="516.4" stroke="#111" stroke-width="1.4" />
<line x1="390.5" y1="516.4" x2="477.4" y2="516.4" stroke="#111" stroke-width="1.4" />
<line x1="477.4" y1="516.4" x2="515.5" y2="440.6" stroke="#111" stroke-width="1.4" />
<line x1="390.5" y1="450.4" x2="455.8" y2="395.3" stroke="#111" stroke-width="1.4" />
<line x1="455.8" y1="395.3" x2="515.5" y2="395.3" stroke="#111" stroke-width="1.2" />
<line x1="515.5" y1="395.3" x2="515.5" y2="440.6" stroke="#111" stroke-width="1" />
<line x1="388.9" y1="516.4" x2="390.5" y2="516.4" stroke="#555" stroke-width="0.6" />
<text x="386.6" y="518.2" font-size="5.6" text-anchor="end" font-weight="bold" fill="#333" stroke="#333" stroke-width="0.17" >0.0</text>
<line x1="388.9" y1="504.52" x2="390.5" y2="504.52" stroke="#555" stroke-width="0.6" />
<text x="386.6" y="506.32" font-size="5.6" text-anchor="end" font-weight="bold" fill="#333" stroke="#333" stroke-width="0.17" >0.2</text>
<line x1="388.9" y1="492.64" x2="390.5" y2="492.64" stroke="#555" stroke-width="0.6" />
<text x="386.6" y="494.44" font-size="5.6" text-anchor="end" font-weight="bold" fill="#333" stroke="#333" stroke-width="0.17" >0.4</text>
<line x1="388.9" y1="480.76" x2="390.5" y2="480.76" stroke="#555" stroke-width="0.6" />
<text x="386.6" y="482.56" font-size="5.6" text-anchor="end" font-weight="bold" fill="#333" stroke="#333" stroke-width="0.17" >0.6</text>
<line x1="388.9" y1="468.88" x2="390.5" y2="468.88" stroke="#555" stroke-width="0.6" />
<text x="386.6" y="470.68" font-size="5.6" text-anchor="end" font-weight="bold" fill="#333" stroke="#333" stroke-width="0.17" >0.8</text>
<line x1="388.9" y1="457" x2="390.5" y2="457" stroke="#555" stroke-width="0.6" />
<text x="386.6" y="458.8" font-size="5.6" text-anchor="end" font-weight="bold" fill="#333" stroke="#333" stroke-width="0.17" >1.0</text>
<line x1="407" y1="516.4" x2="407" y2="518.2" stroke="#555" stroke-width="0.6" />
<text x="407" y="527.4" font-size="6" text-anchor="middle" font-weight="bold" fill="#333" stroke="#333" stroke-width="0.18" >1064.1</text>
<line x1="435.2" y1="516.4" x2="435.2" y2="518.2" stroke="#555" stroke-width="0.6" />
<text x="435.2" y="527.4" font-size="6" text-anchor="middle" font-weight="bold" fill="#333" stroke="#333" stroke-width="0.18" >1064.4</text>
<line x1="459.8" y1="516.4" x2="459.8" y2="518.2" stroke="#555" stroke-width="0.6" />
<text x="459.8" y="527.4" font-size="6" text-anchor="middle" font-weight="bold" fill="#333" stroke="#333" stroke-width="0.18" >1064.7</text>
<line x1="481.87" y1="507.5" x2="484.07" y2="507.5" stroke="#555" stroke-width="0.6" />
<g transform="translate(486.87,509.8) scale(0.95,1)"><text x="0" y="0" font-size="5.2" text-anchor="start" font-weight="bold" fill="#333" stroke="#333" stroke-width="0.16" >100Hz 20kHz</text></g>
<line x1="490.47" y1="490.4" x2="492.67" y2="490.4" stroke="#555" stroke-width="0.6" />
<g transform="translate(495.47,492.7) scale(0.95,1)"><text x="0" y="0" font-size="5.2" text-anchor="start" font-weight="bold" fill="#333" stroke="#333" stroke-width="0.16" >100Hz 40kHz</text></g>
<line x1="496.9" y1="477.6" x2="499.1" y2="477.6" stroke="#555" stroke-width="0.6" />
<g transform="translate(501.9,479.9) scale(0.95,1)"><text x="0" y="0" font-size="5.2" text-anchor="start" font-weight="bold" fill="#333" stroke="#333" stroke-width="0.16" >100Hz 50kHz</text></g>
<line x1="502.73" y1="466" x2="504.93" y2="466" stroke="#555" stroke-width="0.6" />
<g transform="translate(507.73,468.3) scale(0.95,1)"><text x="0" y="0" font-size="5.2" text-anchor="start" font-weight="bold" fill="#333" stroke="#333" stroke-width="0.16" >200Hz 20kHz</text></g>
<line x1="508.61" y1="454.3" x2="510.81" y2="454.3" stroke="#555" stroke-width="0.6" />
<g transform="translate(513.61,456.6) scale(0.95,1)"><text x="0" y="0" font-size="5.2" text-anchor="start" font-weight="bold" fill="#333" stroke="#333" stroke-width="0.16" >200Hz 40kHz</text></g>
<line x1="513.59" y1="444.4" x2="515.79" y2="444.4" stroke="#555" stroke-width="0.6" />
<g transform="translate(518.59,446.7) scale(0.95,1)"><text x="0" y="0" font-size="5.2" text-anchor="start" font-weight="bold" fill="#333" stroke="#333" stroke-width="0.16" >200Hz 50kHz</text></g>
<text x="0" y="0" font-size="8.8" text-anchor="middle" font-weight="bold" fill="#111" stroke="#111" stroke-width="0.26" transform="translate(538.6,481.2) rotate(-70.8)">Repetation Rate</text>
<text x="434.6" y="537.2" font-size="9" text-anchor="middle" font-weight="bold" fill="#111" stroke="#111" stroke-width="0.27" >Wavelength (nm)</text>
<text x="0" y="0" font-size="8.8" text-anchor="middle" font-weight="bold" fill="#111" stroke="#111" stroke-width="0.26" transform="translate(374.6,482.6) rotate(-90)">Intensity (a.u.)</text>
<text x="458.6" y="406.7" font-size="10.8" text-anchor="start" font-weight="bold" fill="#111" stroke="#111" stroke-width="0.32" >λc=1064.4 nm</text>
<text x="377.2" y="390.1" font-size="14" text-anchor="start" font-weight="bold" fill="#111" stroke="#111" stroke-width="0.42" >(i)</text>
</svg></body></html>
